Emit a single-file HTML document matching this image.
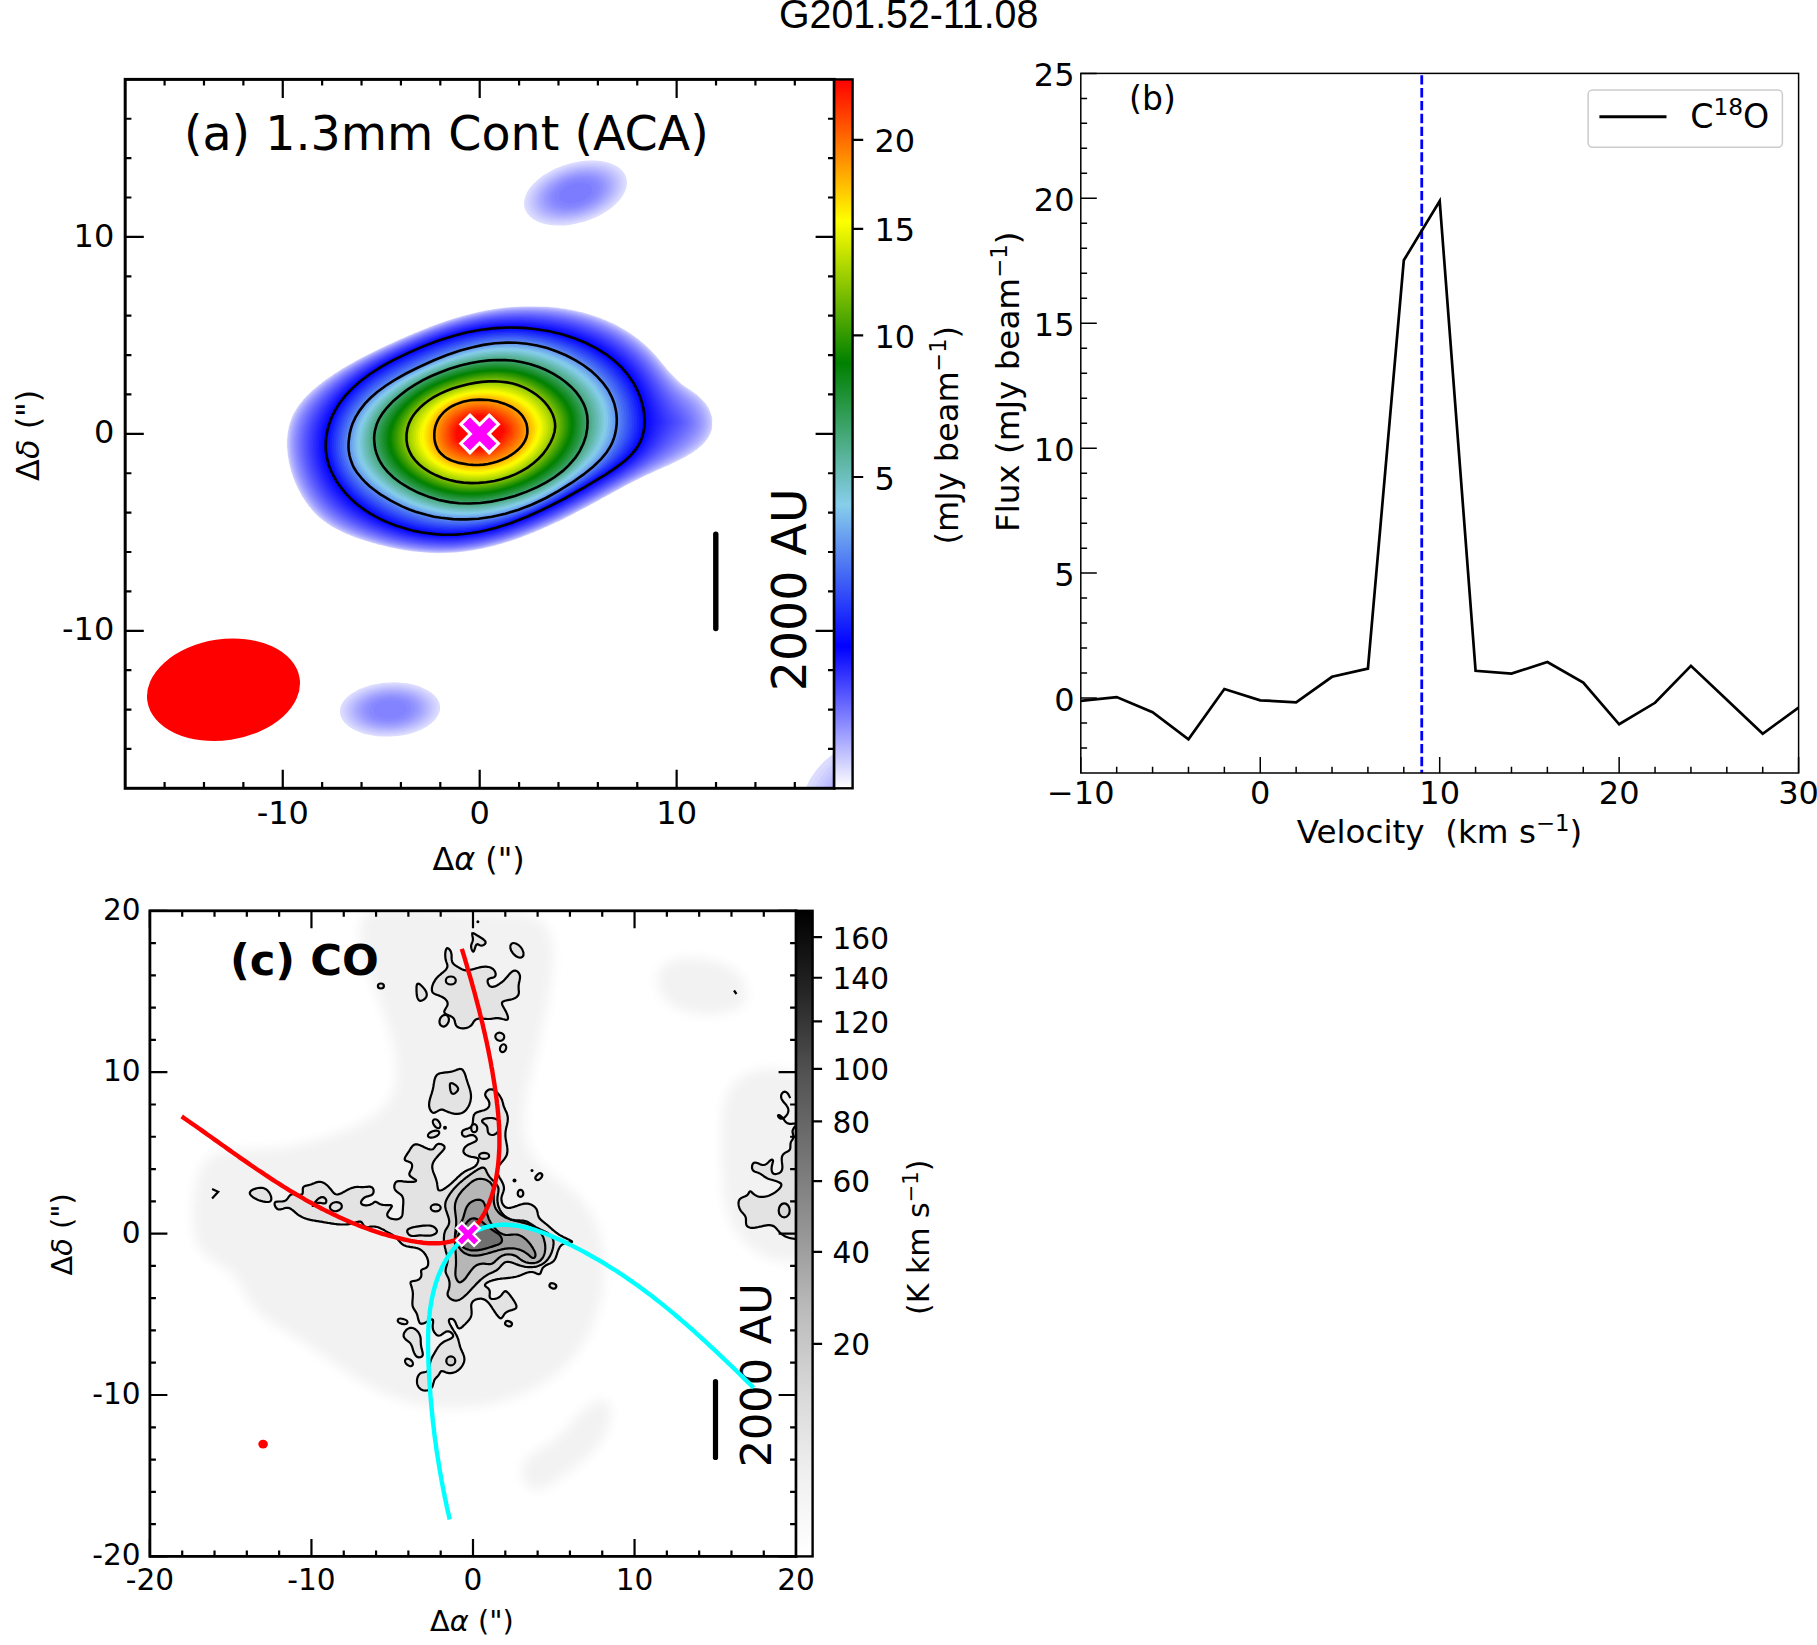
<!DOCTYPE html><html><head><meta charset="utf-8"><title>G201.52-11.08</title><style>html,body{margin:0;padding:0;background:#fff;overflow:hidden}svg{display:block}</style></head><body>
<svg xmlns="http://www.w3.org/2000/svg" width="1817" height="1645" viewBox="0 0 1817 1645">
<rect width="1817" height="1645" fill="#fff"/>
<defs><clipPath id="clipA"><rect x="125.2" y="79.4" width="709.0" height="708.9"/></clipPath>
<linearGradient id="cbA" x1="0" y1="1" x2="0" y2="0"><stop offset="0" stop-color="#ffffff"/><stop offset="0.2" stop-color="#0000ff"/><stop offset="0.4" stop-color="#87ceeb"/><stop offset="0.6" stop-color="#008000"/><stop offset="0.8" stop-color="#ffff00"/><stop offset="1" stop-color="#ff0000"/></linearGradient>
<linearGradient id="cbC" x1="0" y1="1" x2="0" y2="0"><stop offset="0.000" stop-color="#ffffff"/><stop offset="0.125" stop-color="#f0f0f0"/><stop offset="0.250" stop-color="#d9d9d9"/><stop offset="0.375" stop-color="#bdbdbd"/><stop offset="0.500" stop-color="#969696"/><stop offset="0.625" stop-color="#737373"/><stop offset="0.750" stop-color="#525252"/><stop offset="0.875" stop-color="#252525"/><stop offset="1.000" stop-color="#000000"/></linearGradient>
</defs>
<g clip-path="url(#clipA)">
<path fill="rgb(220,220,255)" fill-rule="evenodd" d="M582.3,161 589,160.5 595,160.5 601,161 606,162 611,163.5 616,165.8 619.4,168 622.5,171 624.7,174 626.3,178 626.9,182 626.7,186 625.6,190 623.7,194 621.2,198 617.8,202 613.7,206 609,209.7 603,213.6 598,216.2 591,219.3 585,221.5 572,224.5 565,225.4 559,225.6 553,225.3 547,224.5 542,223.2 537,221.3 533,219 530,216.6 527,213.1 525.3,210 524.2,206 524.1,202 524.8,198 526.7,193 529.8,188 533.2,184 538,179.4 543,175.6 549,171.9 555,168.8 562,165.9 569,163.7 575,162.2 582.3,161ZM511.9,307 525,306.6 549,306.8 550,306.9 551,307.5 559,307.8 560,308.5 566,308.8 567,309.6 571,309.8 573,310.6 576,310.8 577,311.6 581,311.9 582,312.6 584,312.8 585,313.6 588,313.8 589,314.6 591,314.8 592,315.6 594,315.8 595,316.6 597,316.8 598,317.6 600,317.8 603,319.6 605,319.8 608,321.6 609,321.7 610,322.6 612,322.9 618,325.9 620,327.6 621,327.7 622,328.6 625,329.9 627,331.6 628,331.8 630,333.6 631,333.8 633,335.6 634,335.8 637,338.6 638,338.8 642,342.6 643,342.9 649,348.7 657.1,357 657.4,358 666.1,368 666.4,369 682,384.7 683,384.9 685,386.7 686,386.9 688,388.7 689,388.9 691,390.7 692,391 695,393.7 696,393.9 706.1,404 706.3,405 708.1,407 709.3,410 710.1,411 710.3,413 711.2,414 711.3,416 712.1,417 712.2,418 712.1,429 711.3,430 711.1,432 710.3,433 710.2,434 709.3,435 709.2,436 708.3,437 708.1,438 705.3,441 705.1,442 700,447.1 699,447.3 696,450.2 695,450.3 692,453 691,453.3 690,454.2 689,454.3 687,456.1 686,456.3 685,457.2 684,457.3 683,458.2 682,458.3 681,459.2 680,459.3 679,460.2 678,460.3 677,461.2 676,461.3 675,462.2 674,462.3 673,463.2 672,463.3 669,465.1 667,466 665,466.4 664,467.3 663,467.4 660,469.1 658,469.4 657,470.3 656,470.4 655,471.3 654,471.4 653,472.2 652,472.4 649,474.1 647,474.4 646,475.3 645,475.4 644,476.3 643,476.4 642,477.3 641,477.4 640,478.3 639,478.4 638,479.3 637,479.4 634,481.3 633,481.4 632,482.3 631,482.4 630,483.3 629,483.5 628,484.3 627,484.5 626,485.3 625,485.5 623,487.1 618,489.4 617,490.3 616,490.4 615,491.3 614,491.5 613,492.4 612,492.5 610,494.2 607,495.4 606,496.3 605,496.5 604,497.3 603,497.5 599,500.2 596,501.5 595,502.3 594,502.5 593,503.4 592,503.5 590,505.2 587,506.4 586,507.3 585,507.5 584,508.3 583,508.5 582,509.3 581,509.5 580,510.4 579,510.5 578,511.4 577,511.5 575,513.1 561,520.2 557,522 555,522.5 554,523.4 553,523.5 552,524.3 551,524.5 550,525.3 549,525.5 546,527.2 544,527.5 543,528.4 542,528.5 539,530.2 537,530.5 536,531.4 535,531.5 532,533.1 530,533.5 529,534.3 525,535.5 524,536.3 522,536.5 521,537.3 517,538.5 516,539.2 514,539.5 513,540.2 511,540.5 510,541.2 508,541.5 507,542.1 504,542.5 503,543.3 501,543.5 500,544.2 497,544.5 496,545.3 494,545.5 493,546.1 490,546.5 488,547.3 485,547.5 484,548.3 481,548.5 479,549.3 475,549.5 474,550.2 469,550.5 468,551.2 461,551.5 460,552.1 459,552.2 447,552.5 445,553.1 437,553.2 434,553.1 433,552.5 419,552.1 418,551.5 411,551.2 410,550.5 404,550.2 403,549.5 399,549.3 397,548.5 393,548.1 392,547.5 389,547.2 388,546.5 384,546.1 383,545.4 377,544.2 376,543.5 373,543.2 372,542.4 370,542.2 369,541.4 366,541 365,540.4 363,540.1 362,539.4 360,539.1 359,538.4 357,538.1 356,537.4 355,537.3 354,536.4 352,536.2 349,534.4 347,534.2 346,533.4 343,532.3 342,531.4 341,531.3 340,530.4 339,530.3 338,529.4 337,529.3 336,528.4 335,528.3 334,527.4 333,527.2 332,526.3 331,526.1 329,524.3 328,524.1 325,521.4 324,521.2 321,518.3 320,518 319,517.1 311.9,510 311.6,509 307.9,505 307.7,504 305.8,502 305.6,501 303.8,499 303.6,498 301.8,496 301.7,495 300.8,494 300.6,493 299.7,492 299.6,491 298.7,490 298.6,489 297.7,488 297.6,487 296.7,486 296.6,485 294.9,482 294.6,480 292.9,477 292.7,475 291.9,474 291.7,472 291,471 290.6,468 289.9,467 289.6,464 288.9,463 288.6,458 287.9,457 287.6,449 286.9,448 286.9,440 286.9,439 287.6,438 287.8,431 288.6,430 288.9,426 289.6,425 289.8,423 290.6,422 290.8,420 291.6,419 292,417 293.7,414 293.9,413 295.6,411 295.8,410 296.7,409 296.9,408 298.7,406 298.9,405 302.6,401 302.9,400 313,389.8 314,388.9 315,388.6 319,384.8 320,384.6 323,381.8 325,380.6 327,378.8 328,378.6 330,376.7 331,376.6 334,374 336,372.7 337,372.6 339,370.8 340,370.6 342,368.8 345,367.5 347,365.8 350,364.6 351,363.7 352,363.5 354,361.8 357,360.6 358,359.7 359,359.5 360,358.7 361,358.5 362,357.6 363,357.5 364,356.6 365,356.5 366,355.6 367,355.5 368,354.6 369,354.5 370,353.6 371,353.5 372,352.6 373,352.5 374,351.6 375,351.5 376,350.6 377,350.5 380,348.6 381,348.5 382,347.7 383,347.5 384,346.7 385,346.5 390,343.8 392,343.5 393,342.6 394,342.5 395,341.6 396,341.5 397,340.7 398,340.5 401,338.8 403,338.5 404,337.6 405,337.5 408,335.8 412,334.5 415,332.8 417,332.5 420,330.7 422,330.5 425,328.7 427,328.5 430,326.8 432,326.5 433,325.7 437,324.5 438,323.8 440,323.5 441,322.7 443,322.5 444,321.7 446,321.5 447,320.7 449,320.5 450,319.7 452,319.5 453,318.8 455,318.5 456,317.8 459,317.5 460,316.7 462,316.5 463,315.8 466,315.5 467,314.7 470,314.5 471,313.7 474,313.5 475,312.7 478,312.5 479,311.8 483,311.5 484,310.8 488,310.5 489,309.9 494,309.5 496,308.7 501,308.5 503,307.8 511,307.5 511.9,307ZM382,683 395,682.3 407,683.3 413,684.5 419,686.3 428,690.4 431.8,693 435.1,696 437.4,699 439,702 439.9,705 440,709 439.5,712 437.7,716 435,719.8 431.7,723 427,726.4 422,729.2 416,731.7 410,733.7 403,735.2 397,736.1 390,736.6 383,736.6 377,736.2 370,735.1 364,733.7 358,731.6 352.7,729 348.2,726 344.9,723 342.6,720 341,717 340.1,714 339.9,711 340.5,707 342.3,703 344.3,700 347.2,697 350.9,694 359,689.3 370,685.3 382,683ZM834.6,753 835,752.7 835,789 805.2,789 810.2,779 817.1,769 825,760.6 834.6,753Z"/>
<path fill="rgb(214,214,255)" fill-rule="evenodd" d="M586.5,162 598,162.2 603,163 608,164.3 612.3,166 616,168.1 619.6,171 622,174 623.5,177 624.5,181 624.6,184 624,188 622.6,192 620.4,196 617.4,200 614,203.6 610,207.1 605,210.7 594,216.6 583,220.7 576,222.4 570,223.5 558,224.1 552,223.7 547,222.8 542,221.4 538,219.7 534,217.2 531.4,215 529,212 527.1,208 526.4,204 526.6,200 527.6,196 530,191 532.8,187 537,182.4 542,178.1 547,174.7 553,171.3 559,168.5 565,166.3 572,164.2 580,162.7 586.5,162ZM512.6,307 530,306.7 549,306.9 551,307.6 559,308 560,308.6 566,309 567,309.7 571,309.9 573,310.7 576,310.9 577,311.7 580.6,312 582,312.7 584,312.9 585,313.7 588,314 589,314.7 591,314.9 592,315.7 594,315.9 595,316.7 597,316.9 598,317.7 600,318 603,319.7 605,320 608,321.7 609,321.8 610,322.7 611.8,323 617.8,326 620,327.7 621,327.9 622,328.7 624.8,330 627,331.7 628,332 630,333.7 631,334 633,335.8 634,336 637,338.7 638,339 642,342.8 644,344 649,348.8 656,356 657.2,358 666,368.1 666.2,369 674.8,378 682,384.8 682.9,385 685,386.8 693,392 695,393.8 696,394.1 702.1,400 706,404.3 710,411.3 710.2,413 711,414 711.2,416 711.9,417 712.1,419 712,428 710,433.9 707,439 702.9,444 696,450 695,450.2 693,452 690,454 689,454.2 685,457 684,457.2 683,458 682,458.2 681,459.1 680,459.2 679,460.1 678,460.2 677,461.1 676,461.2 675,462.1 674,462.2 671,464 666.5,466 665,466.3 664,467.1 663,467.2 659.9,469 658,469.3 657,470.2 656,470.3 655,471.1 654,471.3 648.8,474 647,474.3 646,475.2 645,475.3 644,476.2 643,476.3 642,477.2 641,477.3 640,478.1 639,478.3 638,479.1 633,481.3 632,482.2 631,482.3 630,483.2 629,483.3 628,484.2 627,484.4 626,485.2 625,485.4 621,488 616,490.3 615,491.2 614,491.4 613,492.2 612,492.4 610,494 607,495.3 606,496.2 605,496.4 604,497.2 603,497.4 599,500.1 596,501.3 595,502.2 594,502.4 593,503.2 592,503.4 588,506.1 583,508.4 582,509.2 581,509.4 580,510.2 579,510.4 578,511.3 577,511.4 574.9,513 561,520 556.7,522 555,522.4 554,523.2 553,523.4 552,524.2 551,524.4 546,527 544,527.4 543,528.2 542,528.4 539,530.1 537,530.4 534,532.2 530,533.4 529,534.2 525,535.4 524,536.1 522,536.4 521,537.2 517,538.4 516,539 514,539.4 513,540 511,540.4 506.9,542 504,542.4 503,543.2 501,543.4 500,544.1 497,544.4 496,545.2 490,546.4 488,547.2 485,547.4 484,548.1 481,548.4 479,549.1 475,549.4 473,550.2 469,550.4 467,551.1 461,551.4 459,552.1 438,553 434,552.9 433,552.4 419.3,552 418,551.4 411,551 410,550.4 404,550 403,549.4 399,549.1 397,548.3 393.2,548 392,547.3 389,547.1 388,546.4 385,546.1 383,545.3 377,544.1 376,543.3 373,543 372,542.3 370,542.1 369,541.3 366.4,541 362,539.3 360.3,539 359,538.3 357.4,538 355,537.1 354,536.3 352,536 349,534.3 347,534 331.3,526 329,524.2 328,523.9 325,521.3 324,521 318,516 313,511 311.8,509 308,504.9 307.8,504 305.9,502 305.8,501 303.9,499 303.8,498 302,495.9 300.8,493 299.9,492 299.8,491 298.9,490 298.8,489 297.9,488 297.8,487 296.9,486 296.8,485 295,481.9 294.7,480 293.9,479 292.8,475 292,473.7 291.8,472 291,470.4 290.8,468 290,466.7 289.8,464 289,462.3 288.7,458 288,456.8 287.7,449 287.2,448 287,446 287,441 287.2,439 287.7,438 288,431.1 288.7,430 289,426.3 289.8,425 289.9,423 290.7,422 291,420 291.8,419 292,417.5 294,413.2 295.7,411 295.9,410 299,405.2 302.8,401 304,399 312,391 315,388.7 319,385 320,384.7 327,379 328,378.7 330,376.9 331,376.7 333,374.9 336,372.9 337,372.7 342,369 345,367.7 347,366 350,364.7 351,363.8 352,363.6 356,360.9 359,359.7 360,358.8 361,358.6 362,357.8 363,357.6 364,356.8 365,356.6 366,355.7 367,355.6 368,354.7 369,354.6 370,353.7 371,353.6 372,352.7 373,352.6 374,351.7 375,351.6 376,350.7 377,350.6 378,349.7 379,349.6 380,348.8 381,348.6 382,347.8 383,347.6 388,344.9 392,343.6 395,341.8 396,341.6 401,339 403,338.6 404,337.7 405,337.6 408,335.9 412,334.6 413,333.8 417,332.6 420,330.9 422,330.6 425,328.9 427,328.6 430,326.9 432,326.6 433,325.8 437,324.6 438,324 440,323.6 441,322.9 443,322.6 444,321.9 446,321.6 447,320.8 449,320.6 450,319.9 452,319.6 453,318.9 455,318.6 456,318 459,317.6 460,316.8 462,316.6 463,316 466,315.6 467,314.9 470,314.6 471,313.9 474,313.6 475,312.9 478,312.6 479,312 483,311.6 484,311 488,310.6 489.2,310 494,309.6 496,308.9 501,308.6 503,307.9 511,307.6 512.6,307ZM384.3,684 396,683.6 408,684.8 418,687.5 423,689.5 427,691.7 430.2,694 433.4,697 435.6,700 437,703 437.7,706 437.6,710 436.8,713 435.4,716 432.3,720 429,723 424.7,726 420,728.6 415,730.6 408,732.8 401,734.3 395,735.1 388,735.5 381,735.3 374,734.5 368,733.3 362,731.5 357,729.5 352.6,727 348.6,724 345.8,721 343.9,718 342.7,715 342.2,712 342.4,709 343.2,706 344.6,703 347,699.8 349.8,697 353.7,694 362,689.5 373,685.9 384.3,684ZM834.7,758 835,757.7 835,789 809.7,789 814.4,780 820,772 827,764.4 834.7,758Z"/>
<path fill="rgb(207,207,255)" fill-rule="evenodd" d="M579.7,164 591,163.2 597,163.5 602,164.3 607,165.6 611,167.3 615,169.7 617.7,172 620.1,175 621.6,178 622.4,181 622.5,185 621.7,189 620.1,193 617.7,197 615,200.4 611.4,204 607,207.6 597,213.8 586,218.4 574,221.6 562,222.8 556,222.7 551,222.1 546,221 542,219.6 538,217.6 534.3,215 531.6,212 529.8,209 528.8,206 528.4,202 529,198 530.4,194 532.6,190 536,185.6 539.6,182 544.5,178 550,174.4 555,171.7 567,166.9 573,165.3 579.7,164ZM514.8,307 547.2,307 551,307.7 557.5,308 560,308.8 564.7,309 567,309.8 570.4,310 573,310.8 575.4,311 577,311.8 579.7,312 584,313.1 585,313.8 587.2,314 589,314.8 590.6,315 592,315.8 593.7,316 595,316.8 596.6,317 598,317.8 602,319 603,319.8 606.8,321 610,322.8 611.2,323 617.2,326 620,327.8 621,328 630.6,334 640,341 651,351 659,360 666.1,369 676,379.6 682,384.9 697.7,396 701.9,400 705,403.7 708,408.4 710,412.7 711.3,417 712,422 711.8,426 710.9,430 709,434.8 707,438.2 704,442.1 699,447 690.9,453 684.2,457 666,466 665,466.1 659.3,469 658,469.2 657,470 656,470.2 648.3,474 647,474.2 646,475 645,475.2 644,476 643,476.2 642,477 641,477.2 640,478 631,482.2 630,483 629,483.2 628,484.1 627,484.2 626,485.1 625,485.3 617,490 614,491.3 613,492.1 612,492.3 606,496 603,497.3 597,501 594,502.3 593,503.1 592,503.3 586,507 581,509.3 580,510.1 579,510.3 578,511.1 577,511.3 574.5,513 560.6,520 556.4,522 555,522.3 554,523.1 553,523.3 547.9,526 544,527.3 541,529 537,530.3 534,532 530,533.3 529,534 525,535.3 523.8,536 522,536.3 521,537.1 506.4,542 501,543.3 499.7,544 497,544.3 496,545 490,546.3 488,547 485,547.3 483.8,548 481,548.3 478.9,549 475,549.3 473,550.1 469,550.3 466.9,551 461,551.3 458.3,552 439,552.8 420.9,552 418,551.3 412,551 410,550.3 405,550 403,549.3 399.2,549 397,548.2 394.1,548 392,547.2 389,546.9 388,546.3 385.1,546 383,545.2 381.1,545 377,543.9 376,543.2 370.3,542 369,541.2 367,541 355.2,537 354,536.2 352.6,536 350,535 349,534.2 345.3,533 342,531.2 341,531 340,530.2 339,530 338,529.2 337,529 330.2,525 323.1,520 317.4,515 312,509.3 307,503 303,497 298,487.8 295,481.1 292,472.7 290,465.5 288,454.5 287.4,446 287.5,439 288,433 290,423.8 292,418.1 296,410.2 301,403 307,396.1 313.5,390 323.2,382 330.1,377 331,376.8 333,375 336,373 337,372.8 344,368 345,367.8 349,365 352,363.7 358,360 363,357.7 364,356.9 365,356.7 366,355.9 367,355.7 368,354.9 369,354.7 370,353.8 371,353.7 372,352.8 373,352.7 374,351.9 375,351.7 376,350.9 377,350.7 378,349.9 379,349.7 386,346 390.4,344 392,343.7 395,341.9 401.4,339 403,338.7 404,337.9 405,337.7 408.2,336 412,334.7 415.2,333 417,332.7 420.1,331 422,330.7 425,329 427,328.7 428,327.9 432,326.7 433,325.9 438.3,324 443,322.7 444,322 446,321.7 447,321 449,320.7 450,320 452,319.7 456.5,318 459,317.7 460,317 462,316.7 463.4,316 466,315.7 467.1,315 470,314.7 471,314 474,313.7 475.2,313 478,312.7 480,311.9 483,311.7 484.6,311 488,310.7 490,310 494,309.7 496.3,309 501,308.7 503.9,308 511,307.7 514.8,307ZM386.1,685 398,684.8 409,686.3 419,689.3 423,691.2 427,693.6 429.9,696 432.6,699 434.4,702 435.4,705 435.7,708 435.3,711 434.2,714 432.5,717 430,720 426,723.4 421.9,726 417,728.5 411,730.7 405,732.3 393,734.1 386,734.3 380,734 374,733.3 368,732 363,730.5 358,728.3 353.9,726 350.1,723 347.4,720 345.6,717 344.6,714 344.3,711 344.7,708 345.8,705 347.5,702 350,699 356.4,694 365,689.7 375,686.7 386.1,685ZM834.2,763 835,762.4 835,789 813.8,789 817.5,782 822.4,775 828,768.6 834.2,763Z"/>
<path fill="rgb(201,201,255)" fill-rule="evenodd" d="M581.2,165 587,164.5 593,164.5 598,165 603,166 607,167.3 611,169.2 614,171.2 616.9,174 618.9,177 620.1,180 620.5,183 620.3,187 619.5,190 617.7,194 615,198 612.5,201 605,207.5 595,213.5 584,217.9 573,220.5 562,221.6 556,221.3 551,220.7 546,219.4 542.3,218 539,216.2 536,214 533.3,211 531.6,208 530.7,205 530.5,201 531.2,197 532.8,193 535.2,189 538.5,185 542,181.7 546.7,178 552,174.6 557,172 563,169.5 569,167.5 581.2,165ZM518.4,307 543.3,307 555.3,308 568.9,310 582.5,313 595.7,317 608.3,322 622.1,329 633,336 641.9,343 651,351.5 657,358.1 669.3,373 676,380.2 682,385.4 697.9,397 701.9,401 705,404.9 707,408 709.4,413 710.6,417 711.2,422 711,426 710,430.5 708,435.2 706,438.4 702,443.3 696.8,448 689.9,453 683.2,457 669.4,464 647,474.1 625,485.2 583.7,508 560.2,520 545.2,527 544,527.2 543,528 537,530.2 536,531 517.9,538 499.1,544 497,544.2 491.6,546 478,549 475,549.2 472.3,550 469,550.2 465.5,551 461,551.2 456.2,552 436,552.5 423.4,552 418,551.2 413.6,551 410,550.2 406.5,550 403,549.2 400.5,549 390.5,547 367.9,541 356.1,537 346,533 337.7,529 329.3,524 322.5,519 317,514.1 312,508.8 306,500.9 301,492.8 297,484.8 294,477.4 291,467.8 289,458.5 288,450.4 287.8,443 288.1,436 289,429.6 291,422 294,414.7 298,407.8 303,401.1 307.6,396 315,389 325,381 335,374 346.1,367 362.1,358 367,355.8 368,355 369,354.8 370,354 371,353.8 372,353 373,352.8 374,352 375,351.8 376,351 377,350.8 378,350 413.3,334 417,332.8 420.5,331 422,330.8 425.5,329 427,328.8 428,328 441.7,323 457.1,318 459,317.8 460.5,317 466,315.8 467.8,315 470,314.8 471.8,314 474,313.8 480.6,312 491.2,310 505.8,308 518.4,307ZM387.4,686 398,686 408,687.3 417.2,690 425,694.1 428,696.5 430.4,699 432.2,702 433.3,705 433.6,708 433.3,711 432.2,714 430.4,717 427.7,720 424.1,723 420,725.6 415,728 410,729.8 404,731.4 392,733 380,732.9 374,732.1 368,730.7 363,729.1 358.4,727 355,724.9 351.4,722 349.6,720 347.8,717 346.7,714 346.4,711 346.7,708 347.8,705 349.6,702 352.3,699 359,694 367,690.3 377,687.4 387.4,686ZM834.6,767 835,766.7 835,789 817.5,789 820.8,783 825,777 829.3,772 834.6,767Z"/>
<path fill="rgb(194,194,255)" fill-rule="evenodd" d="M582.6,166 593,165.8 602,167.2 606,168.5 610,170.5 613,172.6 615.3,175 617.2,178 618.3,181 618.7,184 618.4,187 617.7,190 615.9,194 613.2,198 610.6,201 603,207.4 594,212.7 583,217 572,219.5 561,220.3 551,219.3 547,218.2 543,216.6 540,214.9 537,212.5 534.9,210 533.3,207 532.5,204 532.4,200 533.3,196 535.1,192 537.8,188 540.4,185 544,181.6 548.8,178 559,172.4 565,170 571,168.1 582.6,166ZM525.5,307 538,307.1 554,308.2 567.1,310 584.9,314 600.1,319 611.8,324 623,330 635,338 643.6,345 651,352.1 658,360 669.5,374 676,380.9 682,386.1 696.8,397 700.9,401 704.1,405 706.6,409 708.5,413 709.9,418 710.4,422 710.2,426 709,430.8 707,435.3 704.6,439 700.2,444 695.7,448 690.2,452 682,457 670.4,463 634,480.4 585.1,507 559.7,520 537.8,530 517.2,538 498.3,544 476.8,549 463.7,551 453.2,552 434,552.3 425,551.9 408.2,550 387.4,546 375.8,543 362.8,539 351.8,535 342.6,531 334.9,527 327.1,522 321.9,518 316,512.5 311,506.9 306,500.1 301,491.8 297,483.6 294,476 291,465.8 289,455.2 288.4,448 288.3,441 289,432.6 291,423.6 293,418 296,411.9 300,405.7 304.5,400 310.1,394 319.1,386 328.3,379 340.1,371 351.7,364 366.5,356 382.7,348 400,340 421,331 436.6,325 451.3,320 464.9,316 477.1,313 499.6,309 508.4,308 525.5,307ZM388.3,687 398,687 408,688.5 417,691.3 424,695.2 427,697.7 428.9,700 430.7,703 431.5,706 431.6,709 431,712 428.3,717 425.5,720 421.7,723 418,725.2 413,727.5 403,730.5 391,732 380,731.8 369,729.8 364,728.1 359.5,726 356,723.8 352.7,721 351,718.9 349.3,716 348.5,713 348.4,710 349,707 350.3,704 354.5,699 361,694.4 369,690.8 378,688.3 388.3,687ZM834.7,771 835,770.8 835,789 820.9,789 827,779.5 834.7,771Z"/>
<path fill="rgb(188,188,255)" fill-rule="evenodd" d="M584.3,167 594,167.1 599,167.9 603,169 607,170.6 610,172.4 613,175 614.5,177 616,180 616.7,183 616.7,186 616.2,189 614.6,193 612.9,196 607.7,202 600,208 591,212.9 581,216.5 571,218.6 561,219.1 551.4,218 544,215.4 541,213.6 538,211 535.9,208 534.7,205 534.2,202 534.6,198 535.5,195 537.5,191 540.4,187 543.3,184 547,180.8 552,177.4 562,172.3 573,168.8 584.3,167ZM511.8,308 530,307.3 546,307.8 559,309.1 575.3,312 590.3,316 604,321 616.7,327 628.5,334 637,340.1 646.2,348 654,356.1 668.8,374 675,380.7 681,386.1 696,397.4 699.7,401 703,405 706,409.9 707.8,414 708.9,418 709.4,422 709.2,426 708.2,430 707,433.2 704.9,437 700.9,442 696,446.7 690.3,451 682.3,456 671.1,462 633,480.6 584.5,507 563.2,518 541.8,528 519.3,537 500.9,543 480.7,548 461.5,551 449,552 438,552.1 418.4,551 403.8,549 393.4,547 380.8,544 370.3,541 358.3,537 348.1,533 339.6,529 332.5,525 325.3,520 319.3,515 313,508.4 308,502 303,494.2 299,486.6 295,477.1 292,467.5 290,458.1 289.1,451 288.8,443 289.1,436 290.2,429 292.1,422 295,415 298,409.6 302,403.8 307.8,397 315,390 324.8,382 336.1,374 347.2,367 359.5,360 372.9,353 405.1,338 434.6,326 449,321 462.2,317 473.9,314 488.4,311 501.8,309 511.8,308ZM389.1,688 399,688.2 408,689.6 416,692.2 419.6,694 423,696.3 426,699 427.5,701 428.7,703 429.6,706 429.7,709 429.1,712 426.3,717 423.3,720 420,722.5 415.7,725 411,727 401,729.8 390,731 379,730.6 369,728.6 364.6,727 360.4,725 357,722.7 354,720 352.5,718 350.9,715 350.4,713 350.3,710 351.8,705 353.7,702 356,699.6 362.4,695 370,691.6 379,689.2 389.1,688ZM834.8,775 835,774.8 835,789 824.2,789 829,781.6 834.8,775Z"/>
<path fill="rgb(182,182,255)" fill-rule="evenodd" d="M577.2,169 587,168 596,168.6 604,170.9 607,172.4 610,174.6 612,176.7 613.5,179 614.6,182 614.9,185 614.6,188 613.8,191 612,194.6 609.6,198 603.5,204 595,209.7 586,213.7 576,216.6 566,217.9 556,217.5 548,215.5 544.7,214 541.7,212 539.6,210 537.5,207 536.4,204 536.1,201 536.4,198 537.2,195 539,191.4 541.4,188 544.1,185 548,181.6 556.6,176 567,171.6 577.2,169ZM516.8,308 533,307.7 548,308.4 562.2,310 577.7,313 591.9,317 605.2,322 617.6,328 630.6,336 638.5,342 646.5,349 654,356.9 667.2,373 674.4,381 681,387 695.3,398 699.3,402 702.4,406 704.9,410 706.7,414 707.8,418 708.3,422 708,426 707,430.3 705.4,434 703,437.9 699,442.6 694,447.1 687.3,452 679.1,457 667.8,463 632,480.7 583.9,507 562.6,518 538.8,529 518.5,537 499.9,543 479.2,548 458.7,551 439,551.9 420,550.8 405.9,549 395.1,547 382.3,544 368.5,540 356.9,536 347,532 338.8,528 332,524 324.9,519 318.1,513 312,506.3 307,499.5 302,491.2 298,483 294.9,475 292,465 290.5,457 289.6,449 289.5,441 290,434.1 291.1,428 293.1,421 295.7,415 299,409 304,402.2 309.5,396 318.1,388 328.2,380 338.2,373 351.2,365 363.8,358 379.7,350 415,334 440.9,324 453,320 467,316 479.7,313 490.2,311 504.6,309 516.8,308ZM389.9,689 399,689.3 408,690.8 415,693.2 421.5,697 425.5,701 426.6,703 427.7,706 427.9,708 427.5,711 426.3,714 425,716 422.3,719 419,721.6 411,725.8 401,728.7 390,730 379,729.5 369,727.3 365,725.8 361,723.7 358,721.6 355.3,719 353.9,717 352.6,714 352.2,712 352.3,709 353,706.6 354.3,704 358,699.7 364,695.6 372,692.1 381,689.9 389.9,689ZM834.7,779 835,778.7 835,789 827.4,789 830.7,784 834.7,779Z"/>
<path fill="rgb(175,175,255)" fill-rule="evenodd" d="M577.8,170 587,169.2 596,169.9 603,172.1 606.5,174 609,176 611,178.4 612.3,181 613.1,186 612.6,189 611.6,192 607.8,198 601.6,204 593.8,209 584.8,213 575,215.7 566,216.8 557,216.4 549,214.4 546,212.9 543,210.9 541,208.9 539.1,206 538.1,203 537.9,200 538.4,197 539.4,194 543.2,188 549.4,182 558,176.6 568,172.4 577.8,170ZM508.2,309 525,308.1 540,308.3 556,309.6 571,312 587.1,316 601.4,321 614.5,327 626.6,334 636.4,341 646,349.4 654,357.8 667.2,374 674,381.7 680,387.3 694.8,399 700.3,405 703,409 705,413 706.3,417 707,421 707,425 706.2,429 705,432.1 702.9,436 699,441 693.7,446 687.1,451 679.2,456 668.3,462 630,481.3 586.9,505 565.9,516 544.9,526 523.1,535 502.3,542 482.6,547 471.9,549 462,550.3 452,551.2 441,551.5 430,551.2 420,550.5 408.3,549 397.1,547 384,544 373.2,541 361.1,537 350.7,533 342,529 334.7,525 327.2,520 321,514.9 315.1,509 310.3,503 305,495.1 301,487.8 297,478.8 294,470 292,462 290.7,454 290.1,446 290.3,438 291.2,431 293,423.4 295.4,417 299,410.3 303.3,404 308.4,398 315.4,391 325,383 336,375 345.2,369 357.1,362 370.3,355 401.9,340 430.8,328 444.7,323 457.3,319 468.2,316 481.2,313 492.2,311 508.2,309ZM391.9,690 401,690.6 409,692.3 415.8,695 421,698.5 423.3,701 424.6,703 425.4,705 425.9,708 425.5,711 424.8,713 422.1,717 419,719.9 415.9,722 408,725.7 399,728 389,729 378,728.3 369,726.1 362,722.7 359,720.5 356.7,718 355.4,716 354.3,713 354.1,711 354.5,708 355.7,705 357,703 361,699.1 367.9,695 375,692.4 383,690.7 391.9,690ZM834.7,783 835,782.7 835,789 830.4,789 834.7,783Z"/>
<path fill="rgb(169,169,255)" fill-rule="evenodd" d="M578.7,171 588,170.4 596,171.3 603,173.8 607.5,177 609.1,179 610.6,182 611.1,184 611.1,187 609.8,192 608.2,195 606,198 600.8,203 593,208.2 584.3,212 575,214.5 566,215.6 557,215.1 550,213.1 544.6,210 542.6,208 541,205.5 540.1,203 539.8,200 540.2,197 541.2,194 542.8,191 545,188 547.9,185 551.5,182 559.6,177 569,173.2 578.7,171ZM513.1,309 530,308.5 546,309.1 562.5,311 577.6,314 591.6,318 604.8,323 617.1,329 628.5,336 637.9,343 646.8,351 654,358.8 666.2,374 673.2,382 680,388.4 693.2,399 696.3,402 699.6,406 702,409.8 704,414 705.2,418 705.8,422 705.6,425 704.8,429 703.6,432 701.4,436 697.4,441 692,446 685.4,451 677.5,456 666.7,462 631,480.3 588.1,504 567.2,515 544.1,526 522.2,535 501.2,542 481,547 462,550 449.3,551 439,551.2 419,550 404.6,548 394.3,546 381.9,543 371.6,540 359.8,536 349.8,532 341.3,528 334.3,524 327,519 321,514 315.2,508 310,501.4 305.2,494 301,486.2 297.1,477 294.5,469 292.2,459 291.2,451 290.9,443 291.2,436 292.3,429 294.2,422 296.7,416 300,410 304.2,404 310.1,397 317.4,390 327.1,382 336.7,375 347.6,368 359.7,361 372.9,354 407.1,338 423.9,331 437,326 462,318 473.7,315 488.4,312 502.3,310 513.1,309ZM381.6,692 390,691.1 399,691.4 407,693 414,695.6 419.1,699 421.1,701 423,704 423.9,708 423.6,711 422.8,713 421,715.8 419,718 414,721.6 406.4,725 398.4,727 390,727.9 381,727.6 372.9,726 365.3,723 360,719.2 357,715 356.1,711 356.4,708 357.2,706 359,703.2 361,701 366,697.4 373.6,694 381.6,692ZM834.8,787 835,786.7 835,789 833.4,789 834.8,787Z"/>
<path fill="rgb(163,163,255)" fill-rule="evenodd" d="M580,172 588,171.6 596,172.8 602,175.1 604.8,177 606.7,179 608.8,183 609.2,185 609.1,188 608.4,191 607,193.9 603.2,199 597.4,204 590,208.4 582,211.6 573,213.7 565,214.4 557,213.7 550,211.4 547.5,210 545.1,208 543.6,206 542.2,203 541.8,201 541.9,198 542.6,195 544,192.1 547.8,187 554,181.7 562,177.1 571,173.8 580,172ZM521.8,309 538,309.1 553,310.2 569,312.7 583.1,316 595.6,320 607.8,325 619.4,331 630.3,338 639.3,345 646.8,352 654,359.9 667,376.1 673,383 679,388.8 692.5,400 695.5,403 698.7,407 701.1,411 702.9,415 704,419 704.4,422 704.2,425 703.3,429 702,432.3 699.8,436 695.6,441 690,446.1 683.5,451 674,457 630,480.4 587.3,504 566.4,515 543.2,526 521.2,535 499.9,542 479.2,547 467.2,549 458.5,550 447,550.7 436,550.7 423.1,550 414.1,549 401.5,547 391.9,545 380.1,542 367.2,538 356.2,534 346.9,530 339,526 332.4,522 325.6,517 320,512 314.5,506 309,498.7 304,490.4 300,482.2 296.9,474 294,464 292.5,456 291.8,449 291.7,441 292.3,434 293.6,427 295.8,420 298.6,414 302.1,408 306.6,402 313,395 321.7,387 331.9,379 342.1,372 355.1,364 367.9,357 383.9,349 401.2,341 419.8,333 446.7,323 459.7,319 471,316 485,313 497.5,311 509,309.8 521.8,309ZM382.5,693 391,692.2 399,692.6 406.1,694 413,696.7 417.8,700 420.8,704 421.9,708 421.5,711 420.7,713 417.7,717 412.3,721 405.5,724 397.5,726 389,726.8 381,726.4 373,724.7 366.5,722 362.2,719 359.2,715 358.1,711 358.5,708 359.3,706 362.3,702 367.7,698 374.5,695 382.5,693Z"/>
<path fill="rgb(156,156,255)" fill-rule="evenodd" d="M582.6,173 590,173.1 597,174.7 602,177.2 604.1,179 605.7,181 607.1,185 607.2,187 606.7,190 604.4,195 600.2,200 595,204.1 588,208 580,210.9 572,212.6 564,213.1 557,212.2 551,210 546.9,207 545.3,205 544.1,202 543.8,200 544,197 545,194 546.6,191 550.8,186 557.4,181 565.4,177 574,174.3 582.6,173ZM511.3,310 528,309.4 544,309.9 559,311.6 574,314.3 587.8,318 601.6,323 614.4,329 626.2,336 637,344 646,352.2 653.1,360 672,383.2 679,390.1 691.7,401 697,407 701,414.1 702.3,418 702.9,422 702.7,425 702,428.3 700.5,432 698.7,435 694.7,440 689.4,445 683,450 673.8,456 661.6,463 569.4,513 544.5,525 522.8,534 502.1,541 482.3,546 471.4,548 462,549.2 452,550.1 441,550.4 430,550.1 420,549.3 410.2,548 398.8,546 385.8,543 375.2,540 363.2,536 353,532 344.3,528 335.3,523 328.1,518 322.2,513 316.4,507 311,500.1 306,492.3 302,484.6 298.8,477 296,468.4 294,459.8 292.8,451 292.5,443 292.9,436 294,429 296,421.8 298.4,416 302,409.7 306.8,403 312,397 319.2,390 328.8,382 338.4,375 349.2,368 361.3,361 374.5,354 391.1,346 408.8,338 436.3,327 461,319 472.7,316 487.3,313 500.8,311 511.3,310ZM383.9,694 392,693.4 399,693.9 406,695.4 412,697.9 416.2,701 419,705 419.6,709 418.4,713 415,717.2 409.3,721 402,723.7 395,725.1 387,725.6 379,724.8 372.2,723 366.2,720 362.9,717 360.7,713 360.5,709 362.2,705 365.9,701 370.7,698 377,695.5 383.9,694Z"/>
<path fill="rgb(150,150,255)" fill-rule="evenodd" d="M576.9,175 584,174.3 591,174.8 597,176.5 601.1,179 603,181 604.2,183 605,187 604,192 600.8,197 595.5,202 589.1,206 582,209 575,210.8 567,211.7 560,211.2 554,209.5 549.9,207 548,205 546.8,203 546,199 547,194 550.2,189 555.5,184 561.9,180 569,177 576.9,175ZM520.5,310 535,310 550,311 564.4,313 579,316.2 591.8,320 605,325.2 618,331.8 629,338.8 638.2,346 646.7,354 652.9,361 672,384.6 678,390.7 690.8,402 695.9,408 699.7,415 700.9,419 701.3,422 701.2,425 700.5,428 699.3,431 696.9,435 692.7,440 686.2,446 679.5,451 670.3,457 591.1,501 568.6,513 543.6,525 521.7,534 500.7,541 480.4,546 460,549.1 449,549.8 439,550 428,549.5 418,548.6 406.9,547 396.5,545 384.1,542 373.9,539 362.3,535 350.1,530 342,526 333.7,521 326.9,516 321,510.7 315,504 310,497.2 306,490.6 302,482.5 298.7,474 296,464.9 294.3,456 293.5,448 293.4,441 294.2,433 295.9,425 298,419.1 301,413 304.7,407 309.4,401 314.9,395 322.4,388 332.4,380 343.8,372 355.1,365 367.7,358 383.5,350 402.9,341 419.2,334 446,324 458.9,320 470.2,317 484.1,314 496,312.1 507,310.8 520.5,310ZM386.4,695 393,694.7 399,695.2 405,696.6 410.5,699 414.4,702 415.9,704 416.9,706 417.2,708 417.1,710 416,713 412.5,717 407.8,720 401,722.6 393,724.1 385,724.2 378,723.2 371.4,721 366.7,718 364.1,715 363.1,713 362.8,711 363.5,707 365.5,704 369,700.9 374.3,698 380.6,696 386.4,695Z"/>
<path fill="rgb(143,143,255)" fill-rule="evenodd" d="M580,176 587,175.9 593,177 597.5,179 600.8,182 602,184 602.5,186 602.4,190 600.7,194 597,198.6 592,202.6 585.8,206 579,208.5 572,209.9 566,210.2 560,209.5 555,207.8 551,205 549.5,203 548.7,201 548.5,197 549,194.8 550.3,192 554,187.4 559,183.4 565.2,180 573,177.3 580,176ZM510.9,311 527,310.4 543,311 559,312.7 573,315.4 586.6,319 600.5,324 613.2,330 625,337 635.8,345 645.6,354 653,362.4 671,385 677,391.3 689.7,403 694,408 698,415 699.2,419 699.7,422 699.5,425 698.8,428 695.7,434 691.6,439 685.3,445 677.5,451 668.4,457 653,466 573.4,510 549.2,522 525.8,532 502.6,540 483.2,545 472.5,547 462,548.4 452,549.2 441,549.5 431,549.2 420,548.3 410,547 399,545 386.3,542 375.9,539 364.2,535 354.1,531 345.6,527 336.7,522 330,517.4 323.6,512 318,506.2 313,499.9 308,492.2 304,484.7 301,477.8 298,468.9 296,460.7 294.6,451 294.3,443 294.7,436 296,428.3 298,421.6 300.9,415 304.4,409 308.8,403 314,397 321.2,390 330.7,382 340.3,375 351,368 363,361 376.3,354 408.4,339 425.2,332 438.5,327 450.4,323 464,319 486.6,314 499,312.2 510.9,311ZM383.2,697 390,696.2 396,696.4 402,697.5 407,699.3 411.2,702 413.6,705 414.5,708 414.4,710 413.7,712 411.6,715 407.8,718 403,720.3 396.8,722 390,722.8 384,722.6 378,721.5 373,719.7 368.8,717 366.4,714 365.5,711 365.6,709 366.3,707 368.4,704 372.2,701 377,698.7 383.2,697Z"/>
<path fill="rgb(137,137,255)" fill-rule="evenodd" d="M577.2,178 583,177.5 589,178 594,179.7 597.3,182 599.4,185 599.9,189 598.7,193 595.9,197 591.3,201 586.3,204 580,206.5 574,208 568,208.5 562.2,208 558,206.8 554,204.3 551.6,201 551.1,197 552.3,193 555.1,189 559.7,185 564.7,182 571,179.5 577.2,178ZM522.8,311 538,311.3 553,312.6 568,315 580.7,318 593.3,322 605.5,327 617.1,333 628,340 638,347.9 646.3,356 653,363.7 670.5,386 677,393 688.6,404 692.7,409 696.5,416 697.9,422 697.8,425 696.9,428 693.6,434 689.5,439 683.1,445 675.4,451 664.9,458 639.1,473 591,500 572.5,510 548.1,522 524.6,532 513.7,536 501.1,540 481,545 470,546.9 460,548.2 449,548.9 439,549 428,548.6 418,547.6 407.2,546 397,544 384.9,541 374.8,538 363.4,534 351.5,529 343.5,525 335.2,520 328.4,515 322,509.2 316.5,503 311.4,496 306.7,488 303,480.2 300,472 297.5,463 295.9,454 295.3,446 295.5,439 296.3,432 297.9,425 300,419 303,413 307,406.8 312,400.4 318,394 326.8,386 335.7,379 347.3,371 358.7,364 371.4,357 387.4,349 404.8,341 421.2,334 434.1,329 448.6,324 462,320 474,317 486,314.6 499,312.6 511,311.5 522.8,311ZM390.2,698 395,698.2 400,699 405,700.8 408.3,703 410.1,705 411.2,708 410.8,711 408.9,714 405.1,717 400.8,719 396,720.3 390,721 384,720.7 379,719.7 374.6,718 370.7,715 369,712 368.9,709 370,706.4 372.1,704 375,701.9 379.2,700 384,698.7 390.2,698Z"/>
<path fill="rgb(131,131,255)" fill-rule="evenodd" d="M577.1,180 582,179.6 587,180 591,181.2 594,183.1 596.1,186 596.7,189 596,192 593.5,196 590.4,199 585.9,202 581,204.2 575,205.8 569,206.4 564,206 560.5,205 557.1,203 554.9,200 554.3,197 555,194 557.5,190 560.6,187 565.1,184 571,181.5 577.1,180ZM511.7,312 527,311.6 543,312.2 558.7,314 574,317 588.2,321 601.4,326 613,331.6 623.6,338 635,346.5 645.1,356 652.1,364 671,388.3 686.3,404 690.6,409 694.6,416 696.1,422 695.4,427 692.9,432 688.2,438 682,444 673.2,451 663,458 636.1,474 579,506 553.5,519 528.5,530 506.2,538 496,541 483.6,544 473.1,546 462,547.5 452,548.3 442,548.6 431,548.2 421,547.4 410.5,546 399.7,544 387.2,541 377,538 365.5,534 355.6,530 347,525.9 338.3,521 331.1,516 325,510.8 319.4,505 314.7,499 310,491.8 306,484.4 302.4,476 299.8,468 297.9,460 296.6,451 296.3,443 296.7,436 298,428.5 299.9,422 303,415.1 306.6,409 311,403 316.2,397 324.4,389 332.8,382 342.3,375 353,368 365,361 376.2,355 390.5,348 408.1,340 424.9,333 438.1,328 450,324 463.7,320 476,317 486.4,315 499,313.2 511.7,312ZM385.3,701 390,700.5 394,700.6 398,701.3 402,702.8 404,704.1 406,706.4 406.7,709 406.2,711 404.9,713 402.5,715 398.4,717 394.7,718 390,718.5 386,718.4 382,717.7 378,716.2 376,714.9 374,712.6 373.3,710 373.8,708 375.1,706 377.5,704 381.6,702 385.3,701Z"/>
<path fill="rgb(124,124,255)" fill-rule="evenodd" d="M575.5,183 580,182.5 584,182.7 587,183.5 589.8,185 591.5,187 592.1,190 591.7,192 590,195 587,197.9 583.8,200 579.2,202 575.5,203 571,203.5 567,203.3 564,202.5 561.2,201 559.5,199 558.9,196 559.3,194 561,191 564,188.1 567.2,186 571.8,184 575.5,183ZM505.8,313 522,312.2 538,312.5 553,313.9 568,316.4 582.4,320 596.9,325 610,331 620.5,337 633,346 638.8,351 644.8,357 651.7,365 670.9,390 688.4,409 692.1,415 694.2,421 694.3,423 693.7,426 691.3,431 686.7,437 679.7,444 671.1,451 661.2,458 634.8,474 583.5,503 556.5,517 532.2,528 519.4,533 507.8,537 497.9,540 486,543 476,545 464,546.8 454,547.7 444,548.1 434,547.9 423,547.1 402.6,544 390,541.1 379.2,538 367.5,534 357.5,530 349,526 340,521 333,516.2 327,511.3 321.7,506 316,499.1 311.9,493 307.4,485 303.9,477 301.2,469 299,460.3 297.9,453 297.4,445 297.7,437 298.8,430 300.3,424 302.7,418 306,411.7 310,405.8 315.5,399 322.3,392 330.2,385 339.2,378 349.3,371 359,365 371.5,358 400.2,344 428.6,332 442.3,327 454.8,323 469,319.1 481,316.5 494,314.3 505.8,313Z"/>
<path fill="rgb(118,118,255)" fill-rule="evenodd" d="M514.4,313 530,312.8 545,313.7 559,315.5 573,318.3 586.2,322 599.6,327 612,333 623,339.7 634,348 645,358.6 652,367 670,390.9 687,410.2 690.5,416 691.7,419 692.3,422 691.7,426 689.1,431 684.4,437 677.3,444 669,451 657.8,459 631.9,475 582.5,503 553.3,518 528.5,529 506.3,537 496.1,540 483.8,543 473.2,545 463,546.4 454,547.2 443,547.5 433,547.3 423,546.5 411.5,545 400.8,543 388.4,540 378.3,537 367,533 356,528.4 347,524 339,519.2 332,514.2 326,509 321,503.7 315.8,497 311,489.4 307,481.6 303.9,474 301.2,465 299.5,457 298.6,448 298.5,441 299.2,434 300.6,427 302.6,421 305.3,415 309.6,408 314.1,402 319.5,396 326.7,389 336.3,381 345.9,374 356.7,367 368.8,360 382.3,353 412.6,339 427.3,333 440.8,328 453.1,324 467,320.1 481,317 492,315.2 503,313.8 514.4,313Z"/>
<path fill="rgb(112,112,255)" fill-rule="evenodd" d="M507.8,314 523,313.4 539,313.9 553,315.3 568.4,318 583,321.8 596,326.4 608.2,332 620,338.8 626.2,343 633,348.4 639,353.8 644,359 651.5,368 669,391.8 685.2,411 688.8,417 690.3,422 689.9,425 687.3,430 682.8,436 676.1,443 668.1,450 657.5,458 633.9,473 588.6,499 558.3,515 532,527 519.3,532 507.8,536 497.8,539 486,542 476.1,544 465,545.7 454,546.7 445,547 434,546.8 424,546 403.9,543 391,540 380.7,537 369.2,533 359.4,529 350,524.5 342,520 334.7,515 328.6,510 323,504.3 317.9,498 313,490.7 309,483.3 305.8,476 302.8,467 301,459 299.9,451 299.6,444 300,436.6 301,430 303,423 305.5,417 309,410.8 313,405 318.8,398 325.7,391 334.9,383 344.1,376 353,370 362.8,364 375.5,357 404.6,343 421,336 433.8,331 458.2,323 469.7,320 484,317 497,315.1 507.8,314Z"/>
<path fill="rgb(105,105,255)" fill-rule="evenodd" d="M503,315 519,314.1 534,314.3 550,315.7 564.6,318 580,321.8 592.5,326 605,331.4 617,338 624.5,343 631,348 637.8,354 643.6,360 651,369.1 668.2,393 682.8,411 686.5,417 688.2,422 687.7,425 685.5,429 680.3,436 673.7,443 665.9,450 655.6,458 645.4,465 632.6,473 594.6,495 563.1,512 535.4,525 523.2,530 509.2,535 499.5,538 487,541.2 477,543.3 466,545 456,546 446,546.4 436,546.3 426,545.6 415,544.3 405,542.6 393.7,540 383.1,537 371.4,533 361.5,529 352.9,525 343.9,520 336.4,515 330.2,510 325,504.9 320,499 315.1,492 311,484.7 307.1,476 304.6,469 302.4,460 301.2,452 300.8,445 301.1,437 302,431 303.9,424 306.3,418 310.1,411 314.2,405 319.2,399 325.9,392 333.6,385 342.5,378 351,372 362.2,365 372.8,359 399.1,346 427.3,334 440.9,329 453.2,325 467,321.2 479,318.5 492,316.3 503,315Z"/>
<path fill="rgb(99,99,255)" fill-rule="evenodd" d="M511.8,315 527,314.8 543,315.6 557,317.4 571,320.3 584.3,324 597.6,329 610,335 621,341.7 628.2,347 634,351.9 639.3,357 644.8,363 651.8,372 669,396.4 681.7,413 685,419 686.1,423 684.8,426 682.3,430 676.9,437 670.3,444 662.7,451 652.5,459 642.3,466 629.6,474 591.7,496 561.9,512 547.5,519 534.1,525 521.7,530 510,534.2 497.6,538 485.7,541 475,543.1 464,544.7 454,545.6 444,545.9 434,545.6 424,544.8 413,543.4 403,541.5 392.6,539 380,535.2 368.5,531 359.2,527 351,522.9 342.6,518 335.6,513 329.7,508 323.9,502 319,495.7 314.1,488 310,480 306.8,472 304.5,464 302.9,456 302.1,448 302.1,441 302.7,434 304.2,427 306.3,421 309.1,415 313,408.6 317.1,403 323.2,396 330.3,389 339.7,381 349.2,374 358.4,368 370.3,361 381.6,355 396,348 411.5,341 426.1,335 439.5,330 451.7,326 464,322.5 475,319.9 488,317.5 499.1,316 511.8,315Z"/>
<path fill="rgb(92,92,255)" fill-rule="evenodd" d="M506.2,316 522,315.4 538,316 553,317.6 567,320.2 581.4,324 595,328.9 608,335 618.1,341 627.8,348 636.9,356 644.2,364 651.8,374 666,394.8 679.1,413 682,417.8 683.7,422 683.7,423 680.4,429 675.2,436 668,444 660.6,451 652,458 642.3,465 631.5,472 601,490 566.5,509 552.5,516 537.3,523 525.3,528 511.8,533 499.1,537 487,540.1 477,542.2 466,543.9 456,544.9 446,545.3 436,545.1 426,544.4 415,543 405,541.2 395,538.9 383,535.4 373,531.9 362,527.3 353.2,523 345,518.3 337.4,513 331.4,508 326,502.6 320.7,496 316.1,489 312.3,482 309,474.4 306.3,466 304.5,458 303.5,450 303.3,442 303.9,435 305,428.9 307,422.4 309.9,416 313.4,410 318,403.5 323.5,397 330.5,390 338.4,383 347.6,376 356.4,370 366.2,364 378.9,357 405.9,344 432.7,333 447,328 459,324.4 472,321.1 482.5,319 495,317.1 506.2,316Z"/>
<path fill="rgb(86,86,255)" fill-rule="evenodd" d="M501.9,317 518,316.1 533,316.4 548,317.7 563,320.2 577,323.6 591,328.3 603.9,334 616,340.8 626.1,348 635.3,356 642.8,364 650.4,374 675.1,411 680,419 681.3,422 681.1,423 677.7,429 672.6,436 666.7,443 659.7,450 652.8,456 645,462 634.8,469 608.5,485 571,506 555.3,514 540.5,521 526.4,527 513,532 500.6,536 487,539.6 477,541.6 467,543.2 457,544.2 447,544.7 438,544.6 428,544 418,542.8 407.5,541 398,538.9 387,535.8 376,532.1 365.8,528 357,523.9 348.2,519 340.6,514 334,508.8 328,503 322.9,497 318.1,490 314.2,483 311,476 308.1,468 306,459.4 304.9,452 304.5,445 304.9,437 306,430 307.8,424 310.2,418 313.5,412 317.5,406 323,399 329.7,392 337.3,385 346,378 354.5,372 364,366 374.5,360 400.6,347 428.9,335 442.7,330 455,326.1 467,322.9 480,320.1 492,318.1 501.9,317Z"/>
<path fill="rgb(80,80,255)" fill-rule="evenodd" d="M512.5,317 529,317 545,318.2 560,320.5 575,324 588,328.2 601.6,334 613,340.2 624.4,348 630.5,353 635.8,358 641.3,364 646.1,370 656.3,385 672.6,411 677.8,420 678.7,422 678.4,423 674.3,430 669.4,437 662.6,445 655.6,452 647.3,459 639.2,465 619,478 580.8,500 552,515 527.3,526 505,534.1 494,537.2 482,540.1 471.2,542 462,543.2 452,543.9 442,544 423,542.8 412,541.1 401.6,539 391,536.2 381,533 370.5,529 361.5,525 352,520 345,515.7 338.5,511 332,505.3 326.1,499 321.6,493 317,485.6 313.2,478 310.1,470 308.1,463 306.6,455 305.9,447 306,440 306.8,433 308.2,427 310.3,421 313.1,415 317.4,408 321.9,402 328,395 335.2,388 343.4,381 352.8,374 363.5,367 373.8,361 387.2,354 415.5,341 441.5,331 454,327 465,324 478,321.1 490,319 501,317.8 512.5,317Z"/>
<path fill="rgb(73,73,255)" fill-rule="evenodd" d="M506.7,318 523,317.6 539,318.4 555,320.5 570,323.6 584.6,328 598,333.4 610.6,340 622,347.6 628,352.3 634.1,358 639.7,364 645.3,371 650.9,379 657.7,390 670.2,411 675,420 676,422 675.5,423 671.6,430 666.9,437 661.3,444 654.7,451 646.9,458 639.1,464 619.4,477 583.2,498 554.7,513 528.2,525 506,533.1 494,536.6 483,539.3 464,542.3 454,543.2 444,543.4 434,543.1 425,542.3 415.4,541 404.9,539 394,536.3 383.5,533 372.9,529 363.8,525 355.9,521 347.5,516 340.4,511 334.5,506 329,500.4 324,494.2 319.3,487 315.6,480 312.2,472 309.7,464 308.1,456 307.3,448 307.3,441 308,434 309.3,428 311.3,422 314.5,415 318.1,409 322.5,403 328.4,396 335.4,389 343.4,382 352.6,375 361.6,369 371.5,363 382.5,357 409.9,344 434.7,334 446.2,330 460,325.9 472,322.9 484,320.6 495,319 506.7,318Z"/>
<path fill="rgb(67,67,255)" fill-rule="evenodd" d="M502.5,319 520,318.3 536.3,319 552.9,321 569,324.3 584.4,329 598,334.6 610.2,341 622.1,349 629,354.7 635,360.5 640.7,367 646,374 652.5,384 659,395 668.3,412 673.1,422 668.4,431 661.6,441 655.7,448 649.7,454 642.8,460 633.4,467 613,480 576.4,501 549.2,515 524.1,526 513,530.2 501.2,534 481.3,539 462,541.9 452,542.6 443,542.8 434,542.4 424,541.5 405,538.2 396,536 386,532.9 375.3,529 366.1,525 358.1,521 350,516.3 343.7,512 337.5,507 332,501.7 327,496 322.1,489 318,481.9 314.8,475 312,467 310,459 308.8,451 308.6,444 309,437 310.2,430 311.9,424 314.4,418 318.3,411 322.3,405 328,398 334.6,391 342.3,384 349.8,378 358.2,372 367.6,366 378.2,360 389.7,354 404.5,347 430.9,336 445,331 456,327.6 468,324.5 479.8,322 492,320.1 502.5,319Z"/>
<path fill="rgb(61,61,255)" fill-rule="evenodd" d="M499.1,320 516,319.1 534,319.7 551,321.6 567,324.8 582,329.2 596.5,335 609.7,342 621.5,350 628,355.4 634.7,362 640,368.1 645.8,376 652.1,386 658.3,397 665.9,412 670.3,422 664.7,433 657.9,443 652.9,449 646.9,455 639.9,461 630.5,468 610,481 573.2,502 547.7,515 525,525 514.4,529 502.4,533 491.7,536 481,538.4 462,541.3 452,542 443,542.1 425,540.9 406,537.7 395.4,535 386,532 368.4,525 360.4,521 353,516.8 345.8,512 339.4,507 334.1,502 328.7,496 324,489.5 320,482.8 316.3,475 313.7,468 311.6,460 310.3,452 310,445 310.3,438 311.4,431 313,425 315.9,418 319.1,412 323,406 328.5,399 334.9,392 341.3,386 349.7,379 358,373 367.3,367 377.6,361 401.5,349 415,343 429.9,337 453.4,329 465,325.8 477,323.2 488,321.3 499.1,320Z"/>
<path fill="rgb(54,54,255)" fill-rule="evenodd" d="M510.9,320 528,320.1 545,321.6 562,324.6 578,329 593,334.6 606,341.1 618.2,349 629,358 634.9,364 639.1,369 643.6,375 648.7,383 658.9,402 663.9,413 667.4,422 663.3,431 659.3,438 654.4,445 649.2,451 644.2,456 637.1,462 629,468 620,474 586.2,494 556.5,510 533,521 512.6,529 493.1,535 474.4,539 456,541.1 438,541.3 428,540.5 419,539.4 401,535.7 391.7,533 382,529.7 373,526 364.6,522 357.2,518 349.3,513 342.6,508 337,503 331.3,497 326.7,491 322.3,484 318.7,477 315.9,470 313.5,462 312.1,455 311.4,447 311.6,440 312.4,433 313.9,427 316,421 319.4,414 323.8,407 328.2,401 334.3,394 341.5,387 349.7,380 359.3,373 368.5,367 378.9,361 390.4,355 405.1,348 418.9,342 443,332.9 455.6,329 467,326 478,323.7 489,321.9 500,320.6 510.9,320Z"/>
<path fill="rgb(48,48,255)" fill-rule="evenodd" d="M505.6,321 523,320.8 540,321.9 557,324.6 573,328.5 588,333.7 602,340.2 614.8,348 626.2,357 632.3,363 637,368.4 642,375 647.1,383 652.1,392 657,402 661.2,412 664.4,421 664.6,422 663.1,426 658.2,436 653.2,444 647.4,451 641.4,457 635.6,462 620.1,473 588.4,492 558.9,508 535.9,519 515,527.5 495,533.8 476,538.1 458,540.3 449,540.7 439,540.6 421,538.9 403,535.3 385,529.8 368,522.5 360,518.3 353,514 345.9,509 340,504 334,498 329.1,492 324.5,485 320.7,478 317.7,471 315.2,463 313.6,455 312.9,448 313,440 313.9,433 315.4,427 317.6,421 320.4,415 324.6,408 328.9,402 334.8,395 341.7,388 349,381.6 357.7,375 366.6,369 376.6,363 387.8,357 413.4,345 438.8,335 461.7,328 473,325.3 484,323.3 495,321.9 505.6,321Z"/>
<path fill="rgb(41,41,255)" fill-rule="evenodd" d="M501.8,322 520,321.5 537,322.5 554.3,325 571,329 586,334.1 600,340.4 612.7,348 624,356.7 630,362.4 635.8,369 641,376 646.1,384 650.9,393 655.4,403 658.9,412 661.7,421 661.8,422 659.7,428 655.5,437 651.2,444 646.6,450 640.9,456 635.3,461 628.9,466 620.2,472 590.4,490 561.3,506 538.8,517 517.1,526 497,532.6 478,537 460,539.4 442,540 424,538.5 406,535.2 388.3,530 371.3,523 363,518.7 355.1,514 349.4,510 343.1,505 337,499.2 331.7,493 327,486.4 323,479.4 319.3,471 317,464 315.4,457 314.6,450 314.4,443 315,436 316.1,430 318,423.8 320.9,417 324.8,410 328.8,404 334.4,397 340,391 347.5,384 354.9,378 363.3,372 372.8,366 383.4,360 408,348 433,337.7 445,333.6 457,329.9 468.5,327 479,324.9 491,323 501.8,322Z"/>
<path fill="rgb(35,35,255)" fill-rule="evenodd" d="M498.8,323 516,322.3 533,323 551,325.4 568,329.2 583,334.1 598,340.7 610.5,348 622.4,357 628.7,363 634.1,369 639,375.4 643.8,383 648.2,391 652.7,401 656,410 658.9,420 659.1,422 658.2,425 654.4,435 650,443 644.9,450 639.3,456 633.7,461 627.4,466 618.7,472 589,490 559.8,506 537.1,517 516,525.7 496.7,532 478,536.3 460,538.8 443,539.3 425.8,538 417,536.7 407,534.6 398,532.2 389,529.3 373,522.7 365,518.5 357.4,514 351.5,510 345.2,505 339.8,500 334.3,494 329.8,488 325.5,481 322.1,474 319.1,466 317.3,459 316.3,452 315.9,445 316.3,438 317.4,431 319.1,425 322,418 325.1,412 329.5,405 334.9,398 341.3,391 347.7,385 354.9,379 363.2,373 372.5,367 382.9,361 405.1,350 431.4,339 443,334.9 455,331.2 467,328 477,325.9 488,324.2 498.8,323Z"/>
<path fill="rgb(29,29,255)" fill-rule="evenodd" d="M496.2,324 514,323.1 531,323.8 548.8,326 566,329.7 582,334.9 596,341 609,348.5 620.4,357 626.9,363 632.4,369 637,375 641.6,382 645.5,389 649.6,398 653,407 655.5,416 656.6,421 656.5,422 653.5,432 649.4,441 643.2,450 638.7,455 633.4,460 627.2,465 618.8,471 590.9,488 562.2,504 539.9,515 518.6,524 498,530.9 480,535.3 462,537.9 445,538.6 428,537.5 411,534.7 393.9,530 385.6,527 377,523.4 362,515.5 355.1,511 349,506.4 342.8,501 337.1,495 332.3,489 328,482.3 324.7,476 321.4,468 319.3,461 318,454 317.5,447 317.7,440 318.6,433 320.1,427 322.6,420 326,413 330.3,406 335.5,399 341.7,392 347.9,386 355,380 363,374.1 372,368.1 380.7,363 402.3,352 428,341 451,333 463,329.7 474,327.2 485,325.3 496.2,324Z"/>
<path fill="rgb(22,22,255)" fill-rule="evenodd" d="M511.7,324 529,324.5 546,326.5 562.8,330 577,334.3 591.2,340 604.3,347 615.9,355 626,364 631.4,370 636,376 640,382.2 644.2,390 647.8,398 650.3,405 652.6,413 654.1,421 651.7,431 648.5,439 643.8,447 638.1,454 633,459 627,464 611.1,475 579,494 551,508.9 529.1,519 511,526 492,531.8 474,535.6 456,537.6 439,537.6 422,535.9 413,534.2 403.8,532 394,529 386,526.1 370.5,519 357,510.8 350.6,506 344.9,501 339,495 334.2,489 330,482.7 326,475.2 323,468 320.9,461 319.6,454 319.1,447 319.3,439 320.4,432 322.3,425 324.6,419 327.6,413 331.8,406 336.9,399 342.2,393 349.3,386 356.4,380 364.4,374 373.6,368 383.9,362 395.4,356 408.2,350 422.2,344 435.1,339 446.8,335 457,332 469,329 479.2,327 491,325.3 501,324.4 511.7,324Z"/>
<path fill="rgb(16,16,255)" fill-rule="evenodd" d="M505.3,325 522,325 540,326.6 557,329.7 572.7,334 588,339.9 601,346.5 612.5,354 623.1,363 628.8,369 633,374.2 637.6,381 641.5,388 644.8,395 647.7,403 650,411 651.3,418 651.6,421 650.8,426 649.6,431 647.6,437 643.5,445 637.5,453 632.6,458 626.8,463 612,473.4 581,492 553.2,507 532,517 511.9,525 494,530.6 476,534.6 458,536.7 441,536.9 424,535.3 407.2,532 391,527 383,523.8 374.9,520 361,512 349.2,503 343,497.1 337.6,491 333,484.6 329.1,478 325.8,471 323.4,464 321.7,457 320.8,450 320.7,443 321.3,436 322.7,429 325,422 328.1,415 332,408 336.8,401 341.7,395 348.5,388 355.2,382 363,376 371.8,370 381.7,364 392.9,358 416.7,347 440,338 452,334.1 463,331.1 473,328.9 484,327 495,325.7 505.3,325Z"/>
<path fill="rgb(10,10,255)" fill-rule="evenodd" d="M501.8,326 518,325.8 535,327 552,329.7 569,334 583,339 597,345.7 609,353.1 620.1,362 625.1,367 630.3,373 634.6,379 638.2,385 641.7,392 644.5,399 646.4,405 648.1,412 649.2,421 648.5,427 647.1,433 645.4,438 643,443 639.9,448 636.8,452 632.1,457 626.5,462 612.7,472 583,490 555.5,505 534.7,515 515,523.1 496,529.3 478,533.5 461,535.8 444,536.3 427.5,535 411,532 395,527.4 379,520.8 364.9,513 358.9,509 352.5,504 346,498.1 341.3,493 336.6,487 332,480 328.4,473 325.7,466 323.8,459 322.6,452 322.3,445 322.7,438 323.9,431 325.9,424 328.7,417 332.3,410 336.1,404 341.4,397 347.8,390 354.3,384 361.7,378 370,372.1 379,366.4 388.6,361 411.4,350 436,340.1 448,336.1 458.6,333 470,330.3 481,328.2 491,326.9 501.8,326Z"/>
<path fill="rgb(3,3,255)" fill-rule="evenodd" d="M499,327 516,326.6 533,327.8 550,330.4 566,334.3 581,339.5 595,346 607,353.3 618,362 623.2,367 628,372.5 632.1,378 635.9,384 639,390 642,397 644.2,404 645.6,410 646.9,420 646.5,426 645.4,432 644,437 641.9,442 639,447 636,451 631.6,456 626.2,461 619.8,466 612.7,471 584.9,488 557.7,503 535.1,514 516,522 498,528 480,532.4 463,534.8 447,535.5 431,534.6 414,531.8 397,527 381.9,521 368,513.5 355.9,505 350,499.9 344.2,494 339,487.7 334.5,481 331.2,475 328.1,468 325.9,461 324.5,454 324,447 324.3,439 325.4,432 327.2,425 329.8,418 333.2,411 337.5,404 342,398 347.3,392 353.4,386 360.5,380 368.6,374 377,368.5 386.4,363 408.6,352 433,341.9 444,338.1 457,334.2 468,331.5 479,329.3 489,327.9 499,327Z"/>
<path fill="rgb(4,6,254)" fill-rule="evenodd" d="M496.6,328 513,327.4 531,328.4 546,330.5 563,334.5 578,339.5 591,345.3 602,351.5 608,355.5 614,360.2 620.3,366 625.8,372 632.5,381 636.4,388 638.7,393 642.5,404 644.6,416 644.8,422 644.4,428 643.5,433 641.7,439 638.7,445 635.4,450 630.1,456 625,460.8 612,470.5 586,486.6 561,500.6 539,511.6 518,520.6 507,524.6 497,527.7 481,531.5 467,533.7 458,534.5 449,534.8 440,534.6 431,533.8 417,531.6 401,527.4 388,522.6 379,518.5 372,514.6 360,506.6 354,501.7 346.2,494 340.3,487 337.5,483 333.3,476 330.5,470 328.3,464 326.4,456 325.6,449 325.5,443 326.3,435 328.4,426 330.4,420 333.6,413 337.6,406 342.5,399 348.6,392 354,386.6 360,381.4 368,375.3 377,369.3 385,364.6 395,359.2 407,353.4 431,343.4 442,339.4 455,335.4 466,332.6 476,330.5 489,328.6 496.6,328Z"/>
<path fill="rgb(13,19,253)" fill-rule="evenodd" d="M502.6,329 520,329.1 536,330.5 553,333.6 568,337.8 582,343.1 595.6,350 607,357.4 617.2,366 622,371 626.1,376 629.6,381 633,386.7 636.1,393 638.4,399 640.1,405 641.3,411 642,417 642.1,423 641.7,428 640.6,434 639,439 637.1,443 634.7,447 631,452 626.3,457 620.8,462 607.1,472 581.4,488 555,502.6 534,512.8 515,520.6 497,526.4 479,530.6 462,532.8 446,533.3 430,532.1 414,529.2 398,524.5 383,518.3 369.9,511 363,506.3 357,501.6 350.9,496 345.4,490 340.7,484 336.3,477 332.8,470 330.6,464 328.8,457 327.9,451 327.7,444 328.3,437 329.6,430 331.6,423 334.4,416 338,409.1 341.9,403 346.6,397 352.1,391 358.5,385 366,378.9 374.4,373 383,367.7 393,362.1 416,351.1 439,342 450,338.4 461,335.3 472,332.8 482,331 492,329.8 502.6,329Z"/>
<path fill="rgb(21,32,252)" fill-rule="evenodd" d="M493.2,331 510,330.2 526,330.8 543,333.1 559,336.8 574.7,342 588,348 600.1,355 611,363.2 616.1,368 620.8,373 624.8,378 628.8,384 634.3,395 636.5,401 638.1,407 639.1,413 639.6,419 639.5,425 638.8,431 637.5,436 635.5,441 633,445.6 630,449.9 625.6,455 620.5,460 607.7,470 584.5,485 560.1,499 540,509.2 520,517.7 502,523.9 484,528.5 468,531 452,531.9 436,531.2 420,528.8 404,524.6 389,519 375.2,512 363,503.9 357,499 350.7,493 345.4,487 341,481 337.4,475 334.6,469 332.1,462 330.6,456 329.8,449 329.8,443 330.5,436 332.1,428 334.4,421 337,415 340.9,408 345,402 349.8,396 355.6,390 362,384.3 369,378.8 385,368.4 404.7,358 429,347.4 451,339.6 462,336.5 472,334.2 483,332.2 493.2,331Z"/>
<path fill="rgb(30,45,251)" fill-rule="evenodd" d="M497.4,332 514,331.6 530,332.6 546,335.2 561,339 576,344.4 589,350.6 601,358 611,366 616,370.9 620.4,376 627.3,386 630.5,392 633,398 634.8,404 636.2,410 636.9,416 637.2,422 636.8,427 636,432.1 634.6,437 632.4,442 629.5,447 626.5,451 622.1,456 616.8,461 610.8,466 602.6,472 579.3,487 556.5,500 536,510.1 518,517.6 500,523.5 482,527.7 465,530 449,530.5 433,529.3 417,526.4 401.7,522 386.9,516 373,508.4 361,499.8 355,494.5 349.7,489 344.8,483 340.8,477 337.6,471 335.1,465 333.1,458 332.1,452 331.8,445 332.1,439 333.2,432 335.1,425 337.7,418 340.7,412 344.4,406 348.8,400 354.1,394 360.3,388 367,382.4 374.4,377 391,366.8 412,356.3 436,346.3 457,339.3 467,336.7 478,334.5 488,332.9 497.4,332Z"/>
<path fill="rgb(38,58,249)" fill-rule="evenodd" d="M503.7,333 519,333.1 535,334.7 550,337.6 565,342 579,347.6 592,354.5 603,362 613.1,371 621,380.4 624.1,385 627.4,391 630,397 632.1,403 633.5,409 634.4,415 634.7,421 634.5,426 633.7,431 632.4,436 630.8,440 628.1,445 624.7,450 621.4,454 616.5,459 610.9,464 596.1,475 572.5,490 550.9,502 532,511 514,518.1 496,523.5 479,527 463,528.8 447,529 431,527.5 415,524.2 400,519.5 385,513 371,504.8 365,500.5 359,495.6 353.2,490 348.8,485 344.4,479 340.8,473 338,467 336,461 334.6,455 333.9,449 333.9,443 334.5,436 336,429 338.2,422 341.3,415 344.7,409 348.8,403 353.8,397 359.6,391 366,385.4 373,380 381,374.6 390,369.2 399.7,364 423.3,353 445,344.6 465,338.7 484,334.9 494,333.6 503.7,333Z"/>
<path fill="rgb(46,71,248)" fill-rule="evenodd" d="M493.9,335 510,334.2 525,334.9 541,337.2 556,340.8 570.9,346 584,352.1 596,359.4 606.9,368 616,377.5 620.1,383 623.2,388 626,393.5 628.3,399 631.2,410 632.2,421 631.9,427 631,432 629.5,437 627.3,442 621.4,451 617.1,456 612,461 606.2,466 598.4,472 577.3,486 556,498.4 537,507.9 519,515.3 501,521.2 484,525 468,527.2 452,527.7 436,526.6 421,524 406,519.8 391,513.8 377,506.4 364.9,498 359.1,493 354,488 349,482.1 345.4,477 342,471 339.4,465 337.5,459 336.3,453 335.9,447 336.1,440 337.1,433 338.6,427 341.1,420 344,414 347.5,408 351.9,402 357,396.1 362.2,391 368,386 375,380.6 391,370.5 411,360.2 434,350.2 454.6,343 465,340.1 475,337.8 493.9,335Z"/>
<path fill="rgb(55,84,247)" fill-rule="evenodd" d="M498.1,336 514,335.6 529,336.7 544,339.3 559,343.4 573.6,349 587,355.9 598,363.2 608.1,372 612.7,377 616.7,382 622.7,392 625.4,398 627.1,403 628.5,409 629.4,415 629.6,425 628.9,430 627.7,435 625.7,440 623.1,445 616.5,454 611.8,459 606.4,464 592.2,475 570.7,489 551,500.1 533,508.8 515,515.8 498,520.9 481,524.4 465,526.1 449,526.2 434,524.8 418,521.6 403,516.8 388,510.3 375,502.8 363,493.9 357.7,489 353,483.9 348.4,478 345.3,473 342.7,468 340.4,462 338.9,456 338.1,450 337.9,444 338.5,437 339.8,430 341.7,424 344.1,418 347.2,412 351.1,406 355.9,400 361,394.5 367,389 373.2,384 381,378.5 398,368.5 419,358.2 440,349.5 460,342.9 479,338.5 489,336.9 498.1,336Z"/>
<path fill="rgb(63,97,246)" fill-rule="evenodd" d="M504.8,337 520,337.3 535,339 550,342.3 564.4,347 577.9,353 590,360 600.7,368 609.9,377 613.9,382 617.3,387 622.4,397 624.6,403 625.8,408 626.8,414 627.2,420 626.4,430 625.2,435 623.7,439 621.2,444 618,449 610.6,458 599.6,468 583,480 563,492.6 544,502.8 527,510.4 510,516.5 493,521 477,523.8 461,525 445,524.5 429,522.4 414,518.7 399,513.3 385,506.6 372,498.4 366,493.8 360.5,489 355.6,484 351.6,479 348,473.8 345,468.2 342.9,463 341.2,457 340.2,451 339.9,446 340.2,440 341,434 342.4,428 344.9,421 347.7,415 351.3,409 355.7,403 360.1,398 366,392.2 372.1,387 379,381.9 387,376.6 406,366.1 429,355.5 450,347.5 469,342 487,338.5 504.8,337Z"/>
<path fill="rgb(72,109,244)" fill-rule="evenodd" d="M494.7,339 510,338.3 525,339.1 540,341.4 554,345.1 568,350.3 582,357.3 593.7,365 604.1,374 611.9,383 618.1,393 620.3,398 622.4,404 623.6,409 624.5,415 624.7,421 624.5,426 623.7,431 622.3,436 620.3,441 617.6,446 611.1,455 606.5,460 601.1,465 587,476 567.3,489 549,499.3 532,507.4 515,513.9 498,518.8 482,521.9 466,523.5 451,523.5 435,521.8 420,518.7 405,513.8 391,507.6 377.8,500 366,491.3 361,486.8 356.5,482 352.5,477 349,471.6 346.2,466 344.3,461 342.8,455 342.2,450 342,444 342.4,438 343.7,431 345.5,425 347.9,419 351,413 354.9,407 358.9,402 364,396.5 369.9,391 383,381.1 399,371.5 418.1,362 439,353.1 459,346.2 477,341.6 494.7,339Z"/>
<path fill="rgb(80,122,243)" fill-rule="evenodd" d="M498.9,340 514,339.7 529,340.9 543,343.6 557.7,348 572,354 584.6,361 595.6,369 605,378 612,387 617.4,397 619.3,402 620.9,408 621.8,413 622.2,419 622.1,425 621.4,430 618.7,439 616.4,444 613.5,449 606.3,458 595.7,468 580.9,479 562.3,491 544,501 527,508.6 511,514.3 495,518.5 479,521.2 463,522.3 447,521.8 432,519.7 417,516.1 402,510.7 388.1,504 375,495.8 364.1,487 359.1,482 355,477.1 351.5,472 349,467.4 346.7,462 345.3,457 344.3,451 344,446 344.2,440 345.1,434 346.6,428 348.7,422 351.5,416 354.4,411 358.7,405 363,400 368,395 374,389.8 388,379.8 405,370.2 426.2,360 446,352 464,346.2 481,342.3 498.9,340Z"/>
<path fill="rgb(89,135,242)" fill-rule="evenodd" d="M506.5,341 521,341.5 535,343.4 549,346.8 563,351.8 575.9,358 588,365.6 598.2,374 606.4,383 609.9,388 612.9,393 617.1,403 619.3,413 619.8,419 619.7,424 619.1,429 618,434 616.4,439 614.2,444 608.5,453 600.5,462 588.8,472 571.8,484 555,494.2 538,503 522,509.6 506,514.8 490,518.4 475,520.4 459,521 444,520 429,517.5 414,513.4 400,507.9 386,500.6 373,491.9 362.7,483 358.2,478 355,473.8 352,469 349.6,464 347.9,459 346.8,454 346.1,448 346.1,442 346.8,436 348.1,430 350,424 352.1,419 355,413.6 358.7,408 362.7,403 367.4,398 373,392.8 380,387.3 395,377.5 414.8,367 437,357.1 456,350.1 473,345.3 490,342.2 506.5,341Z"/>
<path fill="rgb(97,148,241)" fill-rule="evenodd" d="M495.4,343 510,342.3 525,343.2 539,345.7 553,349.7 566.2,355 579.2,362 590.5,370 600,378.8 607.3,388 610.3,393 612.7,398 616,408 616.8,413 617.3,419 616.6,429 615.6,434 613.7,440 609.2,449 602.4,458 592,468 578.9,478 562,489.2 544,499.2 529,506 512,512.1 496.8,516 481,518.6 466,519.7 451,519.3 437,517.5 421,513.8 406,508.5 392,501.9 379,493.9 368,485.3 363,480.5 359.1,476 356,471.8 353.2,467 351,462 349.4,457 348.5,452 348.1,447 348.2,441 349,435 350.1,430 352,424 354.2,419 357.5,413 361,408 365.1,403 375,393.4 387,384.4 404,374.2 424,364.3 445,355.5 463,349.4 480,345.2 495.4,343Z"/>
<path fill="rgb(105,161,239)" fill-rule="evenodd" d="M499.4,344 514,343.8 528,345.1 542,348 555,352.1 568.4,358 580.4,365 591,373 600,382 606.6,391 609.3,396 611.5,401 613.1,406 614.2,411 614.9,417 614.9,422 613.8,432 612.5,437 610.6,442 605.6,451 598.3,460 587.4,470 572.6,481 556.9,491 541,499.5 525,506.5 510,511.5 494,515.4 478,517.7 463,518.4 448,517.7 433,515.3 419,511.6 404.1,506 391,499.4 378,491 367.2,482 363,477.6 359.3,473 356.6,469 354,464 352.4,460 351.1,455 350.4,450 350.1,444 350.5,438 351.6,432 353.3,426 355.3,421 357.8,416 360.9,411 364.6,406 369.1,401 374.2,396 380.2,391 394,381.5 410.9,372 431,362.5 449,355.2 467,349.5 483,346 499.4,344Z"/>
<path fill="rgb(114,174,238)" fill-rule="evenodd" d="M491.7,346 506,345.1 520,345.6 534,347.7 548,351.4 561,356.4 574,363.2 585.5,371 595,379.5 602,388 605.2,393 607.8,398 609.8,403 611.3,408 612.6,418 612.6,424 612,429 611,434 609.5,439 605.2,448 598.6,457 588.7,467 576.2,477 561,487.3 545,496.3 529,503.7 514,509.1 498,513.4 483,516 468,517.1 453,516.8 439,515.1 425,511.9 411,507.3 397,500.9 384,493.2 373.2,485 364.1,476 361,472 357.8,467 355.4,462 354,458 352.8,453 352.2,448 352.2,442 352.8,436 353.8,431 355.6,425 357.7,420 360.3,415 363.6,410 367.5,405 372.1,400 377.5,395 389.3,386 403.9,377 422,367.7 441,359.4 459,353.1 476,348.6 491.7,346Z"/>
<path fill="rgb(122,187,237)" fill-rule="evenodd" d="M494.7,347 509,346.5 523,347.4 536,349.7 549,353.5 562.4,359 575,365.9 586,373.9 594.5,382 601.4,391 606.3,400 608.1,405 609.4,410 610.4,420 609.6,430 608.5,435 606.8,440 602.2,449 595.4,458 585.3,468 572.8,478 558,487.9 543,496.2 527,503.3 512,508.6 496,512.6 481,515 466,515.9 452,515.4 438,513.5 423.4,510 409.4,505 396,498.6 384,491.2 373.6,483 369,478.6 365,474 362,470 359,465 357.2,461 355.6,456 354.6,451 354.2,446 354.2,441 354.9,435 356,430 357.9,424 360.1,419 362.9,414 366.3,409 370.4,404 375.2,399 380.8,394 393,385 408,376 427,366.5 445,359 463,353.1 479,349.2 494.7,347Z"/>
<path fill="rgb(131,200,236)" fill-rule="evenodd" d="M499.3,348 513,348 527,349.5 540,352.4 553,356.7 566,362.8 577,369.5 587,377.4 595.2,386 601.3,395 605.4,404 606.8,409 607.7,414 608,424 606.5,434 603.2,443 597.9,452 590.4,461 579.7,471 566.5,481 553,489.6 538,497.4 523,503.7 508,508.5 493,512 478,514.1 464,514.7 450,513.9 436,511.8 422,508.1 409,503.2 396,496.8 384,489.1 374.1,481 370,476.9 365.9,472 363,467.8 360.3,463 358.7,459 357.3,454 356.5,449 356.2,444 356.5,438 357.2,433 358.8,427 360.7,422 363.1,417 366.2,412 373.4,403 378.4,398 384.2,393 397,383.8 413,374.6 432,365.4 450,358.4 467,353.2 484,349.6 499.3,348Z"/>
<path fill="rgb(131,204,228)" fill-rule="evenodd" d="M490.6,350 505,349.2 518,349.8 531,351.8 544,355.2 557,360.3 569,366.5 579.9,374 588.8,382 595.5,390 600.9,399 604.2,408 605.3,413 605.8,418 605.4,428 604.5,433 603,438 598.8,447 592.6,456 583.3,466 571.4,476 558.5,485 545,492.8 531,499.3 516,504.9 501,509.1 486,511.9 472,513.3 458,513.3 445,512 431,509.2 417,504.8 404,499.3 392,492.6 381.4,485 371.7,476 365,467.3 362.6,463 360.5,458 358.5,449 358.2,444 358.5,438 359.2,433 360.7,427 362.6,422 365.1,417 368.1,412 371.9,407 376.4,402 381.6,397 393,388 407.2,379 423,370.7 440,363.3 458,356.9 475,352.5 490.6,350Z"/>
<path fill="rgb(122,199,213)" fill-rule="evenodd" d="M493.7,351 508,350.6 521,351.6 534,354 547,358 560,363.6 571.1,370 581,377.4 589.7,386 595.6,394 600.2,403 602.8,412 603.6,422 602.4,432 599.6,441 594.7,450 587.9,459 579.1,468 566.8,478 554,486.5 540,494.1 526,500.2 511,505.3 496,509 481,511.4 468,512.2 454,511.7 440,509.8 427,506.6 414,502.1 402,496.5 391,490 380.5,482 372.5,474 369,469.6 366,465 363.9,461 362.1,456 360.4,447 360.2,442 360.7,436 361.8,430 363.3,425 365.4,420 368.1,415 374.7,406 379.4,401 384.8,396 396.6,387 411,378.1 427,370 444,362.9 462,356.9 478,353.1 493.7,351Z"/>
<path fill="rgb(114,194,198)" fill-rule="evenodd" d="M498.9,352 512,352.1 525,353.7 538,356.7 550.2,361 562.6,367 573.6,374 583,381.9 590.3,390 595.4,398 599.2,407 601,416 601.1,426 599.4,435 595.9,444 590.5,453 583.1,462 573.7,471 562.1,480 549.3,488 536,494.8 522,500.5 507,505.2 492,508.6 478,510.4 464,510.9 451,510.1 438,508 425,504.6 412,499.7 400,493.7 389.6,487 379.8,479 372,470.4 366.7,462 364.9,458 363.4,453 362.5,448 362.2,443 362.4,438 363.3,432 364.6,427 366.4,422 371.4,413 378.5,404 383.5,399 389,394.3 401.8,385 417,376.1 433,368.4 450,361.8 467,356.8 483,353.5 498.9,352Z"/>
<path fill="rgb(105,189,184)" fill-rule="evenodd" d="M489.2,354 502,353.3 515,353.8 528,355.8 540.1,359 552.9,364 564.3,370 574.4,377 583.3,385 589.8,393 594.5,401 597.7,410 599,419 598.5,429 596.2,438 592.1,447 586.2,456 578.3,465 568.2,474 557,482.1 544,489.7 530,496.2 516,501.4 502,505.3 487,508.2 473,509.6 460,509.6 447,508.3 435,505.9 422,502 410,497.1 398.6,491 388.3,484 379.3,476 375.7,472 371.9,467 369,462.1 367.2,458 365.8,454 364.8,449 364.2,443 364.4,438 365,433 366.2,428 367.9,423 370.3,418 376.2,409 384.5,400 396,390.5 408.7,382 424,373.7 441,366.3 458,360.4 474,356.4 489.2,354Z"/>
<path fill="rgb(97,184,169)" fill-rule="evenodd" d="M492.3,355 506,354.6 519,355.7 531,358 543,361.7 555,366.9 566,373.2 576,380.8 584,388.9 589.9,397 593.8,405 596.2,414 596.7,423 595.7,432 592.8,441 588.2,450 581.8,459 573.3,468 563.7,476 552,484 540,490.5 526,496.7 512,501.5 497,505.2 483,507.5 470,508.4 457,508.1 445,506.6 433,504 421,500.1 409,495 398,488.8 388,481.6 379,473 373,465 370.3,460 368.6,456 366.6,447 366.2,442 366.4,437 367.1,432 368.7,426 372.7,417 379,408 388,398.6 400,389.1 413,380.8 428,373 444,366.3 461,360.7 477,357 492.3,355Z"/>
<path fill="rgb(89,179,154)" fill-rule="evenodd" d="M498,356 511,356.3 523,357.8 535,360.7 547,365 559,371 569,377.6 577.7,385 584.6,393 589.6,401 591.4,405 593,410 594.4,419 594.1,428 592.1,437 588.4,446 582.9,455 576.4,463 568.1,471 557.7,479 546.4,486 534,492.2 520,497.7 506,501.9 492,505 478,506.8 465,507.2 453,506.5 441,504.5 429,501.4 417,497 406,491.7 395.2,485 386.5,478 378.9,470 376,466 373,461 371,456.5 369.6,452 368.3,443 368.3,438 368.9,433 370,428 371.7,423 376.4,414 383.5,405 393,396 405.1,387 419,378.7 434,371.4 450,365.3 467,360.3 483,357.3 498,356Z"/>
<path fill="rgb(80,174,140)" fill-rule="evenodd" d="M487.4,358 500,357.3 513,357.9 525,359.7 537,363 549,367.8 560,373.7 570,380.8 577.8,388 583.5,395 588.1,403 590.9,411 592.2,420 591.7,429 589.6,438 585.8,447 580.2,456 572.6,465 564,472.9 554.2,480 543,486.6 530,492.7 517,497.5 503,501.5 488,504.4 476,505.7 464,506 452,505 440,502.9 428,499.6 416,494.9 405,489.4 395.2,483 385.8,475 379,467 374.3,459 372.3,454 371.2,450 370.4,445 370.2,440 370.5,435 371.3,430 372.8,425 374.9,420 380.4,411 388.4,402 398.8,393 411,384.5 425,376.7 440,370.1 457,364.2 472,360.4 487.4,358Z"/>
<path fill="rgb(72,169,125)" fill-rule="evenodd" d="M490.4,359 503,358.6 516,359.7 528,362 539,365.4 550,370.1 561,376.4 570,383.2 577.8,391 583,398.1 587,406 589.2,414 589.9,423 588.8,433 586,442 581.6,451 576.1,459 568.8,467 559.4,475 549,482 538,487.9 525,493.6 511,498.2 497,501.7 483,503.9 471,504.7 459,504.4 448,503.1 436,500.5 425,497 413.2,492 403,486.4 394,480 385.4,472 379.3,464 375.2,456 372.8,447 372.2,442 372.2,437 373.7,428 375.4,423 377.2,419 383.1,410 391.4,401 402.1,392 415,383.4 428.9,376 444,369.7 460,364.5 475,361 490.4,359Z"/>
<path fill="rgb(63,165,110)" fill-rule="evenodd" d="M495.9,360 508,360.2 520,361.7 532,364.6 543,368.7 554,374.2 564,380.8 572,387.7 578.4,395 583.3,403 586.3,411 587.6,419 587.4,428 585.6,437 582.3,446 577.9,454 571,462.9 563.7,470 553.3,478 543.3,484 531,490 517.6,495 505,498.6 492,501.4 479,503.1 467,503.5 456,502.9 445,501.3 434,498.5 423,494.7 412,489.7 402,483.8 393,477 385.2,469 379.8,461 376.3,453 375.2,449 374.3,443 374.1,438 374.5,433 375.3,429 376.8,424 381,415.6 387.5,407 392.3,402 397.8,397 409.8,388 423.3,380 436,374 452,368.1 466.6,364 482,361.1 495.9,360Z"/>
<path fill="rgb(55,160,95)" fill-rule="evenodd" d="M485.1,362 497,361.2 509,361.6 521,363.3 532,366.2 543,370.3 553.9,376 563,382.2 571,389.3 577,396.4 581.6,404 584.5,412 585.6,420 585.3,429 583.4,438 579.8,447 575.1,455 568.7,463 561,470.4 552,477.2 541,483.8 530,489 516.8,494 503,497.9 490,500.6 478,502 467,502.3 455,501.5 444,499.7 433,496.8 422,492.8 411.9,488 402,482 393.2,475 385.9,467 380.8,459 379.1,455 377.5,450 376.1,441 376.2,436 376.8,431 378.1,426 379.6,422 384.1,414 391.4,405 401.2,396 413,387.4 425.8,380 440,373.6 455,368.4 470,364.5 485.1,362Z"/>
<path fill="rgb(46,155,81)" fill-rule="evenodd" d="M487.7,363 500,362.5 512,363.3 523,365.2 534,368.4 545,373 555,378.6 563.8,385 571.1,392 576.5,399 580.4,406 582.9,414 583.8,422 583.1,431 580.8,440 577.3,448 572.3,456 565.5,464 557.8,471 548.1,478 537.7,484 526,489.4 513,494 500,497.4 487,499.8 475,500.9 464,501 453,500 442.2,498 431.7,495 421,490.9 411,485.8 401.9,480 393.6,473 386.6,465 382,457 380.4,453 379,448 378.2,443 378,438 379.2,429 382,421 384.2,417 387.6,412 395.5,403 405,394.7 416,387 429,379.7 443,373.7 458,368.7 473,365.1 487.7,363Z"/>
<path fill="rgb(38,150,66)" fill-rule="evenodd" d="M491.1,364 503,363.9 514.7,365 526,367.4 536,370.7 546,375.2 556,381.2 564.5,388 571.2,395 576.1,402 579.4,409 581.4,417 581.8,425 580.6,434 578.1,442 574.1,450 568.6,458 561.2,466 553,472.9 543.9,479 533,484.9 521,490 509,493.9 496,497.1 484,499 473,499.8 462,499.6 451,498.4 440,496.1 429,492.6 418.2,488 409,482.9 400.6,477 393,470 386.8,462 382.7,454 381.4,450 380.4,445 380,436 380.6,431 381.6,427 385.1,419 391.2,410 399.7,401 409.4,393 421,385.4 433,379.1 447,373.5 463,368.6 477,365.6 491.1,364Z"/>
<path fill="rgb(30,145,51)" fill-rule="evenodd" d="M482.8,366 495,365.1 506,365.4 517,366.8 527,369.1 537,372.7 547,377.5 556,383.3 564.1,390 570.4,397 575,403.9 578.1,411 579.6,418 579.8,426 578.4,435 575.7,443 571.5,451 565.6,459 558.9,466 550.4,473 541.3,479 531,484.4 519,489.5 507,493.3 495,496.1 483,497.9 472,498.6 461,498.3 451,497.1 440,494.7 430,491.5 420,487.3 410.3,482 401,475.3 393.5,468 387.7,460 384,452 382.9,448 382,443 381.8,438 382.2,433 384.3,425 386.5,420 388.8,416 395.8,407 405,398.2 415,390.6 427,383.4 440,377.4 454,372.3 469,368.3 482.8,366Z"/>
<path fill="rgb(21,140,37)" fill-rule="evenodd" d="M484.9,367 496,366.4 507,366.8 518,368.3 528,370.9 538,374.7 547,379.4 556,385.4 563.6,392 569.6,399 573.9,406 576.6,413 577.8,420 577.7,428 576.2,436 573.2,444 568.7,452 562.5,460 555.5,467 547,473.6 538,479.3 527,484.9 516,489.3 504,492.9 492,495.5 480,497 469,497.4 458,496.8 448,495.3 438,492.8 427.2,489 418,484.7 409,479.3 400,472.2 393.3,465 388.1,457 385.1,449 384.3,445 383.8,440 383.9,435 384.5,431 387.1,423 391.5,415 398.7,406 407.3,398 418,390.1 429,383.7 442,377.8 457,372.7 471,369.1 484.9,367Z"/>
<path fill="rgb(13,135,22)" fill-rule="evenodd" d="M487.6,368 499,367.6 510,368.4 520,370.2 530,373.1 540,377.3 549,382.5 557,388.4 563.9,395 569.4,402 573.2,409 575.3,416 576,423 575.4,431 573.3,439 569.7,447 565.2,454 559.4,461 552,468 544,474 534,480 524,484.9 513,489 501,492.4 489,494.8 478,495.9 467,496.2 456,495.3 446,493.6 436,490.8 426,487 417,482.5 408.3,477 400,470 394,463 389.2,455 386.6,447 385.8,442 385.7,438 386.6,430 389.5,422 394.9,413 401.7,405 411,396.7 421,389.7 433,383 446,377.5 460,373 474,369.8 487.6,368Z"/>
<path fill="rgb(4,130,7)" fill-rule="evenodd" d="M491.8,369 503,369.1 513,370.2 523,372.4 533,375.8 542,380.1 551,385.8 558.5,392 564.9,399 569,405 572.2,412 573.8,419 574,426 573.1,433 570.6,441 566.5,449 561.6,456 555.2,463 547.1,470 538.4,476 529.4,481 519,485.6 508,489.3 496,492.3 485,494.1 474,494.9 463,494.7 453,493.6 443,491.5 433,488.4 423,484.1 414,479 407,474 399.5,467 394.1,460 390,452 388,444 387.6,439 387.7,435 389.4,427 393,419 398.4,411 405.8,403 415.3,395 426,388.1 437,382.5 450,377.4 465,372.9 479,370.2 491.8,369Z"/>
<path fill="rgb(8,132,0)" fill-rule="evenodd" d="M482.4,371 493,370.2 504,370.5 514,371.7 523.6,374 533,377.4 542,381.9 549.8,387 557,393 562.6,399 567.4,406 570.1,412 571.8,419 572.1,426 570.9,434 568.6,441 565.1,448 560.2,455 554,462 546,469 538,474.6 529,479.8 519,484.3 508,488.1 497,490.9 486,492.8 476,493.7 466,493.7 456,492.8 446,490.9 436,488 427,484.4 418,479.8 409,473.6 401,466.2 395.6,459 391.7,451 389.8,443 389.5,438 389.8,434 391.7,426 395.5,418 402,409 410,401 419,393.9 430,387.2 442,381.6 455,376.9 469,373.2 482.4,371Z"/>
<path fill="rgb(24,140,0)" fill-rule="evenodd" d="M484.6,372 495,371.4 505,371.9 515,373.3 524,375.6 533,379 542,383.7 549.7,389 556.5,395 562,401.3 566.3,408 568.7,414 570.1,421 570,428 568.7,435 566,442.4 561.8,450 556.5,457 549.7,464 542.4,470 534,475.5 525,480.3 515,484.5 504,488 493,490.5 482,492 472,492.5 462,492.2 452,490.8 442,488.5 433,485.5 424,481.4 416.3,477 408.3,471 401.4,464 396.5,457 394.5,453 393,449 391.9,444 391.5,440 392,432 394.4,424 398.7,416 404.8,408 413.1,400 422.6,393 433,387 445,381.7 458,377.3 472,373.8 484.6,372Z"/>
<path fill="rgb(40,148,0)" fill-rule="evenodd" d="M487.5,373 498,372.7 508,373.5 517,375.1 526,377.8 535,381.6 543,386.2 550.7,392 556.9,398 561.6,404 565.1,410 567.3,416 568.3,423 567.9,430 566,437.5 562.7,445 558.3,452 552.5,459 546,465.3 538,471.4 529,476.9 520,481.2 510,485 500,487.9 489,490 479,491.1 469,491.3 459,490.6 449,488.9 440,486.5 430.6,483 422,478.7 414.6,474 407.4,468 401.2,461 397,454 394.2,446 393.3,438 394.3,430 397.2,422 402,414 408.7,406 416.4,399 426,392.3 436,386.8 448,381.8 462,377.4 475,374.5 487.5,373Z"/>
<path fill="rgb(56,156,0)" fill-rule="evenodd" d="M493.2,374 503,374.3 513,375.7 522,377.9 530.2,381 538.1,385 546,390.3 553,396.4 558.7,403 562.4,409 564.9,415 566.2,421 566.2,428 564.9,435 562.2,442 558.3,449 553.1,456 547,462.4 540,468.3 532,473.7 523,478.5 514,482.3 504,485.6 494,488 483,489.6 473,490.1 463,489.8 453,488.4 444,486.4 435,483.4 426,479.3 418.6,475 411.9,470 405,463.1 400.1,456 397,449 395.4,441 395.7,433 397.5,426 401.2,418 406.9,410 414,402.7 422.6,396 432.4,390 442.9,385 456,380.3 469,376.9 481,374.9 493.2,374Z"/>
<path fill="rgb(72,164,0)" fill-rule="evenodd" d="M481.9,376 492,375.3 501,375.5 510,376.5 519,378.5 527,381.2 535,385 542,389.4 549,395 554.8,401 559.1,407 562.2,413 563.9,419 564.4,425 563.7,432 561.6,439 558.1,446 553.4,453 548,459.3 541,465.7 533.7,471 526,475.6 517,479.9 508,483.2 498,485.9 488,487.8 478,488.7 468,488.8 459,488.1 450,486.5 441,484.1 432,480.7 424,476.6 415.6,471 409,465 403.4,458 401.1,454 399.3,450 397.4,442 397.4,434 399.4,426 403.1,418 408.8,410 415.7,403 424,396.5 434,390.5 445,385.4 457,381.2 470,377.9 481.9,376Z"/>
<path fill="rgb(88,172,0)" fill-rule="evenodd" d="M484.1,377 494,376.5 503,376.9 512,378.2 521,380.5 529,383.7 537,388 544,392.9 549.7,398 554.8,404 558.6,410 561.1,416 562.3,422 562.4,428 561,435 558.8,441 554.9,448 549.8,455 544.1,461 537,467 530,471.8 522,476.2 513,480.2 504,483.2 494,485.6 485,487 475,487.7 465,487.4 456,486.4 447,484.5 438,481.6 430,478.2 422.5,474 414.4,468 408.5,462 403.6,455 401.7,451 400.3,447 399.2,440 399.6,432 402,424 406.2,416 411.6,409 418.8,402 427,396 437,390.3 448,385.5 460,381.6 472,378.7 484.1,377Z"/>
<path fill="rgb(104,180,0)" fill-rule="evenodd" d="M487.2,378 497,377.8 506,378.6 515,380.3 523,382.7 531,386.3 538,390.5 544,395 550.1,401 554.7,407 557.9,413 559.9,419 560.6,425 560,431 558.1,438 555.3,444 551,450.8 545.9,457 539.8,463 533,468.3 525.5,473 517.5,477 509,480.4 500,483.1 490,485.1 480,486.2 471,486.5 462,485.9 453,484.6 444,482.3 436,479.4 428,475.6 420.6,471 413.4,465 408,458.6 403.7,451 401.6,444 401.1,436 402.2,429 405.1,421 409.4,414 415.3,407 422.1,401 430.8,395 440.2,390 451,385.7 464,381.7 476,379.3 487.2,378Z"/>
<path fill="rgb(120,188,0)" fill-rule="evenodd" d="M479.3,380 488,379.2 497,379.1 506,379.9 514,381.4 522,383.9 529,386.9 535,390.3 541.4,395 547,400.2 551.8,406 555.4,412 557.6,418 558.6,424 558.3,430 556.8,436 554.4,442 550.2,449 545.6,455 539.8,461 533.8,466 527,470.6 519,475 511,478.4 502,481.3 493,483.4 484,484.7 475,485.2 465.8,485 457,484 448,482.1 440,479.6 432,476.1 423.2,471 416,465.3 410.4,459 406.1,452 403.7,445 403,437 404,429 406.9,421 411.2,414 417.2,407 425,400.3 434,394.5 444,389.6 455,385.5 467,382.2 479.3,380Z"/>
<path fill="rgb(135,195,0)" fill-rule="evenodd" d="M481.2,381 490,380.4 499,380.5 507,381.4 515,383.1 523,385.8 529.8,389 536.2,393 542,397.7 547.2,403 551.6,409 554.6,415 556.1,420 556.7,426 556,432 554.2,438 551.4,444 547.6,450 542.7,456 536.6,462 530.2,467 523,471.5 515,475.5 507,478.6 498,481.1 489,482.9 480,483.8 471,484 462,483.4 453,481.9 445,479.9 437,476.9 430,473.5 422,468.4 415.9,463 410.3,456 406.9,449 405.2,442 405,434 406.7,426 409.7,419 414.5,412 420.1,406 428,399.7 437,394.2 447,389.6 458,385.8 470,382.8 481.2,381Z"/>
<path fill="rgb(151,203,0)" fill-rule="evenodd" d="M483.8,382 493,381.6 501.1,382 509,383.1 517,385.2 524.3,388 531.8,392 537.4,396 543,401 548,407 551,411.9 553.5,418 554.6,423 554.7,428 553.6,434 551,440.8 547.6,447 543,453.3 537.7,459 531.9,464 525,468.8 518,472.7 510.4,476 502,478.8 494,480.8 486,482.1 476,482.8 468,482.6 459,481.7 450.4,480 443,477.8 436,475 428,470.7 421,465.6 415,459.5 411,453.6 408,446.2 406.9,439 407.4,431 409.2,424 413,416.6 418.1,410 424.5,404 431.3,399 440.1,394 449.3,390 461,386.2 474,383.3 483.8,382Z"/>
<path fill="rgb(167,211,0)" fill-rule="evenodd" d="M478.1,384 487,383.2 495,383.2 503,383.8 510,385.1 517,387 524,389.8 530,393.1 535.6,397 541.1,402 545.4,407 549,412.7 551.2,418 552.5,424 552.4,429 551.4,434 549.2,440 546,446 541.8,452 537.4,457 531.9,462 526,466.3 519,470.5 511,474.2 503,477 495,479.1 487,480.5 479,481.3 470,481.3 461,480.5 453,479.1 445,476.9 438,474.1 429,469.3 422,464 416.3,458 412.5,452 409.9,445 409,437 409.9,429 412.3,422 416.4,415 421.5,409 428.2,403 437,397.2 446,392.7 456,389 467,386 478.1,384Z"/>
<path fill="rgb(183,219,0)" fill-rule="evenodd" d="M481.4,385 490,384.6 498,384.9 506,385.9 513,387.6 519.9,390 526,392.9 532,396.7 537.2,401 542,406 545.6,411 548.6,417 550,422 550.4,427 549.8,432 547.9,438 545.1,444 541.2,450 537,455 531.8,460 525.2,465 518.6,469 511,472.6 504,475.2 496,477.5 488,479 480,479.8 471,479.9 463,479.3 455,478 448,476.2 441,473.7 434,470.4 427,465.8 420.6,460 416,454 413.1,448 411.4,441 411.3,434 412.6,427 415.5,420 420.2,413 425.9,407 433,401.4 441,396.5 450,392.4 460,389.1 471,386.5 481.4,385Z"/>
<path fill="rgb(199,227,0)" fill-rule="evenodd" d="M475.8,387 483,386.3 491,386 498,386.4 505,387.4 512,389.1 518,391.1 524,393.9 529.1,397 534.3,401 539.3,406 543.1,411 545.8,416 547.5,421 548.2,426 547.8,431 546.5,436 544,442 541.1,447 537.4,452 532.7,457 527,461.8 521,465.9 515,469.2 508,472.3 501,474.7 493,476.7 486,477.8 478,478.5 470,478.5 462,477.7 454,476.3 447,474.3 438,470.6 430.2,466 423.2,460 418.4,454 415.4,448 413.6,441 413.6,433 415.1,426 418.3,419 423.4,412 429.4,406 437,400.4 445,396 454.8,392 465,389 475.8,387Z"/>
<path fill="rgb(215,235,0)" fill-rule="evenodd" d="M478.6,388 486,387.5 494,387.7 501,388.4 508,389.7 515,391.9 521,394.4 526,397.2 531.3,401 535.6,405 539.9,410 542.9,415 545,420 545.9,425 545.9,429 545,434 542.8,440 539.6,446 536,451 531.4,456 526.8,460 521,464.1 514,468 507,471.1 500,473.5 493,475.2 485,476.5 478,477.1 470,477 462,476.3 455,475 448,473.1 441,470.3 433.2,466 427,461.2 422.3,456 418.6,450 416.4,444 415.6,437 416.2,430 418.5,423 422.5,416 427.5,410 434,404.2 441,399.6 449,395.6 458,392.2 468,389.6 478.6,388Z"/>
<path fill="rgb(231,243,0)" fill-rule="evenodd" d="M484,389 492,389 499,389.7 506,391 513,393 519,395.5 524,398.2 529.5,402 534,406.2 537.3,410 540.5,415 542.7,420 543.7,425 543.6,430 542.5,435 540.2,441 537.5,446 533.8,451 529,456 524,460.2 518.2,464 512,467.4 505,470.3 498,472.6 491,474.2 484,475.2 476,475.7 469,475.5 461,474.6 454,473.2 447,471.1 441,468.6 436,465.8 429.5,461 424.8,456 420.9,450 418.6,444 417.8,438 418.2,431 420.3,424 423.4,418 427.9,412 433,407 439.6,402 447,397.9 456,394.2 465,391.6 474,389.9 484,389Z"/>
<path fill="rgb(247,251,0)" fill-rule="evenodd" d="M475.7,391 483,390.4 490,390.4 497,391 503,392 509,393.5 515,395.6 520,398 525,401 530,405 533.9,409 537,413.2 539.6,418 541.2,423 541.6,427 541.3,431 540.1,436 538.2,441 535.4,446 531.6,451 527.7,455 523,459 517,463 511,466.2 505,468.8 499,470.8 492,472.6 485,473.7 478,474.3 471,474.2 464,473.6 457,472.4 450,470.5 442,467.3 435,463.2 429,458 425,453 421.9,447 420.2,441 420,434 421.4,427 424.4,420 428.5,414 434.1,408 440.6,403 448,398.8 457,395.2 466,392.7 475.7,391Z"/>
<path fill="rgb(255,247,0)" fill-rule="evenodd" d="M479.4,392 487,391.8 494,392.2 501,393.2 507,394.7 513,396.7 518,399 523.1,402 528,405.8 532,409.9 535,414 537.6,419 539,423.3 539.5,427 539,432 537.7,437 535.6,442 532.6,447 529.4,451 525,455.3 520,459.2 514,463 508,466 502,468.3 495,470.5 489,471.7 482,472.6 475,472.9 468,472.6 461,471.7 455,470.4 449,468.6 443,466.1 437,462.5 431.6,458 427.4,453 424.1,447 422.4,441 422.1,435 423.2,428 425.5,422 429.1,416 434,410.3 440,405.1 446,401.3 453,398 462,394.9 471,393 479.4,392Z"/>
<path fill="rgb(255,231,0)" fill-rule="evenodd" d="M472.8,394 481,393.3 490,393.4 499,394.5 507,396.4 514,399 521,402.9 526.4,407 531.1,412 534.3,417 536.7,423 537.3,428 536.5,434 534.5,440 531.2,446 526.2,452 520.5,457 516,460.1 510,463.4 504,466.1 498,468.1 486,470.8 480,471.4 473,471.5 466,470.9 459,469.8 453,468.3 447,466.2 442,463.7 437.7,461 434,457.9 430.5,454 427.9,450 425.7,445 424.6,441 424.3,436 424.7,431 426,426 428.2,421 431.2,416 434.5,412 438.6,408 443,404.7 448,401.7 454,398.9 460,396.8 466,395.2 472.8,394Z"/>
<path fill="rgb(255,215,0)" fill-rule="evenodd" d="M475.5,395 488,394.7 500,396.3 506,397.9 511.8,400 517,402.6 521,405.1 525,408.3 528.5,412 531.3,416 533.4,420 534.7,424 535.1,428 534.8,432 533.6,437 532,441 529.8,445 526.7,449 522.8,453 518,456.9 513.2,460 508,462.8 502,465.3 496,467.3 490,468.7 478,470 472,470 465,469.4 459,468.3 453,466.8 446,464 440,460.6 434.6,456 430.8,451 428.3,446 426.7,440 426.6,433 427.8,427 430.3,421 434.1,415 439,409.6 445,405 452,401.1 459,398.4 467,396.3 475.5,395Z"/>
<path fill="rgb(255,199,0)" fill-rule="evenodd" d="M481.4,396 488,396.2 494,396.8 500,397.9 506,399.6 511,401.6 516,404.1 520.4,407 524,410.1 527.5,414 530.1,418 531.8,422 532.8,426 532.9,430 532.2,435 530.9,439 528.9,443 526.2,447 522.6,451 519,454.2 514,457.8 509,460.6 503,463.4 497,465.5 491,467.1 485,468.1 479,468.6 473,468.6 466,468 460,467 454,465.5 449,463.7 444,461.2 439,457.7 434.5,453 431.4,448 429.3,442 428.6,437 429,431 430.6,425 433.4,419 436.9,414 441,409.8 446,405.9 452,402.5 459,399.7 466,397.8 474,396.5 481.4,396Z"/>
<path fill="rgb(255,183,0)" fill-rule="evenodd" d="M472,398 479,397.4 487,397.5 495,398.5 502,400.1 509,402.6 515,405.6 519.9,409 524.1,413 527.7,418 529.8,423 530.7,428 530.5,433 529.3,438 526.9,443 523.3,448 519.2,452 510.7,458 500,463 489,466 478,467.2 466,466.6 460,465.5 454,463.9 449,462 445,460 441,457.2 437.6,454 434.7,450 432.8,446 431.5,442 430.8,437 431,432 432,427 433.8,422 436,418 438.9,414 441.8,411 445.4,408 450,405 455,402.5 460,400.7 466,399.1 472,398Z"/>
<path fill="rgb(255,167,0)" fill-rule="evenodd" d="M474.8,399 482,398.7 490,399.3 497,400.5 504,402.5 510.1,405 516,408.4 520.5,412 524,416 526.8,421 528.3,426 528.7,431 528,436 526.1,441 523.6,445 520,449.1 515,453.4 506,458.8 496,462.8 486,465.1 475,465.8 463,464.6 457,463.3 452,461.6 448,459.8 444,457.4 441,455 438.2,452 435.8,448 434.2,444 433.3,440 433,435 433.4,430 434.6,425 436.3,421 438.6,417 441.8,413 445,410 449,407.1 453,404.9 458,402.7 463.3,401 469,399.7 474.8,399Z"/>
<path fill="rgb(255,151,0)" fill-rule="evenodd" d="M470.1,401 477,400.3 484,400.3 491,401 497,402.2 503,404 509,406.5 514,409.4 518.5,413 522.1,417 524.4,421 525.8,425 526.5,430 526,435 524.8,439 522.6,443 519.5,447 512.6,453 508,455.9 503,458.5 498,460.5 492,462.4 482,464.1 471,464.1 465,463.4 459,462.1 450,458.9 446,456.6 442.6,454 439.9,451 438,447.9 436.5,444 435.4,439 435.2,434 435.5,430 436.7,425 438.4,421 440.8,417 443.2,414 446.4,411 450.5,408 455,405.5 460,403.5 470.1,401Z"/>
<path fill="rgb(255,135,0)" fill-rule="evenodd" d="M476.1,402 485,402 493,403.1 501,405.3 508,408.3 514,412.1 519,416.8 522.2,422 523.7,427 523.9,433 522.6,438 519.9,443 515.5,448 510,452.4 503,456.5 495,459.7 487,461.8 479,462.7 470,462.4 461,460.8 452.8,458 447,454.8 442.7,451 439.6,446 437.8,440 437.5,433 438.7,426 441.3,420 446.1,414 452,409.3 459,405.8 467,403.3 476.1,402Z"/>
<path fill="rgb(255,120,0)" fill-rule="evenodd" d="M472.7,404 479,403.5 485,403.7 491,404.5 497,406 502.7,408 508,410.6 512,413.3 516,416.9 518.4,420 520.4,424 521.4,428 521.6,432 520.8,436 519.1,440 516.2,444 513.4,447 506,452.7 498,456.8 489,459.7 480,461 470,460.7 460,458.6 455.5,457 451.3,455 448,452.9 445,450.2 442.6,447 441.2,444 440.3,441 439.7,437 439.7,433 440.2,429 441.4,425 443.2,421 445.3,418 448,415 451.5,412 455,409.8 463,406.2 472.7,404Z"/>
<path fill="rgb(255,104,0)" fill-rule="evenodd" d="M470.7,406 476,405.3 482,405.2 488,405.7 493,406.7 499,408.6 504,410.8 508,413.1 512,416.2 515,419.3 517.4,423 518.5,426 519.2,430 518.9,434 517.9,437 516,440.5 513.3,444 507,449.6 499,454.4 491,457.5 482,459.2 473,459.3 463,457.5 458.2,456 454,454.2 448,450.1 446,448 444.1,445 442.9,442 442.1,438 441.9,434 442.3,430 443.3,426 444.6,423 446.4,420 448.9,417 455,412 462,408.5 470.7,406Z"/>
<path fill="rgb(255,88,0)" fill-rule="evenodd" d="M475.6,407 482,406.8 489,407.7 495,409.2 501,411.6 506,414.4 510.7,418 514.1,422 516,426 516.8,430 516.4,434 514.8,438 511.2,443 507,447 501.4,451 496,453.8 490,456 483,457.5 476,457.8 469,457.1 462,455.3 455,452.4 450,449 447,445.6 444.9,441 444.1,435 444.8,429 446.5,424 450,418.8 455,414.3 461,410.8 468,408.3 475.6,407Z"/>
<path fill="rgb(255,72,0)" fill-rule="evenodd" d="M472.9,409 478,408.5 483,408.6 488,409.2 493,410.5 497.2,412 502,414.4 506,417 509.4,420 511.9,423 513.5,426 514.2,429 514.3,432 513.6,435 512.1,438 507.2,444 501,449 494,452.8 487,455.1 480,456.1 472,455.8 464,454.1 456.7,451 451,446.9 448.1,443 447,440 446.5,437 446.4,434 446.8,430 447.6,427 449,423.9 453,418.6 459,414 465.3,411 472.9,409Z"/>
<path fill="rgb(255,56,0)" fill-rule="evenodd" d="M471.4,411 480,410.1 485,410.5 489,411.2 497,414 501,416.2 504.9,419 509.7,424 511,426.4 511.8,429 511.9,432 511.4,434 509.9,437 507.8,440 503,445 497,449.3 490,452.5 483,454.2 476,454.5 468,453.3 461,450.9 454.4,447 450.6,443 448.9,438 448.7,432 450.4,426 453.6,421 458,417 464,413.5 471.4,411Z"/>
<path fill="rgb(255,40,0)" fill-rule="evenodd" d="M475.4,412 480,411.8 485,412.2 490,413.3 495,415.2 500,418 503.8,421 507,424.4 509,428 509.5,431 509,433.3 507.1,437 504.1,441 501,444 497,447.1 493,449.4 488,451.4 483,452.6 478,453 473,452.6 467,451.2 461.6,449 457,446.2 453.4,443 451.7,440 450.9,435 451.3,430 452.8,426 455.5,422 459,418.7 464,415.5 470,413.1 475.4,412Z"/>
<path fill="rgb(255,24,0)" fill-rule="evenodd" d="M473.4,414 478,413.4 482,413.5 487,414.3 491,415.6 495,417.4 499.1,420 502.6,423 505,425.8 506.4,428 507,430 506.5,433 502.8,439 500.1,442 496.6,445 491.8,448 486,450.3 481,451.2 475,451.2 469.2,450 464,448 459,445 454.7,441 453.5,438 453.1,433 453.9,429 455.9,425 459.4,421 463.3,418 468,415.6 473.4,414Z"/>
<path fill="rgb(255,8,0)" fill-rule="evenodd" d="M472.3,416 479,415 486,415.8 493,418.5 499,422.8 502.1,426 504.5,430 504.5,431 503,434.5 499.1,440 494.7,444 490,446.9 485,448.8 480,449.6 474,449.4 469,448.1 464,445.8 459,442.2 456.2,439 455.6,437 455.5,432 456.7,428 459.3,424 463,420.6 467.1,418 472.3,416Z"/>
<path fill="none" stroke="#000" stroke-width="2.6" d="M330.2,421.1 331.7,417.3 334.3,411.9 339.4,403.4 345.6,395.4 352.6,388.1 360.3,381.2 370.4,373.7 381.1,366.9 392.4,360.6 407.8,353.1 423.2,346.4 438.6,340.6 454,335.7 467.6,332.3 481.3,329.7 495.3,328.1 509.5,327.5 524,327.9 536.7,329.2 549.4,331.3 562,334.3 574.3,338.2 586.1,343 597.3,348.8 606.1,354.3 614.2,360.5 621.6,367.4 628.1,375 633.8,383.3 636.6,388.7 638.4,392.4 640.6,398.1 641.8,402.1 643.3,408.1 644,412.2 644.6,420.4 644.4,426.4 643.9,430.3 642.6,436 641.3,439.6 639.7,443.1 637.8,446.4 635.6,449.6 631.8,454.2 629,457.1 624.4,461.2 616,467.6 605.1,474.8 584.8,487.1 564.7,498.5 544.4,508.8 527.6,516.5 510.6,523.2 495.2,528 487.4,530 479.6,531.7 471.6,533 463.6,534 455.5,534.6 449.4,534.7 441.2,534.6 434.9,534.1 422.4,532.5 414,530.9 407.8,529.3 395.6,525.5 387.6,522.4 381.8,519.8 376.2,516.9 370.7,513.8 365.4,510.4 360.3,506.7 355.5,502.9 350.9,498.7 346.6,494.4 342.6,489.7 336.7,481.5 333.7,476.2 331,470.8 328.8,465.1 327.7,461.2 326.4,455.3 325.9,451.3 325.7,447.2 325.8,441.1 326.2,437 327.3,430.9 328.3,426.9 330.2,421.1ZM352.5,423.8 355.3,417.7 359.6,410.6 364.7,403.9 370.6,397.8 377.2,392 385.7,385.7 394.8,379.8 406,373.5 419.1,367 433.9,360.3 447,355 460.2,350.6 471.7,347.4 483.3,344.9 494.9,343.3 506.6,342.6 516.7,342.8 526.8,343.7 537,345.5 547.2,348.1 557.5,351.7 565.9,355.3 575.7,360.3 583.5,365.2 590.7,370.6 597.3,376.6 603.1,383.1 608.1,390 612,397.5 614.4,403.8 615.9,410.4 616.4,413.7 616.8,418.9 616.7,424 616.1,429.1 615.1,434.2 614.2,437.4 612.4,442.2 610.9,445.3 609.3,448.2 606.5,452.5 601,459.1 593.4,466.5 583.6,474.4 571.8,482.7 558.2,491.2 545.9,498 531.6,504.7 518.6,509.7 505.4,513.7 492,516.7 478.5,518.7 466.5,519.4 459.7,519.4 452.8,519.1 440.9,517.8 434,516.7 427.2,515.1 415.4,511.7 408.7,509.2 402,506.4 390.8,500.7 380,494.1 374.1,489.8 369.9,486.4 365.9,482.8 362.2,479 356.8,472.3 354.1,468 352.6,465 350.3,458.7 349.5,455.5 348.7,450.5 348.5,447.1 348.6,442 349.7,433.6 350.9,428.6 352.5,423.8ZM376.8,424 379,419 382.7,413.1 387.1,407.5 393.1,401.2 399.8,395.4 406.7,390.1 413.9,385.4 422.5,380.4 431.4,376 440.5,372.2 449.7,368.8 460.4,365.6 469.9,363.2 479.5,361.5 489.1,360.4 497.4,360 505.7,360.1 514,360.8 522.3,362.2 530.5,364.2 538.8,367 545.5,369.8 553.5,373.9 559.8,377.8 565.8,382.2 571.2,386.9 576.1,392.1 580.2,397.6 583.5,403.5 585.5,408.5 587.1,414.9 587.6,421.5 587.3,428.2 585.9,436.1 583.3,443.8 579.7,451.1 575.2,457.9 568.9,465.2 562.8,470.9 554.8,477 546.2,482.4 537.1,487.2 526.2,491.9 514.9,495.9 503.7,499 491.2,501.6 480.3,503 469.5,503.5 458.9,503.2 449.5,502.1 438.9,499.9 429.4,497.1 418.5,492.8 409.2,488.2 400.4,482.8 393.5,477.5 387.4,471.6 383,466.2 380.8,462.8 378.8,459.2 376.3,452.9 375.3,449 374.6,445.1 374.1,438.4 374.4,434.4 375,430.5 376.8,424ZM408.8,423.9 410.9,419.4 413.4,415.2 416.5,411.3 420,407.6 423.7,404.2 428.6,400.5 433.7,397.2 439.8,393.8 446.1,391 452.5,388.6 460.1,386.2 467.9,384.2 474.9,382.9 481.9,381.9 489,381.4 495,381.3 501,381.7 507,382.4 512.8,383.6 517.6,385 523.2,387.1 527.8,389.3 532.1,391.8 536.4,394.7 541.1,398.6 544.6,402.2 547.8,406 550.4,410 552.6,414.2 554.1,418.6 555,423 555.2,426.6 554.5,432 552.9,437.4 550.5,442.6 547.1,448.4 543.1,453.8 538.5,458.7 533.4,463.2 527.9,467.3 522,470.9 515.7,474.1 509.2,476.8 501.4,479.3 494.4,481 486.2,482.3 479,482.9 471.7,483.1 463.5,482.6 456.4,481.6 449.4,480 442.6,478 436.1,475.3 429.8,472.2 424.1,468.4 418.9,464.2 415,460.1 411.7,455.7 409.2,450.9 407.4,445.7 406.5,440.2 406.5,434.4 407.4,428.6 408.8,423.9ZM436.5,423.1 437.7,420.4 439.5,417.3 441.3,415 443.6,412.4 446.3,410 449.2,407.9 452.4,406 455.8,404.4 463,401.8 471.5,400.1 479.6,399.6 488.5,400 497.3,401.5 505,403.9 512.1,407.2 515.3,409.3 518.3,411.5 520.9,414 522.7,416.3 524.3,418.8 525.6,421.4 526.6,424.2 527.2,427.6 527.4,430.5 527.3,433.4 526.6,436.8 525.4,440 523.7,443.1 521.2,446.5 518.2,449.6 514.7,452.5 510.9,455.1 506.8,457.5 502.5,459.5 497.4,461.5 493,462.8 487.9,464 483.5,464.6 478.4,465 473.3,464.9 468.1,464.5 459,462.9 454.5,461.6 450.9,460.2 447.4,458.5 444.3,456.5 441.5,454.1 439.5,451.9 437.5,448.9 436,445.6 435,442.1 434.4,438.4 434.3,434.6 434.5,430.9 435.3,426.6 436.5,423.1Z"/>
<ellipse cx="223.5" cy="689.8" rx="77" ry="50.5" transform="rotate(-8.6 223.5 689.8)" fill="#ff0000"/>
<path d="M715.8,534.2V628.5" stroke="#000" stroke-width="5.4" stroke-linecap="round"/>
</g>
<path d="M489.22,415.09 498.41,424.28 488.79,433.9 498.41,443.52 489.22,452.71 479.6,443.09 469.98,452.71 460.79,443.52 470.41,433.9 460.79,424.28 469.98,415.09 479.6,424.71Z" fill="#ff00ff" stroke="#fff" stroke-width="3.1" stroke-linejoin="miter"/>
<rect x="125.2" y="79.4" width="709.0" height="708.9" fill="none" stroke="#000" stroke-width="3"/>
<path stroke="#000" stroke-width="2.2" fill="none" d="M282.76,788.3V769.7M282.76,79.4V98M479.7,788.3V769.7M479.7,79.4V98M676.64,788.3V769.7M676.64,79.4V98M164.59,788.3V782.1M164.59,79.4V85.6M203.98,788.3V782.1M203.98,79.4V85.6M243.37,788.3V782.1M243.37,79.4V85.6M322.14,788.3V782.1M322.14,79.4V85.6M361.53,788.3V782.1M361.53,79.4V85.6M400.92,788.3V782.1M400.92,79.4V85.6M440.31,788.3V782.1M440.31,79.4V85.6M519.09,788.3V782.1M519.09,79.4V85.6M558.48,788.3V782.1M558.48,79.4V85.6M597.87,788.3V782.1M597.87,79.4V85.6M637.26,788.3V782.1M637.26,79.4V85.6M716.03,788.3V782.1M716.03,79.4V85.6M755.42,788.3V782.1M755.42,79.4V85.6M794.81,788.3V782.1M794.81,79.4V85.6M125.2,630.79H143.8M834.2,630.79H815.6M125.2,433.85H143.8M834.2,433.85H815.6M125.2,236.91H143.8M834.2,236.91H815.6M125.2,748.96H131.4M834.2,748.96H828M125.2,709.57H131.4M834.2,709.57H828M125.2,670.18H131.4M834.2,670.18H828M125.2,591.41H131.4M834.2,591.41H828M125.2,552.02H131.4M834.2,552.02H828M125.2,512.63H131.4M834.2,512.63H828M125.2,473.24H131.4M834.2,473.24H828M125.2,394.46H131.4M834.2,394.46H828M125.2,355.07H131.4M834.2,355.07H828M125.2,315.68H131.4M834.2,315.68H828M125.2,276.29H131.4M834.2,276.29H828M125.2,197.52H131.4M834.2,197.52H828M125.2,158.13H131.4M834.2,158.13H828M125.2,118.74H131.4M834.2,118.74H828"/>
<rect x="834.2" y="79.4" width="18.399999999999977" height="708.9" fill="url(#cbA)" stroke="#000" stroke-width="2.4"/>
<path stroke="#000" stroke-width="2.2" d="M852.6,139.8H863.2M852.6,228.8H863.2M852.6,335.3H863.2M852.6,477.0H863.2"/>
<defs><clipPath id="clipB"><rect x="1080.8" y="73.4" width="717.8" height="699.6"/></clipPath></defs>
<g clip-path="url(#clipB)">
<path d="M1421.75,773.0V73.4" stroke="#0000ff" stroke-width="2.8" stroke-dasharray="9.4,3.46" stroke-dashoffset="6.04" fill="none"/>
<path d="M1044.91,698.04 1080.8,700.79 1116.69,697.04 1152.58,712.28 1188.47,739.27 1224.36,689.05 1260.25,700.29 1296.14,702.29 1332.03,676.8 1367.92,668.56 1403.81,260.29 1439.7,201.08 1475.59,670.81 1511.48,673.56 1547.37,662.06 1583.26,682.55 1619.15,724.28 1655.04,702.79 1690.93,665.81 1726.82,699.79 1762.71,733.77 1798.6,707.54" fill="none" stroke="#000" stroke-width="2.7" stroke-linejoin="miter"/>
</g>
<rect x="1080.8" y="73.4" width="717.8" height="699.6" fill="none" stroke="#000" stroke-width="1.5"/>
<path stroke="#000" stroke-width="1.5" fill="none" d="M1080.8,773V757M1260.25,773V757M1439.7,773V757M1619.15,773V757M1798.6,773V757M1116.69,773V766.7M1152.58,773V766.7M1188.47,773V766.7M1224.36,773V766.7M1296.14,773V766.7M1332.03,773V766.7M1367.92,773V766.7M1403.81,773V766.7M1475.59,773V766.7M1511.48,773V766.7M1547.37,773V766.7M1583.26,773V766.7M1655.04,773V766.7M1690.93,773V766.7M1726.82,773V766.7M1762.71,773V766.7M1080.8,698.04H1096.8M1080.8,573.11H1096.8M1080.8,448.19H1096.8M1080.8,323.26H1096.8M1080.8,198.33H1096.8M1080.8,73.4H1096.8M1080.8,748.01H1087.1M1080.8,723.03H1087.1M1080.8,673.06H1087.1M1080.8,648.07H1087.1M1080.8,623.09H1087.1M1080.8,598.1H1087.1M1080.8,548.13H1087.1M1080.8,523.14H1087.1M1080.8,498.16H1087.1M1080.8,473.17H1087.1M1080.8,423.2H1087.1M1080.8,398.21H1087.1M1080.8,373.23H1087.1M1080.8,348.24H1087.1M1080.8,298.27H1087.1M1080.8,273.29H1087.1M1080.8,248.3H1087.1M1080.8,223.31H1087.1M1080.8,173.34H1087.1M1080.8,148.36H1087.1M1080.8,123.37H1087.1M1080.8,98.39H1087.1"/>
<rect x="1588.1" y="89.9" width="194.3" height="57.3" rx="4.4" fill="#fff" fill-opacity="0.8" stroke="#cccccc" stroke-width="1.5"/>
<path d="M1599.4,116.8H1666.5" stroke="#000" stroke-width="3"/>
<defs><clipPath id="clipC"><rect x="149.9" y="910.8" width="646.2" height="645.6000000000001"/></clipPath></defs>
<defs><filter id="blurC" x="-10%" y="-10%" width="120%" height="120%"><feGaussianBlur stdDeviation="6"/></filter></defs>
<g clip-path="url(#clipC)">
<g filter="url(#blurC)" fill="#f2f2f2">
<path d="M362.8,918.5 367.3,913.6 373.8,910.2 382,908.1 391.7,907.2 402.6,907.1 414.5,907.6 427.1,908.5 440.3,909.7 453.7,910.8 467.1,911.7 480.3,912.1 493.1,912.4 505.2,912.7 516.4,913.5 526.4,915.2 535.1,918 542.1,922.4 547.3,928.7 550.8,936.8 552.6,946.4 553.2,957.2 552.7,968.7 551.4,980.5 549.5,992.4 547.4,1003.8 545.1,1014.7 542.8,1025.2 540.4,1035.3 538,1045.2 535.5,1055.1 533.1,1065.1 530.7,1075.3 528.4,1085.9 526.3,1096.8 524.7,1107.8 523.9,1118.6 524.1,1129.1 525.5,1139.1 528.6,1148.3 533.4,1156.5 539.7,1163.9 547.1,1170.8 555.2,1177.4 563.5,1183.9 571.7,1190.7 579.4,1198 586,1206 591.6,1214.8 596.1,1224.3 599.6,1234.4 602,1244.9 603.5,1255.7 604.1,1266.7 603.8,1277.8 602.6,1288.9 600.6,1299.9 597.8,1310.6 594.3,1320.9 590.1,1330.8 585.2,1340.1 579.7,1348.7 573.5,1356.8 566.8,1364.3 559.4,1371.3 551.5,1377.6 543.1,1383.3 534.2,1388.5 524.8,1393 515.2,1397 505.2,1400.3 495,1403.1 484.6,1405.2 474,1406.7 463.4,1407.5 452.7,1407.8 442,1407.4 431.5,1406.4 421,1404.7 410.7,1402.4 400.7,1399.5 390.9,1395.9 381.4,1391.7 372.2,1387 363.1,1381.9 354.1,1376.5 345.3,1370.7 336.6,1364.8 327.8,1358.8 319.1,1352.7 310.3,1346.7 301.5,1340.8 292.5,1335.1 283.4,1329.7 274.4,1324.3 265.9,1318.5 258.2,1312 251.7,1304.4 246.5,1295.5 241.7,1286.2 236.1,1277.6 228.7,1270.7 220.2,1264.9 211.6,1259.4 204,1253.3 198.4,1245.8 194.9,1236.7 193.2,1226.5 192.8,1215.4 193.3,1203.8 194.5,1192 196.4,1180.7 199.5,1170.6 204.4,1162.2 211.4,1156.3 220.3,1152.7 230.6,1150.8 241.7,1149.9 253.1,1149.6 264.2,1149.2 274.8,1148.5 285,1147.2 294.9,1145.6 304.9,1143.4 314.9,1140.8 325.3,1137.8 336,1134.2 347,1130.1 357.7,1125.4 367.7,1120.2 376.6,1114.2 383.8,1107.6 389.3,1100.3 393.1,1092.4 395.5,1083.8 396.6,1074.7 396.5,1065.1 395.4,1055.1 393.3,1044.6 390.5,1033.7 387.1,1022.5 383.2,1011 378.9,999.2 374.5,987.3 370.2,975.4 366.2,963.8 363,952.7 360.7,942.4 359.7,933.1 360.3,925Z"/>
<path d="M522.1,1469 523.5,1464.3 526.2,1460.1 530,1456.3 534.6,1452.9 539.8,1449.6 545.2,1446.3 550.5,1442.9 555.5,1439.3 560,1435.4 564.2,1431.3 568.1,1427 571.9,1422.7 575.8,1418.3 579.8,1414.1 584.1,1410.1 588.8,1406.3 593.8,1403.1 598.7,1400.9 603,1400.1 606.5,1401.1 608.8,1404.1 610.1,1408.5 610.4,1413.7 610,1419.1 609,1424.3 607.4,1429.3 605.2,1434.2 602.4,1438.9 599.3,1443.5 595.7,1447.9 591.7,1452.2 587.4,1456.4 582.9,1460.5 578.1,1464.4 573.2,1468.3 568.2,1472.1 563,1475.8 557.9,1479.4 552.7,1482.9 547.7,1486 542.8,1488.4 538.2,1489.7 533.9,1489.6 530,1487.8 526.5,1484.3 523.9,1479.5 522.3,1474.2Z"/>
<path d="M660.3,969.5 663.4,965.8 667.7,962.9 672.8,960.7 678.7,959.3 685.1,958.5 691.8,958.3 698.7,958.6 705.4,959.4 712.1,960.6 718.4,962.4 724.3,964.6 729.8,967.4 734.6,970.7 738.7,974.6 742.1,979 744.5,983.8 746,988.9 746.4,993.9 745.7,998.7 743.8,1002.9 740.6,1006.3 736.4,1009.1 731.3,1011.1 725.6,1012.6 719.3,1013.5 712.7,1013.9 705.9,1013.9 699.2,1013.4 692.6,1012.5 686.3,1011.1 680.4,1009.2 674.9,1006.7 670,1003.5 665.8,999.7 662.4,995.1 659.9,990 658.3,984.6 657.8,979.2 658.5,974Z"/>
<path d="M737.1,1080.4 745.7,1074.5 756,1070.7 767.4,1069 779.2,1069.4 790.7,1072.1 801.4,1077.2 810.8,1084.5 818.8,1093.9 825.4,1105 830.7,1117.4 834.7,1131 837.4,1145.3 838.9,1160 839.1,1174.9 838.2,1189.6 836,1203.7 832.7,1217 828.3,1229.2 822.7,1240 816.1,1248.9 808.4,1255.7 799.6,1260.2 789.9,1261.9 779.6,1261.1 769.1,1258.1 758.9,1253.1 749.4,1246.3 741.2,1238.2 734.6,1229 729.8,1218.9 726.6,1208 724.5,1196.4 723.3,1184.3 722.7,1171.7 722.2,1158.8 721.8,1145.7 721.7,1132.8 722.1,1120.2 723.6,1108.4 726.3,1097.6 730.7,1088.2Z"/>
</g>
<path d="M489.1,1089.6 490.1,1089.3 491,1089.3 492,1089.4 492.9,1089.7 493.8,1090.1 494.8,1090.6 495.7,1091.3 496.5,1092 497.4,1092.8 498.2,1093.7 498.9,1094.7 499.6,1095.7 500.3,1096.7 500.9,1097.7 501.4,1098.7 501.9,1099.7 502.2,1100.6 502.5,1101.6 502.8,1102.5 503,1103.3 503.2,1104.2 503.4,1105.1 503.6,1106 504,1106.9 504.4,1107.8 504.8,1108.8 505.3,1109.9 505.8,1110.9 506.3,1112 506.8,1113.1 507.1,1114.2 507.4,1115.3 507.6,1116.3 507.8,1117.4 507.8,1118.5 507.8,1119.5 507.7,1120.6 507.6,1121.7 507.4,1122.7 507.2,1123.8 507,1124.8 506.7,1125.9 506.5,1126.9 506.2,1128 506,1129 505.8,1130.1 505.6,1131.2 505.5,1132.2 505.4,1133.3 505.4,1134.4 505.4,1135.5 505.4,1136.5 505.6,1137.6 505.7,1138.7 505.9,1139.8 506.1,1140.9 506.3,1142 506.5,1143.1 506.7,1144.2 506.9,1145.2 507.1,1146.3 507.2,1147.4 507.4,1148.4 507.4,1149.5 507.4,1150.5 507.4,1151.5 507.3,1152.5 507.1,1153.5 506.9,1154.5 506.5,1155.4 506,1156.4 505.5,1157.3 504.9,1158.2 504.3,1159.1 503.6,1160 502.9,1160.9 502.1,1161.7 501.4,1162.6 500.7,1163.5 500,1164.4 499.4,1165.2 498.8,1166.1 498.2,1167 497.8,1167.9 497.5,1168.8 497.3,1169.7 497.2,1170.7 497.2,1171.6 497.4,1172.6 497.7,1173.6 498,1174.6 498.5,1175.6 499,1176.6 499.6,1177.7 500.2,1178.7 500.9,1179.8 501.5,1180.8 502,1181.9 502.6,1183 503.1,1184.1 503.5,1185.2 503.7,1186.3 503.9,1187.3 504,1188.4 503.9,1189.5 503.6,1190.6 503.3,1191.7 503,1192.7 502.6,1193.8 502.2,1194.9 501.8,1196 501.6,1197.1 501.4,1198.1 501.4,1199.2 501.5,1200.3 501.7,1201.4 501.9,1202.4 502.3,1203.3 502.7,1204.2 503.3,1205 503.9,1205.8 504.5,1206.4 505.3,1207 506.1,1207.4 506.9,1207.7 507.8,1207.9 508.7,1208 509.7,1207.9 510.7,1207.8 511.7,1207.5 512.8,1207.2 513.9,1206.9 515,1206.5 516.1,1206.1 517.3,1205.7 518.4,1205.3 519.6,1204.9 520.8,1204.5 522,1204.2 523.2,1203.9 524.3,1203.7 525.5,1203.6 526.7,1203.6 527.8,1203.7 528.9,1203.9 530,1204.2 531,1204.6 532,1205 532.9,1205.6 533.8,1206.2 534.6,1206.8 535.3,1207.6 535.9,1208.4 536.5,1209.2 536.9,1210.1 537.2,1211.1 537.5,1212.1 537.7,1213.1 537.8,1214.2 538.1,1215.2 538.4,1216.2 538.8,1217.1 539.3,1218 540,1218.9 540.8,1219.7 541.6,1220.4 542.5,1221.2 543.4,1221.9 544.3,1222.6 545.2,1223.3 546.1,1224 546.9,1224.7 547.7,1225.3 548.5,1226 549.2,1226.7 550,1227.4 550.7,1228 551.5,1228.7 552.2,1229.4 553,1230 553.8,1230.7 554.6,1231.3 555.4,1231.9 556.2,1232.6 557.1,1233.2 558,1233.9 558.9,1234.5 559.9,1235.1 561,1235.7 562.1,1236.3 563.2,1236.9 564.4,1237.5 565.7,1238.1 566.9,1238.7 568.1,1239.3 569.2,1239.8 570.1,1240.3 570.9,1240.7 571.6,1241.2 572,1241.5 572.1,1241.8 571.9,1242.1 571.5,1242.3 570.7,1242.5 569.7,1242.6 568.6,1242.7 567.4,1242.9 566.1,1243.1 564.9,1243.4 563.7,1243.8 562.7,1244.3 561.8,1244.9 561,1245.6 560.3,1246.4 559.7,1247.2 559.2,1248.2 558.7,1249.1 558.3,1250.1 557.9,1251.2 557.5,1252.2 557.2,1253.3 556.9,1254.4 556.5,1255.4 556.2,1256.5 555.8,1257.5 555.3,1258.5 554.8,1259.4 554.3,1260.2 553.6,1261 552.9,1261.7 552.1,1262.3 551.1,1262.9 550.2,1263.4 549.2,1263.8 548.1,1264.3 547.1,1264.8 546.1,1265.3 545.2,1265.8 544.3,1266.5 543.5,1267.2 542.7,1268 542.2,1269 541.7,1270.1 541.3,1271.2 540.9,1272.3 540.5,1273.2 540,1273.8 539.4,1274.2 538.5,1274.2 537.5,1273.9 536.5,1273.4 535.3,1272.9 534.2,1272.5 533.1,1272.2 532,1272 530.9,1272 529.9,1272.1 528.9,1272.2 527.8,1272.5 526.8,1272.8 525.8,1273.1 524.8,1273.5 523.8,1273.9 522.8,1274.3 521.8,1274.8 520.8,1275.2 519.8,1275.6 518.8,1275.9 517.8,1276.2 516.8,1276.5 515.7,1276.8 514.7,1277 513.6,1277.2 512.6,1277.4 511.5,1277.5 510.5,1277.7 509.4,1277.8 508.3,1277.9 507.3,1278.1 506.2,1278.2 505.1,1278.3 504.1,1278.4 503,1278.5 501.9,1278.6 500.9,1278.7 499.8,1278.9 498.7,1279 497.7,1279.2 496.6,1279.4 495.5,1279.6 494.5,1279.9 493.4,1280.1 492.4,1280.4 491.4,1280.8 490.3,1281.1 489.3,1281.6 488.3,1282 487.4,1282.5 486.5,1283 485.8,1283.6 485.3,1284.2 485,1284.8 485,1285.4 485.3,1286.1 486,1286.7 486.9,1287.4 487.9,1288.1 488.7,1289 489.3,1289.9 489.7,1291 489.8,1292.1 489.8,1293.2 489.7,1294.3 489.6,1295.4 489.6,1296.4 489.8,1297.3 490.1,1298 490.7,1298.5 491.4,1298.8 492.4,1299 493.4,1299 494.6,1298.9 495.8,1298.6 497,1298.2 498.2,1297.7 499.3,1297 500.3,1296.3 501.1,1295.5 501.9,1294.6 502.5,1293.7 503.1,1292.9 503.7,1292.2 504.2,1291.7 504.7,1291.3 505.3,1291.2 506,1291.3 506.7,1291.7 507.4,1292.3 508.2,1293 509,1293.9 509.8,1294.9 510.6,1296 511.4,1297.1 512.2,1298.2 513,1299.3 513.7,1300.4 514.4,1301.5 515,1302.5 515.5,1303.5 515.9,1304.4 516.3,1305.3 516.4,1306.1 516.5,1306.8 516.3,1307.5 516,1308.1 515.4,1308.6 514.7,1309 513.8,1309.4 512.8,1309.7 511.7,1310.1 510.6,1310.4 509.4,1310.8 508.3,1311.3 507.2,1311.8 506.2,1312.4 505.3,1313.1 504.5,1314 503.9,1314.9 503.3,1315.8 502.8,1316.6 502.3,1317.3 501.8,1317.9 501.3,1318.2 500.7,1318.3 500,1318.1 499.3,1317.6 498.6,1316.9 497.8,1316 497,1315.1 496.3,1314.2 495.6,1313.2 495,1312.2 494.3,1311.3 493.7,1310.3 493.1,1309.3 492.4,1308.3 491.8,1307.3 491.2,1306.4 490.5,1305.5 489.9,1304.6 489.3,1303.8 488.6,1302.9 487.9,1302.2 487.2,1301.5 486.4,1300.9 485.7,1300.3 484.8,1299.8 484,1299.4 483.1,1299.1 482.1,1298.9 481.1,1298.7 480.1,1298.7 479,1298.8 477.9,1298.9 476.8,1299.2 475.8,1299.6 474.8,1300.1 473.9,1300.6 473.1,1301.2 472.4,1302 471.9,1302.8 471.6,1303.7 471.3,1304.6 471.2,1305.6 471.2,1306.7 471.3,1307.7 471.4,1308.9 471.5,1310 471.6,1311.1 471.6,1312.2 471.6,1313.4 471.5,1314.4 471.3,1315.5 471,1316.5 470.6,1317.5 470.1,1318.4 469.5,1319.3 468.8,1320.2 468,1321.1 467.3,1322 466.4,1322.8 465.6,1323.7 464.8,1324.5 463.9,1325.3 463.1,1326.1 462.3,1326.9 461.5,1327.5 460.7,1328 460,1328.3 459.3,1328.4 458.6,1328.2 458,1327.8 457.5,1327.1 457,1326.1 456.5,1325 456,1323.7 455.5,1322.5 454.9,1321.3 454.2,1320.3 453.4,1319.5 452.4,1319 451.4,1318.8 450.5,1318.8 449.7,1319.1 449.2,1319.5 449,1320.1 448.9,1320.8 449,1321.7 449.3,1322.6 449.7,1323.7 450.2,1324.7 450.8,1325.8 451.4,1326.9 452,1328 452.7,1329 453.3,1330 453.9,1331 454.5,1331.9 455.1,1332.9 455.6,1333.8 456.2,1334.7 456.7,1335.6 457.1,1336.5 457.5,1337.5 457.9,1338.4 458.2,1339.4 458.5,1340.4 458.7,1341.3 459,1342.3 459.2,1343.3 459.5,1344.3 459.7,1345.4 460,1346.4 460.3,1347.4 460.7,1348.3 461.1,1349.3 461.5,1350.3 462,1351.3 462.4,1352.2 462.9,1353.2 463.3,1354.2 463.6,1355.1 464,1356.1 464.2,1357.1 464.3,1358.1 464.4,1359.1 464.4,1360.1 464.2,1361.1 464,1362.1 463.6,1363.1 463.2,1364.1 462.7,1365.1 462.1,1366 461.5,1366.9 460.8,1367.8 460,1368.6 459.2,1369.4 458.3,1370.1 457.4,1370.8 456.4,1371.4 455.4,1371.9 454.4,1372.3 453.4,1372.7 452.3,1372.9 451.2,1373.1 450.1,1373.2 448.9,1373.1 447.8,1372.9 446.7,1372.7 445.6,1372.3 444.5,1371.8 443.4,1371.4 442.5,1371.2 441.7,1371.1 440.9,1371.4 440.4,1372 439.9,1372.9 439.4,1373.8 438.8,1374.8 438.1,1375.7 437.3,1376.6 436.5,1377.4 435.7,1378.2 435,1379 434.5,1379.9 434.1,1380.9 433.8,1382 433.5,1383 433.2,1384 432.9,1385.1 432.6,1386 432.2,1387 431.6,1387.8 430.9,1388.5 430.2,1389.1 429.3,1389.7 428.3,1390.1 427.3,1390.4 426.2,1390.5 425.2,1390.6 424.1,1390.5 423.1,1390.3 422.2,1389.9 421.2,1389.5 420.4,1388.9 419.6,1388.2 418.9,1387.4 418.3,1386.6 417.8,1385.6 417.4,1384.6 417.1,1383.4 417,1382.3 417,1381.1 417,1379.9 417.2,1378.7 417.5,1377.5 417.9,1376.5 418.4,1375.5 419.1,1374.6 419.8,1373.8 420.6,1373.2 421.5,1372.8 422.5,1372.5 423.5,1372.3 424.5,1372.2 425.4,1372 426.3,1371.7 427.1,1371.3 427.7,1370.7 428.2,1369.9 428.6,1369.1 429,1368.1 429.3,1367 429.5,1365.9 429.7,1364.7 430,1363.6 430.2,1362.4 430.5,1361.3 430.9,1360.2 431.2,1359.2 431.7,1358.3 432.1,1357.3 432.6,1356.4 433.1,1355.5 433.6,1354.7 434.1,1353.8 434.6,1352.9 435.1,1352 435.6,1351.1 436.1,1350.3 436.6,1349.4 437.2,1348.6 437.7,1347.7 438.3,1346.9 439,1346.1 439.6,1345.3 440.4,1344.5 441.1,1343.8 442,1343.1 442.8,1342.5 443.8,1341.8 444.8,1341.2 445.9,1340.7 447.1,1340.2 448.2,1339.7 449.4,1339.2 450.4,1338.7 451.4,1338.2 452.2,1337.6 452.7,1337 453.1,1336.4 453.1,1335.6 452.9,1334.8 452.5,1334 451.9,1333.3 451.1,1332.6 450.3,1332 449.3,1331.6 448.3,1331.4 447.3,1331.4 446.3,1331.6 445.3,1332.1 444.3,1332.7 443.4,1333.3 442.4,1334 441.5,1334.7 440.6,1335.2 439.6,1335.5 438.7,1335.7 437.7,1335.5 436.7,1335 435.8,1334.1 434.9,1333.1 434.1,1332 433.5,1330.8 433.1,1329.7 432.8,1328.5 432.7,1327.5 432.7,1326.4 432.7,1325.4 432.8,1324.4 432.9,1323.5 433.1,1322.6 433.1,1321.7 433.1,1320.9 433,1320.2 432.8,1319.7 432.3,1319.4 431.7,1319.4 431,1319.6 430,1320 429,1320.5 428,1321.1 426.8,1321.8 425.7,1322.4 424.6,1322.9 423.5,1323.4 422.5,1323.7 421.5,1323.8 420.7,1323.6 420,1323.2 419.5,1322.6 419.1,1321.7 418.7,1320.7 418.4,1319.6 418.1,1318.4 417.8,1317.2 417.5,1316 417.2,1314.8 416.8,1313.8 416.3,1312.8 415.8,1311.9 415.3,1311.1 414.7,1310.2 414.2,1309.5 413.7,1308.7 413.3,1307.8 412.9,1307 412.6,1306 412.5,1305.1 412.4,1304 412.4,1302.9 412.4,1301.8 412.5,1300.6 412.6,1299.4 412.7,1298.2 412.8,1297 412.8,1295.9 412.9,1294.7 412.9,1293.6 412.8,1292.5 412.7,1291.5 412.5,1290.5 412.3,1289.5 412,1288.5 411.8,1287.6 411.5,1286.6 411.2,1285.7 410.9,1284.7 410.6,1283.7 410.5,1282.9 410.7,1282.1 411.3,1281.6 412.2,1281.3 413.3,1281 414.5,1280.8 415.8,1280.6 417,1280.3 418.1,1279.9 419,1279.3 419.8,1278.6 420.5,1277.8 421,1276.9 421.3,1276 421.4,1274.9 421.4,1273.9 421.2,1272.8 421.1,1271.8 421.1,1270.8 421.4,1270.1 422.1,1269.5 423.1,1269.1 424.1,1268.7 425.2,1268.3 426.2,1267.7 426.9,1267.1 427.5,1266.3 427.9,1265.4 428.1,1264.5 428.2,1263.5 428.2,1262.4 428.1,1261.3 427.9,1260.2 427.6,1259.1 427.2,1258 426.8,1257 426.2,1256 425.7,1255 425,1254 424.3,1253.1 423.6,1252.2 422.8,1251.5 422,1250.7 421.1,1250.1 420.2,1249.5 419.2,1249 418.2,1248.6 417.2,1248.2 416.1,1248 415.1,1247.7 414,1247.5 413,1247.4 411.9,1247.2 410.8,1247.1 409.8,1246.9 408.7,1246.7 407.7,1246.5 406.7,1246.3 405.7,1246 404.8,1245.6 403.9,1245.2 403,1244.7 402.2,1244.1 401.4,1243.4 400.7,1242.7 399.9,1241.9 399.2,1241.1 398.5,1240.3 397.8,1239.5 397,1238.7 396.3,1237.9 395.5,1237.1 394.6,1236.4 393.8,1235.8 392.9,1235.1 391.9,1234.5 391,1234 390,1233.4 389.1,1232.9 388.1,1232.4 387.2,1231.9 386.2,1231.4 385.3,1230.9 384.4,1230.3 383.5,1229.8 382.5,1229.3 381.6,1228.9 380.7,1228.4 379.8,1228 378.9,1227.6 377.9,1227.3 376.9,1227 375.9,1226.8 374.9,1226.6 373.8,1226.5 372.7,1226.5 371.6,1226.6 370.4,1226.7 369.2,1226.9 368,1227 366.9,1227 365.8,1226.9 364.9,1226.5 364.1,1225.9 363.4,1225 362.8,1224 362.2,1223 361.6,1222.2 360.8,1221.7 359.9,1221.6 358.9,1221.6 357.9,1221.8 356.8,1222.1 355.8,1222.4 354.7,1222.7 353.7,1223 352.7,1223.3 351.7,1223.5 350.7,1223.7 349.8,1223.9 348.8,1224.1 347.7,1224.3 346.7,1224.4 345.7,1224.5 344.7,1224.5 343.7,1224.5 342.6,1224.5 341.6,1224.5 340.5,1224.5 339.5,1224.4 338.4,1224.3 337.4,1224.3 336.3,1224.1 335.2,1224 334.1,1223.9 333.1,1223.7 332,1223.6 330.9,1223.4 329.8,1223.2 328.7,1223 327.7,1222.9 326.6,1222.7 325.5,1222.5 324.4,1222.3 323.3,1222.1 322.2,1221.9 321.2,1221.7 320.1,1221.6 319,1221.4 317.9,1221.2 316.8,1221.1 315.8,1220.9 314.7,1220.7 313.6,1220.5 312.6,1220.3 311.5,1220.1 310.5,1219.9 309.4,1219.6 308.4,1219.4 307.4,1219.1 306.4,1218.8 305.4,1218.4 304.4,1218.1 303.4,1217.7 302.5,1217.3 301.5,1216.8 300.6,1216.3 299.6,1215.8 298.7,1215.2 297.8,1214.6 297,1213.9 296.1,1213.2 295.2,1212.4 294.4,1211.7 293.5,1210.9 292.7,1210.2 291.8,1209.6 291,1209 290.1,1208.5 289.2,1208.1 288.3,1207.9 287.3,1207.8 286.3,1207.8 285.3,1208 284.2,1208.3 283.2,1208.7 282.1,1209 281.1,1209.3 280,1209.4 279.1,1209.5 278.1,1209.3 277.2,1208.8 276.4,1208.1 275.7,1207.2 275.1,1206.1 274.7,1205 274.6,1203.9 274.7,1203 275.1,1202.4 275.7,1201.9 276.6,1201.7 277.7,1201.6 278.9,1201.5 280.1,1201.5 281.4,1201.5 282.7,1201.4 283.9,1201.2 284.9,1200.9 285.8,1200.3 286.6,1199.7 287.3,1198.9 287.9,1198.1 288.5,1197.2 289.1,1196.4 289.7,1195.6 290.5,1195 291.3,1194.5 292.3,1194.2 293.5,1194.1 294.7,1194.1 296.1,1194.3 297.4,1194.5 298.7,1194.7 299.9,1194.8 301,1194.7 301.8,1194.5 302.4,1193.9 302.7,1193.1 302.8,1192.1 302.8,1190.9 302.8,1189.7 302.8,1188.6 303.1,1187.6 303.6,1186.8 304.3,1186.3 305.2,1185.9 306.3,1185.7 307.4,1185.4 308.6,1185.2 309.8,1184.8 310.9,1184.5 312,1184.1 313.1,1183.6 314.2,1183.2 315.2,1182.8 316.3,1182.4 317.3,1182.1 318.3,1181.9 319.3,1181.9 320.3,1181.9 321.3,1182 322.2,1182.3 323.2,1182.7 324.1,1183.1 325,1183.7 325.9,1184.3 326.8,1185 327.6,1185.8 328.5,1186.6 329.2,1187.5 330,1188.4 330.8,1189.3 331.5,1190.2 332.2,1191.2 332.9,1192 333.6,1192.8 334.4,1193.5 335.2,1194 336,1194.3 336.9,1194.5 337.9,1194.4 338.9,1194.2 339.9,1193.8 341,1193.4 342,1192.9 343.1,1192.3 344.1,1191.7 345.1,1191.2 346.2,1190.6 347.2,1190.1 348.2,1189.6 349.2,1189.1 350.1,1188.6 351.1,1188.2 352.1,1187.9 353.1,1187.6 354,1187.3 355,1187.1 356,1187 357,1186.9 358,1186.9 359,1187 360.1,1187 361.1,1187.1 362.3,1187.1 363.5,1187.1 364.7,1187 366,1186.9 367.2,1186.8 368.4,1186.7 369.6,1186.7 370.6,1186.9 371.6,1187.2 372.3,1187.7 372.9,1188.4 373.4,1189.4 373.6,1190.4 373.6,1191.6 373.4,1192.7 373,1193.6 372.4,1194.4 371.6,1195 370.6,1195.4 369.6,1195.7 368.4,1196.1 367.3,1196.4 366.1,1196.8 365,1197.3 363.9,1198 363,1198.9 362.2,1199.8 361.6,1200.7 361.2,1201.7 361,1202.6 361.2,1203.3 361.6,1204 362.3,1204.5 363.2,1204.9 364.2,1205.2 365.4,1205.3 366.7,1205.3 367.9,1205.2 369.2,1205 370.4,1204.6 371.5,1204.1 372.4,1203.6 373.3,1202.9 374,1202.3 374.7,1201.9 375.3,1201.7 376.1,1201.9 376.8,1202.2 377.7,1202.7 378.6,1203.3 379.5,1203.9 380.6,1204.3 381.8,1204.7 383,1204.9 384.3,1205 385.6,1205.1 386.8,1205.1 388,1205.1 389,1205.1 390,1205.1 390.8,1205.2 391.4,1205.4 391.7,1205.7 391.9,1206.2 391.7,1206.7 391.3,1207.5 390.7,1208.3 390,1209.3 389.3,1210.3 388.6,1211.3 387.9,1212.4 387.5,1213.4 387.2,1214.4 387.3,1215.4 387.6,1216.2 388.3,1217 389.1,1217.6 390.2,1218.2 391.3,1218.6 392.6,1219 394,1219.2 395.3,1219.3 396.6,1219.3 397.9,1219.1 399,1218.8 400,1218.3 400.8,1217.7 401.4,1217 401.9,1216.2 402.2,1215.3 402.5,1214.2 402.6,1213.1 402.7,1212 402.8,1210.8 402.9,1209.5 402.9,1208.3 403,1207.1 403.1,1205.8 403.2,1204.6 403.3,1203.4 403.3,1202.3 403.3,1201.1 403.3,1200 403.2,1199 402.9,1198 402.6,1197.1 402.2,1196.2 401.6,1195.4 400.8,1194.7 400,1194 399.1,1193.3 398.1,1192.6 397.2,1192 396.4,1191.2 395.6,1190.4 395,1189.6 394.6,1188.6 394.3,1187.5 394.3,1186.3 394.4,1185.1 394.8,1184 395.2,1183 395.9,1182.2 396.6,1181.6 397.4,1181.3 398.4,1181.1 399.4,1181 400.6,1181.1 401.8,1181.2 403,1181.4 404.4,1181.6 405.7,1181.7 407.1,1181.8 408.5,1181.9 409.9,1181.9 411.2,1181.9 412.4,1181.9 413.4,1181.8 414.4,1181.7 415.1,1181.5 415.7,1181.2 416,1180.9 416.1,1180.6 415.9,1180.1 415.4,1179.6 414.6,1179.1 413.6,1178.5 412.6,1177.8 411.5,1177.1 410.6,1176.4 409.8,1175.6 409.4,1174.8 409.3,1173.9 409.5,1173 409.9,1172.1 410.4,1171.1 411,1170.1 411.5,1169 411.8,1167.9 412.1,1166.7 412.1,1165.6 412,1164.5 411.6,1163.6 411,1162.9 410.2,1162.3 409.2,1161.9 408.2,1161.5 407.2,1161.2 406.2,1160.9 405.5,1160.5 404.9,1160 404.7,1159.4 404.7,1158.7 404.9,1157.9 405.3,1157 405.9,1156 406.5,1155 407.2,1154 407.9,1152.9 408.6,1151.8 409.3,1150.8 409.9,1149.7 410.5,1148.7 411.2,1147.8 411.8,1146.9 412.4,1146.1 413.1,1145.5 413.8,1145 414.6,1144.6 415.4,1144.3 416.3,1144.3 417.3,1144.4 418.4,1144.7 419.5,1145 420.6,1145.5 421.8,1146 423,1146.6 424.2,1147.2 425.4,1147.8 426.6,1148.3 427.7,1148.8 428.8,1149.1 429.9,1149.4 430.9,1149.5 431.8,1149.5 432.7,1149.3 433.4,1148.8 434,1148.1 434.6,1147.3 435.2,1146.5 435.8,1145.6 436.5,1144.9 437.3,1144.3 438.2,1143.9 439.4,1143.8 440.6,1144 441.8,1144.4 442.9,1145 443.8,1145.7 444.4,1146.5 444.6,1147.2 444.5,1148.1 444.2,1148.9 443.6,1149.7 442.9,1150.5 442.2,1151.4 441.4,1152.2 440.6,1153 439.8,1153.9 439,1154.7 438.3,1155.5 437.5,1156.4 436.8,1157.2 436.1,1158.1 435.4,1158.9 434.8,1159.8 434.2,1160.6 433.7,1161.5 433.3,1162.4 432.9,1163.3 432.6,1164.2 432.4,1165.1 432.3,1166.1 432.2,1167 432.3,1168 432.5,1169 432.7,1170 433,1171 433.3,1172.1 433.7,1173.1 434.1,1174.2 434.6,1175.3 435,1176.4 435.4,1177.5 435.8,1178.6 436.2,1179.7 436.5,1180.9 436.8,1182 437.1,1183.2 437.2,1184.4 437.4,1185.5 437.5,1186.6 437.7,1187.6 437.8,1188.5 438.1,1189.3 438.4,1189.9 438.9,1190.3 439.5,1190.5 440.2,1190.5 441.1,1190.3 442.1,1189.9 443.1,1189.4 444.3,1188.7 445.4,1188 446.6,1187.2 447.6,1186.4 448.7,1185.6 449.6,1184.8 450.5,1184.1 451.4,1183.3 452.1,1182.6 452.9,1181.9 453.6,1181.2 454.4,1180.5 455.1,1179.9 455.8,1179.2 456.5,1178.5 457.2,1177.7 458,1177 458.8,1176.3 459.6,1175.6 460.4,1174.9 461.2,1174.2 462.1,1173.5 463,1172.9 463.9,1172.2 464.8,1171.6 465.8,1171.1 466.8,1170.5 467.8,1170.1 468.8,1169.6 469.8,1169.2 470.8,1168.7 471.9,1168.3 472.8,1167.8 473.8,1167.2 474.7,1166.6 475.5,1165.9 476.3,1165.1 477,1164.1 477.5,1163.1 478,1161.9 478.3,1160.8 478.3,1159.8 478.1,1158.9 477.5,1158.3 476.7,1157.9 475.7,1157.6 474.6,1157.4 473.4,1157.2 472.2,1157 471,1156.8 469.8,1156.4 468.6,1156.1 467.5,1155.6 466.6,1155.1 465.7,1154.6 464.9,1154 464.3,1153.3 463.8,1152.6 463.5,1151.8 463.4,1150.9 463.6,1150 463.9,1149 464.4,1148.1 465.1,1147.1 466,1146.3 467,1145.5 468,1144.8 469.2,1144.2 470.3,1143.7 471.5,1143.2 472.6,1142.7 473.7,1142.3 474.6,1141.8 475.4,1141.4 476.1,1140.8 476.6,1140.3 476.8,1139.6 476.8,1138.9 476.5,1138.1 476,1137.2 475.2,1136.4 474.3,1135.7 473.2,1135.2 472,1135 470.8,1135.1 469.6,1135.4 468.3,1135.8 467.1,1136.2 466,1136.5 464.9,1136.6 464,1136.4 463.2,1135.9 462.6,1135.2 462.2,1134.4 462,1133.5 461.9,1132.6 462.2,1131.7 462.6,1130.9 463.4,1130.2 464.4,1129.7 465.5,1129.3 466.7,1128.9 467.9,1128.5 469.1,1128 470.2,1127.5 471,1126.8 471.7,1126 472.2,1125.1 472.5,1124 472.8,1122.9 472.9,1121.8 473,1120.6 473.1,1119.4 473.2,1118.3 473.4,1117.1 473.6,1116.1 473.9,1115.1 474.4,1114.3 474.9,1113.6 475.7,1113 476.6,1112.5 477.5,1112.1 478.6,1111.7 479.7,1111.4 480.8,1111.1 481.9,1110.8 483.1,1110.5 484.2,1110.2 485.2,1109.7 486.2,1109.3 487.1,1108.7 487.9,1108 488.5,1107.1 489,1106.2 489.3,1105.2 489.4,1104.1 489.4,1103.1 489.1,1102 488.7,1100.9 488.1,1099.9 487.4,1098.9 486.7,1098 486,1097 485.5,1096 485.2,1095.1 485.2,1094.1 485.5,1093.1 485.9,1092.2 486.6,1091.3 487.4,1090.6 488.2,1090Z" fill="#e3e3e3" stroke="none"/>
<path d="M448.5,1196.1 449.3,1194.9 450.1,1193.7 450.9,1192.6 451.7,1191.5 452.6,1190.4 453.5,1189.3 454.4,1188.3 455.4,1187.2 456.3,1186.2 457.3,1185.2 458.3,1184.2 459.3,1183.3 460.4,1182.3 461.5,1181.4 462.6,1180.5 463.7,1179.5 464.8,1178.6 466,1177.7 467.2,1176.8 468.4,1175.9 469.6,1175.1 470.8,1174.2 472.1,1173.3 473.4,1172.4 474.7,1171.5 476,1170.7 477.3,1169.8 478.6,1169 479.9,1168.4 481.1,1167.9 482.2,1167.7 483.3,1167.7 484.2,1168 485,1168.7 485.6,1169.6 486.2,1170.8 486.8,1172.2 487.5,1173.6 488.2,1174.9 489.1,1176.2 490,1177.4 491.1,1178.6 492.2,1179.7 493.2,1180.8 494.3,1181.8 495.3,1182.9 496.2,1183.9 497,1185 497.7,1186.2 498.2,1187.3 498.5,1188.6 498.5,1189.9 498.4,1191.3 498.2,1192.7 497.9,1194.2 497.7,1195.6 497.5,1197.1 497.4,1198.6 497.4,1200.1 497.5,1201.6 497.7,1203.1 498,1204.5 498.3,1205.9 498.8,1207.3 499.4,1208.6 500,1209.9 500.7,1211.2 501.5,1212.4 502.4,1213.5 503.3,1214.5 504.3,1215.5 505.4,1216.4 506.5,1217.3 507.7,1218 509,1218.6 510.3,1219.2 511.6,1219.6 513,1219.9 514.5,1220.2 516,1220.3 517.5,1220.4 519,1220.4 520.5,1220.5 522,1220.6 523.4,1220.7 524.8,1221 526.1,1221.3 527.4,1221.8 528.6,1222.4 529.7,1223.1 530.9,1223.9 532.1,1224.7 533.3,1225.5 534.5,1226.3 535.8,1227.1 537.1,1227.8 538.5,1228.5 539.9,1229.2 541.3,1229.9 542.7,1230.5 544.1,1231.2 545.4,1231.8 546.7,1232.5 547.8,1233.2 548.9,1233.9 549.8,1234.7 550.7,1235.5 551.5,1236.4 552.1,1237.4 552.7,1238.4 553.1,1239.5 553.4,1240.8 553.5,1242.1 553.6,1243.5 553.4,1245.1 553.2,1246.7 552.9,1248.3 552.4,1250 551.9,1251.6 551.3,1253.2 550.6,1254.7 549.9,1256.1 549.1,1257.4 548.3,1258.6 547.4,1259.7 546.5,1260.8 545.5,1261.8 544.5,1262.6 543.4,1263.4 542.3,1264.1 541.1,1264.8 539.9,1265.3 538.7,1265.8 537.5,1266.2 536.2,1266.6 534.9,1266.8 533.5,1267 532.2,1267.2 530.8,1267.2 529.4,1267.2 528,1267.1 526.6,1267 525.2,1266.8 523.8,1266.5 522.4,1266.2 520.9,1265.8 519.5,1265.4 518.1,1264.9 516.7,1264.4 515.2,1263.8 513.8,1263.3 512.5,1262.7 511.1,1262.3 509.7,1262 508.4,1261.8 507.2,1261.8 505.9,1262 504.7,1262.5 503.5,1263.3 502.4,1264.4 501.3,1265.6 500.2,1266.9 499.2,1268.1 498,1269.2 496.9,1270 495.8,1270.7 494.6,1271.3 493.4,1271.9 492.2,1272.4 491,1273 489.8,1273.5 488.6,1274.1 487.4,1274.8 486.2,1275.6 485,1276.4 483.9,1277.2 482.7,1278.1 481.6,1279 480.5,1279.9 479.5,1280.9 478.5,1281.9 477.4,1282.9 476.4,1283.9 475.4,1284.9 474.5,1286 473.5,1287 472.5,1288.1 471.6,1289.1 470.6,1290.1 469.6,1291.2 468.6,1292.2 467.7,1293.2 466.7,1294.2 465.7,1295.2 464.6,1296.1 463.6,1297 462.5,1297.9 461.4,1298.7 460.3,1299.4 459.2,1299.9 458,1300.3 456.7,1300.6 455.5,1300.6 454.1,1300.4 452.7,1299.9 451.3,1299.2 450,1298.3 448.9,1297.2 448,1296 447.6,1294.8 447.6,1293.5 447.8,1292.2 448.3,1290.9 448.7,1289.6 449.1,1288.2 449.4,1286.8 449.5,1285.4 449.6,1283.9 449.5,1282.5 449.3,1281.1 448.9,1279.7 448.5,1278.3 447.8,1277 447.2,1275.7 446.5,1274.4 446,1273.2 445.6,1271.9 445.6,1270.5 445.7,1269.2 446,1267.8 446.4,1266.4 446.8,1265 447.2,1263.6 447.5,1262.2 447.6,1260.8 447.6,1259.4 447.5,1258 447.3,1256.6 447,1255.2 446.6,1253.8 446.2,1252.4 445.8,1251 445.5,1249.5 445.1,1248.1 444.8,1246.7 444.6,1245.3 444.3,1243.8 444.1,1242.4 444,1241 443.9,1239.5 443.9,1238.1 444,1236.6 444.1,1235.2 444.3,1233.8 444.7,1232.5 445.1,1231.1 445.7,1229.8 446.5,1228.6 447.3,1227.4 448,1226.1 448.6,1224.9 449,1223.6 449.2,1222.3 449.2,1221 449,1219.6 448.7,1218.2 448.3,1216.8 447.8,1215.3 447.3,1213.9 446.8,1212.4 446.3,1210.9 445.8,1209.5 445.5,1208.1 445.2,1206.6 445.2,1205.2 445.3,1203.8 445.5,1202.5 445.9,1201.1 446.5,1199.8 447.1,1198.6 447.8,1197.3Z" fill="#cfcfcf"/>
<path d="M455,1205.3 455.2,1203.8 455.5,1202.3 456,1200.8 456.5,1199.4 457.2,1198 457.9,1196.7 458.7,1195.3 459.6,1194 460.5,1192.8 461.5,1191.5 462.6,1190.3 463.7,1189.1 464.9,1188 466.1,1186.8 467.3,1185.7 468.5,1184.6 469.7,1183.5 471,1182.5 472.3,1181.5 473.6,1180.7 475,1179.9 476.4,1179.4 477.9,1179 479.5,1178.8 481.1,1178.8 482.7,1179 484.3,1179.3 485.8,1179.8 487.3,1180.5 488.6,1181.3 489.9,1182.2 490.9,1183.3 491.8,1184.6 492.5,1185.9 493,1187.4 493.4,1188.9 493.6,1190.6 493.7,1192.3 493.7,1194 493.7,1195.7 493.7,1197.5 493.7,1199.2 493.8,1200.9 493.9,1202.6 494.2,1204.1 494.6,1205.6 495.1,1207.1 495.7,1208.4 496.4,1209.7 497.3,1210.9 498.2,1212 499.2,1213.1 500.3,1214.1 501.4,1215 502.7,1215.8 504,1216.6 505.4,1217.4 506.8,1218 508.2,1218.6 509.8,1219.2 511.3,1219.7 512.9,1220.2 514.5,1220.6 516.1,1221 517.7,1221.4 519.3,1221.8 521,1222.2 522.6,1222.6 524.2,1223 525.8,1223.4 527.4,1223.9 528.9,1224.4 530.4,1225 531.9,1225.6 533.3,1226.3 534.6,1227 535.9,1227.9 537.1,1228.8 538.3,1229.8 539.4,1230.9 540.4,1232.2 541.3,1233.5 542.1,1234.9 542.8,1236.4 543.5,1237.9 544,1239.5 544.4,1241.2 544.8,1242.8 545.1,1244.5 545.2,1246.1 545.3,1247.8 545.2,1249.4 545,1251 544.8,1252.5 544.4,1254 543.9,1255.4 543.3,1256.8 542.5,1258 541.7,1259.1 540.7,1260.1 539.6,1261 538.4,1261.8 537.1,1262.4 535.6,1262.8 534,1263.1 532.4,1263.2 530.7,1263.2 529,1263 527.3,1262.6 525.7,1262.2 524.1,1261.6 522.6,1260.8 521.3,1260 520,1259 518.8,1258.1 517.6,1257.2 516.3,1256.3 514.9,1255.6 513.4,1255.1 511.8,1254.7 510.1,1254.5 508.5,1254.4 506.8,1254.5 505.2,1254.7 503.6,1255.2 502,1255.8 500.6,1256.6 499.3,1257.5 498.1,1258.6 496.9,1259.7 495.7,1260.8 494.6,1261.9 493.5,1262.8 492.3,1263.5 491.1,1264 489.8,1264.2 488.4,1264.1 487,1264 485.6,1263.8 484.1,1263.6 482.5,1263.6 481,1263.8 479.5,1264.1 478,1264.6 476.6,1265.3 475.3,1266.2 474,1267.2 472.8,1268.4 471.7,1269.7 470.6,1271.1 469.6,1272.5 468.5,1274 467.5,1275.4 466.5,1276.8 465.5,1278.2 464.4,1279.4 463.4,1280.4 462.2,1281.3 461.1,1282 460,1282.3 459,1282.1 458,1281.4 457.2,1280.4 456.5,1279.1 456,1277.6 455.6,1276 455.4,1274.4 455.4,1272.8 455.5,1271.1 455.6,1269.4 455.7,1267.7 455.9,1266.1 456,1264.4 456,1262.7 456,1261.1 456,1259.5 455.9,1257.9 455.9,1256.3 455.8,1254.7 455.7,1253.1 455.5,1251.5 455.4,1250 455.3,1248.4 455.2,1246.8 455.1,1245.3 455,1243.7 454.9,1242.2 454.9,1240.6 454.9,1239.1 454.9,1237.5 455,1235.9 455.1,1234.4 455.3,1232.8 455.5,1231.2 455.6,1229.6 455.8,1228 456,1226.4 456.1,1224.8 456.2,1223.2 456.2,1221.6 456.1,1219.9 456,1218.3 455.8,1216.6 455.6,1215 455.4,1213.3 455.2,1211.7 455,1210 454.9,1208.4 454.9,1206.8Z" fill="#b6b6b6"/>
<path d="M462.5,1219.5 463,1218.3 463.4,1217.1 463.8,1215.9 464.1,1214.6 464.5,1213.4 464.8,1212.2 465.2,1210.9 465.6,1209.7 466,1208.6 466.5,1207.4 467.1,1206.4 467.8,1205.3 468.5,1204.4 469.4,1203.4 470.4,1202.6 471.5,1201.9 472.6,1201.2 473.8,1200.7 475,1200.2 476.3,1199.9 477.5,1199.8 478.6,1199.7 479.8,1199.9 480.8,1200.1 481.8,1200.6 482.7,1201.2 483.4,1202 484,1203 484.6,1204.1 485,1205.3 485.5,1206.6 485.8,1207.9 486.1,1209.3 486.5,1210.7 486.8,1212.1 487.1,1213.4 487.4,1214.7 487.8,1216 488.2,1217.1 488.6,1218.3 489,1219.4 489.5,1220.4 490.1,1221.5 490.6,1222.5 491.2,1223.5 491.9,1224.4 492.6,1225.4 493.3,1226.4 494.1,1227.4 495,1228.4 495.9,1229.3 496.8,1230.2 497.8,1231.1 498.8,1231.9 499.8,1232.6 500.9,1233.3 502,1233.8 503.1,1234.3 504.2,1234.6 505.4,1234.9 506.5,1235 507.7,1235 508.9,1234.9 510.1,1234.8 511.3,1234.7 512.5,1234.6 513.7,1234.5 514.8,1234.5 516,1234.5 517.1,1234.7 518.3,1234.9 519.4,1235.3 520.5,1235.7 521.6,1236.2 522.6,1236.8 523.6,1237.5 524.6,1238.3 525.6,1239.1 526.6,1240 527.5,1240.9 528.4,1241.9 529.3,1242.9 530.1,1244 531,1245.1 531.7,1246.3 532.5,1247.4 533.2,1248.7 533.9,1249.9 534.5,1251.1 535,1252.3 535.3,1253.5 535.5,1254.7 535.4,1255.8 535.1,1256.7 534.6,1257.5 533.9,1257.9 533.1,1258 532.1,1257.7 531.2,1257.1 530.1,1256.3 529.1,1255.3 528,1254.4 526.9,1253.6 525.8,1252.8 524.7,1252.1 523.7,1251.5 522.6,1250.9 521.5,1250.4 520.4,1250 519.3,1249.6 518.2,1249.2 517,1249 515.9,1248.7 514.8,1248.5 513.6,1248.4 512.5,1248.3 511.4,1248.3 510.2,1248.3 509,1248.4 507.9,1248.4 506.7,1248.6 505.5,1248.7 504.3,1248.9 503.1,1249.2 501.8,1249.4 500.6,1249.7 499.4,1250 498.1,1250.3 496.9,1250.7 495.6,1251.1 494.3,1251.4 493.1,1251.8 491.8,1252.2 490.5,1252.6 489.2,1252.9 488,1253.3 486.7,1253.7 485.4,1254 484.2,1254.3 482.9,1254.6 481.7,1254.9 480.4,1255.1 479.2,1255.3 478,1255.5 476.8,1255.6 475.6,1255.6 474.4,1255.7 473.2,1255.6 472,1255.5 470.9,1255.4 469.8,1255.2 468.7,1254.9 467.6,1254.5 466.5,1254.1 465.5,1253.6 464.5,1253 463.5,1252.3 462.5,1251.5 461.6,1250.6 460.7,1249.7 459.9,1248.7 459.1,1247.6 458.3,1246.5 457.6,1245.3 457,1244.1 456.5,1242.8 456,1241.6 455.7,1240.3 455.4,1239 455.2,1237.8 455.2,1236.5 455.2,1235.3 455.4,1234.1 455.7,1233 456.1,1231.8 456.5,1230.7 457,1229.6 457.6,1228.5 458.2,1227.4 458.9,1226.3 459.5,1225.2 460.2,1224.1 460.8,1223 461.4,1221.9 462,1220.7Z" fill="#9a9a9a"/>
<path d="M469.2,1220 470.2,1219.3 471.3,1218.8 472.3,1218.5 473.4,1218.4 474.5,1218.4 475.6,1218.6 476.7,1219 477.8,1219.4 478.9,1220 480.1,1220.7 481.3,1221.4 482.4,1222.2 483.6,1223.1 484.8,1224 486,1225 487.2,1225.9 488.5,1226.9 489.7,1227.9 490.9,1228.9 492.2,1229.8 493.4,1230.7 494.7,1231.5 495.9,1232.3 497.1,1233 498.3,1233.8 499.3,1234.7 500.2,1235.6 501,1236.7 501.5,1237.9 501.9,1239.1 502,1240.3 501.8,1241.4 501.3,1242.4 500.6,1243.2 499.5,1243.9 498.4,1244.4 497,1245 495.6,1245.4 494.2,1245.9 492.8,1246.4 491.3,1246.9 489.9,1247.3 488.4,1247.8 487,1248.2 485.5,1248.6 484,1249 482.6,1249.4 481.1,1249.7 479.7,1249.9 478.3,1250.2 476.9,1250.3 475.5,1250.4 474.1,1250.4 472.7,1250.4 471.4,1250.3 470,1250.1 468.8,1249.8 467.5,1249.4 466.2,1249 465,1248.4 463.9,1247.7 462.7,1246.9 461.6,1246 460.6,1245 459.6,1243.9 458.7,1242.7 458.1,1241.4 457.6,1240.2 457.4,1238.9 457.5,1237.7 457.8,1236.4 458.3,1235.1 458.9,1233.9 459.7,1232.6 460.5,1231.3 461.5,1230 462.4,1228.6 463.4,1227.2 464.3,1225.8 465.3,1224.4 466.3,1223.1 467.2,1221.9 468.2,1220.9Z" fill="#707070"/>
<path d="M447.6,948.2 446.9,948.3 446.4,948.9 446,949.6 445.7,950.7 445.4,951.9 445.3,953.3 445.2,954.7 445.3,956.3 445.4,957.8 445.6,959.3 446,960.7 446.4,962 446.8,963.2 447.2,964.3 447.4,965.4 447.4,966.3 447.3,967.2 446.9,968.1 446.4,968.9 445.8,969.7 445.1,970.5 444.2,971.3 443.3,972.1 442.3,972.9 441.3,973.7 440.3,974.6 439.2,975.5 438.2,976.4 437.2,977.4 436.3,978.5 435.4,979.7 434.7,980.9 434,982.1 433.3,983.3 432.8,984.6 432.4,985.8 432.1,987 431.9,988.2 431.9,989.3 431.9,990.3 432.1,991.2 432.5,992.1 433,992.8 433.7,993.4 434.5,993.8 435.4,994.2 436.4,994.6 437.5,995 438.7,995.4 439.9,995.9 441.1,996.4 442.3,997 443.4,997.7 444.5,998.4 445.4,999.3 446.2,1000.1 446.9,1001.1 447.4,1002.1 447.6,1003.1 447.6,1004.2 447.4,1005.4 446.8,1006.6 446.1,1007.8 445.4,1009 444.7,1010.2 444.3,1011.2 444.3,1012.1 444.6,1012.9 445.3,1013.6 446.2,1014.2 447.3,1014.7 448.6,1015.3 449.9,1015.8 451.1,1016.4 452.3,1017.1 453.2,1017.9 453.9,1018.8 454.4,1019.9 454.8,1021 455,1022.2 455.3,1023.4 455.6,1024.4 456.1,1025.4 456.8,1026.3 457.6,1027 458.7,1027.5 459.8,1028 461.1,1028.2 462.4,1028.3 463.8,1028.3 465.2,1028.2 466.5,1027.9 467.8,1027.5 469.1,1026.9 470.2,1026.2 471.2,1025.4 472,1024.5 472.7,1023.4 473.3,1022.4 473.9,1021.4 474.6,1020.6 475.4,1019.9 476.3,1019.3 477.3,1019 478.4,1018.7 479.6,1018.6 480.8,1018.6 482.1,1018.6 483.4,1018.7 484.8,1018.8 486.1,1018.9 487.4,1019 488.7,1019 489.9,1019 491.1,1018.8 492.3,1018.7 493.4,1018.5 494.6,1018.3 495.7,1018.1 496.9,1018 498.2,1018.1 499.5,1018.3 501,1018.6 502.4,1019 503.7,1019.3 505,1019.6 506.1,1019.8 507,1019.7 507.6,1019.4 508,1018.7 508,1017.8 507.9,1016.7 507.5,1015.4 507,1014 506.4,1012.6 505.7,1011.1 504.9,1009.7 504.1,1008.3 503.4,1007 502.7,1005.8 502.2,1004.7 502,1003.7 502,1002.9 502.3,1002.2 502.9,1001.6 503.8,1001.2 504.9,1000.8 506.2,1000.5 507.6,1000.2 509.1,999.9 510.6,999.6 512,999.3 513.4,998.8 514.7,998.3 515.8,997.6 516.8,996.9 517.6,996.1 518.2,995.2 518.6,994.2 518.8,993.1 518.9,992 518.8,990.8 518.7,989.5 518.6,988.2 518.6,986.9 518.6,985.6 518.8,984.3 519,983 519.3,981.7 519.6,980.4 519.8,979.1 520,977.9 520,976.7 519.9,975.5 519.5,974.4 519,973.3 518.2,972.3 517.4,971.5 516.5,970.9 515.5,970.6 514.6,970.6 513.6,970.8 512.7,971.3 511.8,971.9 510.8,972.7 509.9,973.6 509,974.6 508.1,975.7 507.2,976.8 506.3,977.8 505.4,978.8 504.5,979.8 503.7,980.6 502.8,981.4 501.9,982.1 501,982.8 500,983.4 499.1,984.1 498,984.8 496.9,985.4 495.9,985.9 494.8,986.4 493.7,986.7 492.6,986.9 491.6,986.9 490.6,986.6 489.8,986.1 489,985.3 488.3,984.1 487.8,982.8 487.6,981.5 487.7,980.3 488.2,979.3 489.1,978.7 490.2,978.2 491.5,977.9 492.8,977.6 494,977.2 494.9,976.6 495.4,975.7 495.7,974.7 495.6,973.6 495.3,972.4 494.8,971.2 494,970.1 493.1,969.1 492.1,968.4 490.9,967.8 489.7,967.3 488.5,967 487.2,966.8 486,966.7 484.7,966.7 483.5,966.8 482.2,966.9 480.9,967.1 479.7,967.4 478.4,967.7 477.2,968 475.9,968.4 474.7,968.7 473.5,969.1 472.3,969.4 471.1,969.7 470,969.9 468.8,970.1 467.7,970.3 466.6,970.3 465.6,970.3 464.5,970.2 463.5,969.9 462.5,969.6 461.6,969.1 460.6,968.6 459.6,968 458.6,967.4 457.5,966.8 456.4,966.1 455.3,965.4 454.3,964.6 453.4,963.8 452.6,962.8 452.2,961.8 451.9,960.6 451.7,959.4 451.6,958.2 451.6,956.9 451.6,955.6 451.5,954.2 451.2,953 450.9,951.7 450.3,950.6 449.7,949.6 448.9,948.9 448.2,948.4Z" fill="#e3e3e3" stroke="#000" stroke-width="2.2"/>
<path d="M437.2,1074.7 438.1,1074.1 439.1,1073.6 440.2,1073.3 441.3,1073 442.6,1072.8 444,1072.6 445.4,1072.4 446.8,1072.3 448.3,1072.1 449.8,1071.9 451.3,1071.6 452.9,1071.2 454.4,1070.7 455.8,1070.2 457.2,1069.6 458.6,1069.2 459.8,1068.9 460.8,1069 461.8,1069.3 462.6,1069.9 463.3,1070.8 463.9,1071.8 464.5,1072.9 465,1074.2 465.5,1075.6 465.9,1077 466.3,1078.5 466.8,1079.9 467.2,1081.3 467.7,1082.7 468.1,1084.1 468.6,1085.4 469,1086.7 469.5,1088 469.8,1089.3 470.2,1090.5 470.5,1091.8 470.7,1093.1 470.9,1094.4 471,1095.7 471,1097 470.9,1098.3 470.7,1099.7 470.5,1101.1 470.1,1102.4 469.6,1103.8 469.1,1105.2 468.4,1106.5 467.7,1107.7 466.9,1108.9 466,1109.9 465.1,1110.9 464,1111.8 462.9,1112.5 461.8,1113.1 460.5,1113.5 459.3,1113.7 458,1113.9 456.6,1113.9 455.2,1113.8 453.9,1113.6 452.5,1113.3 451.1,1113 449.8,1112.5 448.4,1112.1 447.1,1111.5 445.9,1111 444.6,1110.4 443.5,1109.9 442.3,1109.7 441,1109.6 439.8,1110 438.5,1110.6 437.2,1111.4 436,1112.1 434.7,1112.6 433.6,1112.8 432.5,1112.5 431.6,1111.8 430.8,1110.8 430.1,1109.6 429.6,1108.4 429.3,1107.1 429.1,1105.8 429.1,1104.5 429.2,1103.2 429.3,1101.9 429.6,1100.6 429.9,1099.3 430.3,1097.9 430.7,1096.5 431.1,1095.2 431.6,1093.8 432,1092.3 432.4,1090.9 432.8,1089.5 433.1,1088 433.4,1086.5 433.6,1085.1 433.8,1083.6 434.1,1082.2 434.3,1080.9 434.6,1079.6 435,1078.4 435.4,1077.3 435.9,1076.3 436.5,1075.4Z" fill="#e3e3e3" stroke="#000" stroke-width="2.2"/>
<path d="M449.9,1085.9 449.9,1084.6 450.2,1083.6 450.9,1083.2 451.8,1083.1 453,1083.5 454.4,1084.3 455.6,1085.2 456.6,1086 457.3,1086.8 457.8,1087.7 458.1,1088.5 458.1,1089.3 457.9,1090.2 457.4,1091 456.7,1091.8 455.9,1092.5 455.2,1093.1 454.5,1093.5 453.8,1093.8 453.2,1093.9 452.7,1093.8 452.2,1093.6 451.7,1093.2 451.3,1092.6 450.9,1091.9 450.6,1091 450.4,1090 450.1,1088.8 450,1087.4Z" fill="#d8d8d8" stroke="#000" stroke-width="2.2"/>
<path d="M249.9,1192.3 250.3,1191.6 251,1190.9 251.9,1190.2 253,1189.6 254.2,1189.1 255.6,1188.6 256.9,1188.3 258.2,1188 259.5,1187.8 260.8,1187.8 262.1,1187.8 263.3,1188 264.4,1188.4 265.5,1188.9 266.5,1189.6 267.5,1190.5 268.4,1191.5 269.2,1192.5 269.9,1193.7 270.4,1194.9 270.9,1196.1 271.2,1197.2 271.3,1198.3 271.3,1199.3 271.1,1200.2 270.7,1200.9 270.2,1201.4 269.4,1201.8 268.5,1202 267.5,1202 266.4,1202 265.2,1201.8 263.9,1201.6 262.7,1201.4 261.4,1201 260.1,1200.6 258.8,1200.2 257.5,1199.7 256.3,1199.1 255.1,1198.5 253.9,1197.8 252.8,1197.1 251.9,1196.3 251,1195.5 250.4,1194.7 249.9,1193.9 249.8,1193.1Z" fill="#e3e3e3" stroke="#000" stroke-width="2.2"/>
<path d="M797.2,1124.6 796.1,1125.5 795,1126.5 794,1127.7 793.3,1128.9 792.7,1130.3 792.5,1131.7 792.7,1133.1 793.1,1134.6 793.5,1136 793.5,1137.3 793,1138.6 792.3,1139.8 791.5,1141 790.8,1142.3 790.5,1143.8 790.4,1145.3 790.4,1146.9 790.3,1148.3 789.9,1149.5 789.2,1150.5 788,1151.3 786.7,1151.9 785.3,1152.6 784.1,1153.5 783.1,1154.5 782.4,1155.7 781.9,1157.1 781.7,1158.6 781.8,1160.2 781.9,1161.9 782.1,1163.6 782.3,1165.3 782.4,1166.9 782.3,1168.5 781.9,1170 781.3,1171.3 780.3,1172.4 778.8,1173.3 777.1,1173.8 775.5,1174.1 774,1173.9 773,1173.3 772.2,1172.3 771.8,1171.1 771.6,1169.6 771.6,1168 771.8,1166.3 772.2,1164.7 772.6,1163.1 773,1161.6 773,1160.5 772.5,1159.8 771.6,1159.7 770.6,1160.1 769.5,1161.1 768.4,1162.3 767.2,1163.3 766.1,1164.1 765,1164.7 763.8,1165 762.5,1165 761.1,1164.7 759.6,1164.1 758,1163.3 756.4,1162.7 754.9,1162.5 753.7,1162.9 752.8,1163.9 752.2,1165.3 752,1166.9 752.1,1168.5 752.7,1169.9 753.7,1171 755.1,1171.7 756.7,1172.3 758.2,1172.8 759.6,1173.4 760.9,1174.1 762,1174.9 763.1,1175.7 764.2,1176.5 765.4,1177.2 766.7,1178 768.1,1178.7 769.7,1179.3 771.5,1179.8 773.2,1180.3 775,1180.8 776.6,1181.3 778.1,1181.9 779.4,1182.5 780.5,1183.2 781.1,1183.9 781.4,1184.8 781.2,1185.8 780.7,1186.9 779.9,1188 778.8,1189.2 777.7,1190.3 776.4,1191.4 775.1,1192.4 773.7,1193.3 772.2,1194.1 770.8,1194.8 769.3,1195.5 767.8,1196 766.2,1196.4 764.7,1196.7 763.2,1196.9 761.7,1196.9 760.2,1196.8 758.8,1196.6 757.4,1196.2 756,1195.6 754.8,1194.9 753.5,1194 752.4,1192.9 751.4,1191.9 750.5,1191.3 749.8,1191.4 749.2,1192.2 748.6,1193.4 747.8,1194.5 746.7,1195.5 745.3,1196.2 743.9,1196.8 742.4,1197.4 741.1,1198.1 740,1199 739.2,1200.1 738.7,1201.4 738.5,1202.9 738.6,1204.4 738.8,1206 739.3,1207.6 739.9,1209.2 740.7,1210.6 741.7,1211.9 742.7,1213 743.7,1214.1 744.6,1215.2 745.3,1216.4 745.8,1217.7 746,1219.3 746,1221 746,1222.7 746.2,1224.3 746.6,1225.5 747.4,1226.4 748.4,1227.1 749.6,1227.5 750.9,1227.8 752.3,1227.8 753.7,1227.8 755.2,1227.6 756.8,1227.3 758.4,1227 760,1226.6 761.7,1226.3 763.3,1225.9 764.9,1225.6 766.5,1225.4 768,1225.2 769.5,1225.2 770.9,1225.3 772.2,1225.6 773.5,1226.1 774.6,1226.8 775.6,1227.7 776.6,1228.8 777.5,1229.9 778.5,1231.1 779.6,1232.2 780.7,1233.3 781.9,1234.3 783.2,1235.2 784.5,1236 786,1236.7 787.4,1237.3 788.9,1237.8 790.4,1238.2 791.9,1238.5 793.5,1238.7 795,1238.8 796.5,1238.8 798,1238.7 799.4,1238.4 800.8,1238 802.2,1237.5 803.5,1236.9 804.7,1236.2 805.9,1235.4 807.1,1234.4 808.2,1233.4 809.3,1232.3 810.3,1231.1 811.3,1229.8 812.3,1228.4 813.2,1226.9 814.1,1225.3 814.9,1223.7 815.7,1222 816.4,1220.3 817.1,1218.4 817.8,1216.5 818.4,1214.6 819,1212.6 819.5,1210.5 820,1208.4 820.5,1206.3 820.9,1204.1 821.3,1201.9 821.6,1199.7 822,1197.4 822.2,1195.1 822.5,1192.8 822.7,1190.4 822.8,1188.1 823,1185.7 823.1,1183.3 823.1,1180.9 823.1,1178.6 823.1,1176.2 823.1,1173.8 823,1171.5 822.9,1169.1 822.8,1166.8 822.6,1164.5 822.4,1162.2 822.1,1159.9 821.9,1157.7 821.6,1155.5 821.2,1153.3 820.9,1151.2 820.5,1149.2 820,1147.1 819.6,1145.2 819.1,1143.2 818.6,1141.4 818,1139.6 817.5,1137.9 816.9,1136.2 816.2,1134.6 815.6,1133.1 814.9,1131.7 814.2,1130.4 813.4,1129.1 812.7,1128 811.9,1126.9 811.1,1125.9 810.3,1125 809.4,1124.3 808.5,1123.6 807.6,1123.1 806.7,1122.6 805.7,1122.3 804.7,1122.1 803.7,1122.1 802.7,1122.2 801.6,1122.4 800.6,1122.7 799.5,1123.2 798.4,1123.8Z" fill="#e3e3e3" stroke="#000" stroke-width="2.2"/>
<ellipse cx="784.2" cy="1210.4" rx="5.5" ry="7" fill="#d8d8d8" stroke="#000" stroke-width="2.2"/>
<ellipse cx="450.8" cy="1360.9" rx="4.5" ry="4.5" fill="#d2d2d2" stroke="#000" stroke-width="2.2"/>
<path d="M416.5,987.5 416.6,985.9 416.9,984.8 417.4,984 418.1,983.7 418.9,983.9 420,984.5 421.2,985.5 422.5,986.8 423.7,988.1 424.7,989.4 425.5,990.6 426.1,991.7 426.5,992.9 426.7,993.9 426.8,994.9 426.6,995.9 426.3,996.7 425.8,997.6 425.1,998.4 424.3,999.1 423.5,999.7 422.7,1000.1 422,1000.5 421.4,1000.7 420.7,1000.8 420.2,1000.8 419.6,1000.6 419.1,1000.4 418.7,1000 418.3,999.5 417.9,998.8 417.6,998.1 417.3,997.2 417,996.2 416.8,995 416.7,993.8 416.6,992.4 416.5,990.9 416.5,989.3Z" fill="#e3e3e3" stroke="#000" stroke-width="2.2"/>
<path d="M472.3,933.3 473,933.2 474,933.6 475.4,934.3 476.9,935.3 478.6,936.3 480.2,937.3 481.8,938.3 483.2,939.2 484.3,940.2 485.2,941.2 485.6,942.1 485.5,943.1 484.9,944.1 483.9,944.9 482.6,945.5 481.2,945.6 479.8,945.2 478.5,944.6 477.4,944.2 476.5,944.6 475.8,945.6 475.3,947.1 474.8,948.7 474.3,950.2 473.8,951.3 473.2,951.6 472.5,951.1 471.9,949.9 471.4,948.5 471.1,946.8 471.2,945.3 471.6,943.9 472.1,942.6 472.6,941.3 472.9,939.9 472.9,938.3 472.6,936.7 472.3,935.2 472.2,934Z" fill="#e3e3e3" stroke="#000" stroke-width="2.2"/>
<path d="M482.1,1121.4 482.1,1120.6 482.7,1119.9 483.6,1119.3 485,1118.7 486.6,1118.3 488.4,1118.1 490.2,1118 492.1,1118 493.8,1118.3 495.3,1118.7 496.7,1119.4 497.8,1120.2 498.7,1121.2 499.4,1122.3 499.8,1123.5 500,1124.9 500,1126.3 499.7,1127.7 499.2,1129.1 498.6,1130.5 497.8,1131.7 496.9,1132.9 495.8,1133.8 494.6,1134.5 493.4,1134.9 492.1,1135 490.8,1134.8 489.6,1134.3 488.7,1133.5 488.1,1132.4 487.8,1131.2 487.6,1129.8 487.5,1128.5 487.2,1127.1 486.6,1125.9 485.7,1124.9 484.6,1124 483.6,1123.1 482.6,1122.3Z" fill="#e3e3e3" stroke="#000" stroke-width="2.2"/>
<path d="M313.3,1206 313.1,1206 313.2,1205.7 313.3,1205.3 313.7,1204.6 314.1,1203.8 314.7,1203 315.3,1202 316.1,1201.1 316.9,1200.1 317.8,1199.3 318.7,1198.5 319.7,1197.9 320.7,1197.4 321.7,1197.2 322.7,1197.2 323.6,1197.4 324.4,1197.8 325.1,1198.3 325.7,1199 326.1,1199.8 326.3,1200.6 326.3,1201.4 326.1,1202.2 325.8,1202.8 325.3,1203.2 324.7,1203.4 323.9,1203.4 323.1,1203.4 322.2,1203.2 321.2,1203 320.2,1202.9 319.2,1202.8 318.2,1202.8 317.2,1203 316.3,1203.4 315.4,1203.9 314.7,1204.5 314.1,1205.2 313.6,1205.7Z" fill="#e3e3e3" stroke="#000" stroke-width="2.2"/>
<path d="M409.9,1327.9 411.7,1327.8 413.5,1328.3 415.2,1329.2 416.7,1330.5 418.1,1332 419.2,1333.8 420,1335.6 420.5,1337.4 420.7,1339.2 420.7,1341 420.8,1342.8 420.9,1344.7 421.2,1346.6 421.6,1348.6 422.2,1350.8 422.7,1352.9 422.8,1354.8 422.2,1356.3 420.6,1357.2 418.7,1357.4 417.2,1356.9 415.8,1355.8 414.8,1354.2 413.9,1352.4 413.2,1350.4 412.6,1348.4 412,1346.5 411.3,1344.9 410.4,1343.3 409.1,1342 407.5,1340.8 405.9,1339.6 404.6,1338.2 403.7,1336.6 403.6,1334.8 404.1,1333 405.2,1331.3 406.6,1329.7 408.2,1328.6Z" fill="#e3e3e3" stroke="#000" stroke-width="2.2"/>
<path d="M407.2,1230.7 407.8,1229.6 409.1,1228.7 410.7,1228 412.6,1227.4 414.6,1227 416.5,1226.7 418.3,1226.4 420,1226.1 421.6,1225.9 423.2,1225.7 424.9,1225.6 426.7,1225.5 428.5,1225.5 430.3,1225.7 432,1226.1 433.6,1226.8 435.1,1227.9 436.2,1229.2 436.9,1230.5 436.9,1231.8 436.2,1233 434.9,1234 433.3,1234.8 431.5,1235.3 429.7,1235.6 428,1235.7 426.3,1235.7 424.6,1235.6 422.8,1235.5 421.1,1235.4 419.3,1235.4 417.5,1235.6 415.7,1235.8 413.9,1236 412.2,1236 410.6,1235.6 409.2,1234.9 408.1,1233.6 407.3,1232.2Z" fill="#e3e3e3" stroke="#000" stroke-width="2.2"/>
<path d="M489.1,1089.6 490.1,1089.3 491,1089.3 492,1089.4 492.9,1089.7 493.8,1090.1 494.8,1090.6 495.7,1091.3 496.5,1092 497.4,1092.8 498.2,1093.7 498.9,1094.7 499.6,1095.7 500.3,1096.7 500.9,1097.7 501.4,1098.7 501.9,1099.7 502.2,1100.6 502.5,1101.6 502.8,1102.5 503,1103.3 503.2,1104.2 503.4,1105.1 503.6,1106 504,1106.9 504.4,1107.8 504.8,1108.8 505.3,1109.9 505.8,1110.9 506.3,1112 506.8,1113.1 507.1,1114.2 507.4,1115.3 507.6,1116.3 507.8,1117.4 507.8,1118.5 507.8,1119.5 507.7,1120.6 507.6,1121.7 507.4,1122.7 507.2,1123.8 507,1124.8 506.7,1125.9 506.5,1126.9 506.2,1128 506,1129 505.8,1130.1 505.6,1131.2 505.5,1132.2 505.4,1133.3 505.4,1134.4 505.4,1135.5 505.4,1136.5 505.6,1137.6 505.7,1138.7 505.9,1139.8 506.1,1140.9 506.3,1142 506.5,1143.1 506.7,1144.2 506.9,1145.2 507.1,1146.3 507.2,1147.4 507.4,1148.4 507.4,1149.5 507.4,1150.5 507.4,1151.5 507.3,1152.5 507.1,1153.5 506.9,1154.5 506.5,1155.4 506,1156.4 505.5,1157.3 504.9,1158.2 504.3,1159.1 503.6,1160 502.9,1160.9 502.1,1161.7 501.4,1162.6 500.7,1163.5 500,1164.4 499.4,1165.2 498.8,1166.1 498.2,1167 497.8,1167.9 497.5,1168.8 497.3,1169.7 497.2,1170.7 497.2,1171.6 497.4,1172.6 497.7,1173.6 498,1174.6 498.5,1175.6 499,1176.6 499.6,1177.7 500.2,1178.7 500.9,1179.8 501.5,1180.8 502,1181.9 502.6,1183 503.1,1184.1 503.5,1185.2 503.7,1186.3 503.9,1187.3 504,1188.4 503.9,1189.5 503.6,1190.6 503.3,1191.7 503,1192.7 502.6,1193.8 502.2,1194.9 501.8,1196 501.6,1197.1 501.4,1198.1 501.4,1199.2 501.5,1200.3 501.7,1201.4 501.9,1202.4 502.3,1203.3 502.7,1204.2 503.3,1205 503.9,1205.8 504.5,1206.4 505.3,1207 506.1,1207.4 506.9,1207.7 507.8,1207.9 508.7,1208 509.7,1207.9 510.7,1207.8 511.7,1207.5 512.8,1207.2 513.9,1206.9 515,1206.5 516.1,1206.1 517.3,1205.7 518.4,1205.3 519.6,1204.9 520.8,1204.5 522,1204.2 523.2,1203.9 524.3,1203.7 525.5,1203.6 526.7,1203.6 527.8,1203.7 528.9,1203.9 530,1204.2 531,1204.6 532,1205 532.9,1205.6 533.8,1206.2 534.6,1206.8 535.3,1207.6 535.9,1208.4 536.5,1209.2 536.9,1210.1 537.2,1211.1 537.5,1212.1 537.7,1213.1 537.8,1214.2 538.1,1215.2 538.4,1216.2 538.8,1217.1 539.3,1218 540,1218.9 540.8,1219.7 541.6,1220.4 542.5,1221.2 543.4,1221.9 544.3,1222.6 545.2,1223.3 546.1,1224 546.9,1224.7 547.7,1225.3 548.5,1226 549.2,1226.7 550,1227.4 550.7,1228 551.5,1228.7 552.2,1229.4 553,1230 553.8,1230.7 554.6,1231.3 555.4,1231.9 556.2,1232.6 557.1,1233.2 558,1233.9 558.9,1234.5 559.9,1235.1 561,1235.7 562.1,1236.3 563.2,1236.9 564.4,1237.5 565.7,1238.1 566.9,1238.7 568.1,1239.3 569.2,1239.8 570.1,1240.3 570.9,1240.7 571.6,1241.2 572,1241.5 572.1,1241.8 571.9,1242.1 571.5,1242.3 570.7,1242.5 569.7,1242.6 568.6,1242.7 567.4,1242.9 566.1,1243.1 564.9,1243.4 563.7,1243.8 562.7,1244.3 561.8,1244.9 561,1245.6 560.3,1246.4 559.7,1247.2 559.2,1248.2 558.7,1249.1 558.3,1250.1 557.9,1251.2 557.5,1252.2 557.2,1253.3 556.9,1254.4 556.5,1255.4 556.2,1256.5 555.8,1257.5 555.3,1258.5 554.8,1259.4 554.3,1260.2 553.6,1261 552.9,1261.7 552.1,1262.3 551.1,1262.9 550.2,1263.4 549.2,1263.8 548.1,1264.3 547.1,1264.8 546.1,1265.3 545.2,1265.8 544.3,1266.5 543.5,1267.2 542.7,1268 542.2,1269 541.7,1270.1 541.3,1271.2 540.9,1272.3 540.5,1273.2 540,1273.8 539.4,1274.2 538.5,1274.2 537.5,1273.9 536.5,1273.4 535.3,1272.9 534.2,1272.5 533.1,1272.2 532,1272 530.9,1272 529.9,1272.1 528.9,1272.2 527.8,1272.5 526.8,1272.8 525.8,1273.1 524.8,1273.5 523.8,1273.9 522.8,1274.3 521.8,1274.8 520.8,1275.2 519.8,1275.6 518.8,1275.9 517.8,1276.2 516.8,1276.5 515.7,1276.8 514.7,1277 513.6,1277.2 512.6,1277.4 511.5,1277.5 510.5,1277.7 509.4,1277.8 508.3,1277.9 507.3,1278.1 506.2,1278.2 505.1,1278.3 504.1,1278.4 503,1278.5 501.9,1278.6 500.9,1278.7 499.8,1278.9 498.7,1279 497.7,1279.2 496.6,1279.4 495.5,1279.6 494.5,1279.9 493.4,1280.1 492.4,1280.4 491.4,1280.8 490.3,1281.1 489.3,1281.6 488.3,1282 487.4,1282.5 486.5,1283 485.8,1283.6 485.3,1284.2 485,1284.8 485,1285.4 485.3,1286.1 486,1286.7 486.9,1287.4 487.9,1288.1 488.7,1289 489.3,1289.9 489.7,1291 489.8,1292.1 489.8,1293.2 489.7,1294.3 489.6,1295.4 489.6,1296.4 489.8,1297.3 490.1,1298 490.7,1298.5 491.4,1298.8 492.4,1299 493.4,1299 494.6,1298.9 495.8,1298.6 497,1298.2 498.2,1297.7 499.3,1297 500.3,1296.3 501.1,1295.5 501.9,1294.6 502.5,1293.7 503.1,1292.9 503.7,1292.2 504.2,1291.7 504.7,1291.3 505.3,1291.2 506,1291.3 506.7,1291.7 507.4,1292.3 508.2,1293 509,1293.9 509.8,1294.9 510.6,1296 511.4,1297.1 512.2,1298.2 513,1299.3 513.7,1300.4 514.4,1301.5 515,1302.5 515.5,1303.5 515.9,1304.4 516.3,1305.3 516.4,1306.1 516.5,1306.8 516.3,1307.5 516,1308.1 515.4,1308.6 514.7,1309 513.8,1309.4 512.8,1309.7 511.7,1310.1 510.6,1310.4 509.4,1310.8 508.3,1311.3 507.2,1311.8 506.2,1312.4 505.3,1313.1 504.5,1314 503.9,1314.9 503.3,1315.8 502.8,1316.6 502.3,1317.3 501.8,1317.9 501.3,1318.2 500.7,1318.3 500,1318.1 499.3,1317.6 498.6,1316.9 497.8,1316 497,1315.1 496.3,1314.2 495.6,1313.2 495,1312.2 494.3,1311.3 493.7,1310.3 493.1,1309.3 492.4,1308.3 491.8,1307.3 491.2,1306.4 490.5,1305.5 489.9,1304.6 489.3,1303.8 488.6,1302.9 487.9,1302.2 487.2,1301.5 486.4,1300.9 485.7,1300.3 484.8,1299.8 484,1299.4 483.1,1299.1 482.1,1298.9 481.1,1298.7 480.1,1298.7 479,1298.8 477.9,1298.9 476.8,1299.2 475.8,1299.6 474.8,1300.1 473.9,1300.6 473.1,1301.2 472.4,1302 471.9,1302.8 471.6,1303.7 471.3,1304.6 471.2,1305.6 471.2,1306.7 471.3,1307.7 471.4,1308.9 471.5,1310 471.6,1311.1 471.6,1312.2 471.6,1313.4 471.5,1314.4 471.3,1315.5 471,1316.5 470.6,1317.5 470.1,1318.4 469.5,1319.3 468.8,1320.2 468,1321.1 467.3,1322 466.4,1322.8 465.6,1323.7 464.8,1324.5 463.9,1325.3 463.1,1326.1 462.3,1326.9 461.5,1327.5 460.7,1328 460,1328.3 459.3,1328.4 458.6,1328.2 458,1327.8 457.5,1327.1 457,1326.1 456.5,1325 456,1323.7 455.5,1322.5 454.9,1321.3 454.2,1320.3 453.4,1319.5 452.4,1319 451.4,1318.8 450.5,1318.8 449.7,1319.1 449.2,1319.5 449,1320.1 448.9,1320.8 449,1321.7 449.3,1322.6 449.7,1323.7 450.2,1324.7 450.8,1325.8 451.4,1326.9 452,1328 452.7,1329 453.3,1330 453.9,1331 454.5,1331.9 455.1,1332.9 455.6,1333.8 456.2,1334.7 456.7,1335.6 457.1,1336.5 457.5,1337.5 457.9,1338.4 458.2,1339.4 458.5,1340.4 458.7,1341.3 459,1342.3 459.2,1343.3 459.5,1344.3 459.7,1345.4 460,1346.4 460.3,1347.4 460.7,1348.3 461.1,1349.3 461.5,1350.3 462,1351.3 462.4,1352.2 462.9,1353.2 463.3,1354.2 463.6,1355.1 464,1356.1 464.2,1357.1 464.3,1358.1 464.4,1359.1 464.4,1360.1 464.2,1361.1 464,1362.1 463.6,1363.1 463.2,1364.1 462.7,1365.1 462.1,1366 461.5,1366.9 460.8,1367.8 460,1368.6 459.2,1369.4 458.3,1370.1 457.4,1370.8 456.4,1371.4 455.4,1371.9 454.4,1372.3 453.4,1372.7 452.3,1372.9 451.2,1373.1 450.1,1373.2 448.9,1373.1 447.8,1372.9 446.7,1372.7 445.6,1372.3 444.5,1371.8 443.4,1371.4 442.5,1371.2 441.7,1371.1 440.9,1371.4 440.4,1372 439.9,1372.9 439.4,1373.8 438.8,1374.8 438.1,1375.7 437.3,1376.6 436.5,1377.4 435.7,1378.2 435,1379 434.5,1379.9 434.1,1380.9 433.8,1382 433.5,1383 433.2,1384 432.9,1385.1 432.6,1386 432.2,1387 431.6,1387.8 430.9,1388.5 430.2,1389.1 429.3,1389.7 428.3,1390.1 427.3,1390.4 426.2,1390.5 425.2,1390.6 424.1,1390.5 423.1,1390.3 422.2,1389.9 421.2,1389.5 420.4,1388.9 419.6,1388.2 418.9,1387.4 418.3,1386.6 417.8,1385.6 417.4,1384.6 417.1,1383.4 417,1382.3 417,1381.1 417,1379.9 417.2,1378.7 417.5,1377.5 417.9,1376.5 418.4,1375.5 419.1,1374.6 419.8,1373.8 420.6,1373.2 421.5,1372.8 422.5,1372.5 423.5,1372.3 424.5,1372.2 425.4,1372 426.3,1371.7 427.1,1371.3 427.7,1370.7 428.2,1369.9 428.6,1369.1 429,1368.1 429.3,1367 429.5,1365.9 429.7,1364.7 430,1363.6 430.2,1362.4 430.5,1361.3 430.9,1360.2 431.2,1359.2 431.7,1358.3 432.1,1357.3 432.6,1356.4 433.1,1355.5 433.6,1354.7 434.1,1353.8 434.6,1352.9 435.1,1352 435.6,1351.1 436.1,1350.3 436.6,1349.4 437.2,1348.6 437.7,1347.7 438.3,1346.9 439,1346.1 439.6,1345.3 440.4,1344.5 441.1,1343.8 442,1343.1 442.8,1342.5 443.8,1341.8 444.8,1341.2 445.9,1340.7 447.1,1340.2 448.2,1339.7 449.4,1339.2 450.4,1338.7 451.4,1338.2 452.2,1337.6 452.7,1337 453.1,1336.4 453.1,1335.6 452.9,1334.8 452.5,1334 451.9,1333.3 451.1,1332.6 450.3,1332 449.3,1331.6 448.3,1331.4 447.3,1331.4 446.3,1331.6 445.3,1332.1 444.3,1332.7 443.4,1333.3 442.4,1334 441.5,1334.7 440.6,1335.2 439.6,1335.5 438.7,1335.7 437.7,1335.5 436.7,1335 435.8,1334.1 434.9,1333.1 434.1,1332 433.5,1330.8 433.1,1329.7 432.8,1328.5 432.7,1327.5 432.7,1326.4 432.7,1325.4 432.8,1324.4 432.9,1323.5 433.1,1322.6 433.1,1321.7 433.1,1320.9 433,1320.2 432.8,1319.7 432.3,1319.4 431.7,1319.4 431,1319.6 430,1320 429,1320.5 428,1321.1 426.8,1321.8 425.7,1322.4 424.6,1322.9 423.5,1323.4 422.5,1323.7 421.5,1323.8 420.7,1323.6 420,1323.2 419.5,1322.6 419.1,1321.7 418.7,1320.7 418.4,1319.6 418.1,1318.4 417.8,1317.2 417.5,1316 417.2,1314.8 416.8,1313.8 416.3,1312.8 415.8,1311.9 415.3,1311.1 414.7,1310.2 414.2,1309.5 413.7,1308.7 413.3,1307.8 412.9,1307 412.6,1306 412.5,1305.1 412.4,1304 412.4,1302.9 412.4,1301.8 412.5,1300.6 412.6,1299.4 412.7,1298.2 412.8,1297 412.8,1295.9 412.9,1294.7 412.9,1293.6 412.8,1292.5 412.7,1291.5 412.5,1290.5 412.3,1289.5 412,1288.5 411.8,1287.6 411.5,1286.6 411.2,1285.7 410.9,1284.7 410.6,1283.7 410.5,1282.9 410.7,1282.1 411.3,1281.6 412.2,1281.3 413.3,1281 414.5,1280.8 415.8,1280.6 417,1280.3 418.1,1279.9 419,1279.3 419.8,1278.6 420.5,1277.8 421,1276.9 421.3,1276 421.4,1274.9 421.4,1273.9 421.2,1272.8 421.1,1271.8 421.1,1270.8 421.4,1270.1 422.1,1269.5 423.1,1269.1 424.1,1268.7 425.2,1268.3 426.2,1267.7 426.9,1267.1 427.5,1266.3 427.9,1265.4 428.1,1264.5 428.2,1263.5 428.2,1262.4 428.1,1261.3 427.9,1260.2 427.6,1259.1 427.2,1258 426.8,1257 426.2,1256 425.7,1255 425,1254 424.3,1253.1 423.6,1252.2 422.8,1251.5 422,1250.7 421.1,1250.1 420.2,1249.5 419.2,1249 418.2,1248.6 417.2,1248.2 416.1,1248 415.1,1247.7 414,1247.5 413,1247.4 411.9,1247.2 410.8,1247.1 409.8,1246.9 408.7,1246.7 407.7,1246.5 406.7,1246.3 405.7,1246 404.8,1245.6 403.9,1245.2 403,1244.7 402.2,1244.1 401.4,1243.4 400.7,1242.7 399.9,1241.9 399.2,1241.1 398.5,1240.3 397.8,1239.5 397,1238.7 396.3,1237.9 395.5,1237.1 394.6,1236.4 393.8,1235.8 392.9,1235.1 391.9,1234.5 391,1234 390,1233.4 389.1,1232.9 388.1,1232.4 387.2,1231.9 386.2,1231.4 385.3,1230.9 384.4,1230.3 383.5,1229.8 382.5,1229.3 381.6,1228.9 380.7,1228.4 379.8,1228 378.9,1227.6 377.9,1227.3 376.9,1227 375.9,1226.8 374.9,1226.6 373.8,1226.5 372.7,1226.5 371.6,1226.6 370.4,1226.7 369.2,1226.9 368,1227 366.9,1227 365.8,1226.9 364.9,1226.5 364.1,1225.9 363.4,1225 362.8,1224 362.2,1223 361.6,1222.2 360.8,1221.7 359.9,1221.6 358.9,1221.6 357.9,1221.8 356.8,1222.1 355.8,1222.4 354.7,1222.7 353.7,1223 352.7,1223.3 351.7,1223.5 350.7,1223.7 349.8,1223.9 348.8,1224.1 347.7,1224.3 346.7,1224.4 345.7,1224.5 344.7,1224.5 343.7,1224.5 342.6,1224.5 341.6,1224.5 340.5,1224.5 339.5,1224.4 338.4,1224.3 337.4,1224.3 336.3,1224.1 335.2,1224 334.1,1223.9 333.1,1223.7 332,1223.6 330.9,1223.4 329.8,1223.2 328.7,1223 327.7,1222.9 326.6,1222.7 325.5,1222.5 324.4,1222.3 323.3,1222.1 322.2,1221.9 321.2,1221.7 320.1,1221.6 319,1221.4 317.9,1221.2 316.8,1221.1 315.8,1220.9 314.7,1220.7 313.6,1220.5 312.6,1220.3 311.5,1220.1 310.5,1219.9 309.4,1219.6 308.4,1219.4 307.4,1219.1 306.4,1218.8 305.4,1218.4 304.4,1218.1 303.4,1217.7 302.5,1217.3 301.5,1216.8 300.6,1216.3 299.6,1215.8 298.7,1215.2 297.8,1214.6 297,1213.9 296.1,1213.2 295.2,1212.4 294.4,1211.7 293.5,1210.9 292.7,1210.2 291.8,1209.6 291,1209 290.1,1208.5 289.2,1208.1 288.3,1207.9 287.3,1207.8 286.3,1207.8 285.3,1208 284.2,1208.3 283.2,1208.7 282.1,1209 281.1,1209.3 280,1209.4 279.1,1209.5 278.1,1209.3 277.2,1208.8 276.4,1208.1 275.7,1207.2 275.1,1206.1 274.7,1205 274.6,1203.9 274.7,1203 275.1,1202.4 275.7,1201.9 276.6,1201.7 277.7,1201.6 278.9,1201.5 280.1,1201.5 281.4,1201.5 282.7,1201.4 283.9,1201.2 284.9,1200.9 285.8,1200.3 286.6,1199.7 287.3,1198.9 287.9,1198.1 288.5,1197.2 289.1,1196.4 289.7,1195.6 290.5,1195 291.3,1194.5 292.3,1194.2 293.5,1194.1 294.7,1194.1 296.1,1194.3 297.4,1194.5 298.7,1194.7 299.9,1194.8 301,1194.7 301.8,1194.5 302.4,1193.9 302.7,1193.1 302.8,1192.1 302.8,1190.9 302.8,1189.7 302.8,1188.6 303.1,1187.6 303.6,1186.8 304.3,1186.3 305.2,1185.9 306.3,1185.7 307.4,1185.4 308.6,1185.2 309.8,1184.8 310.9,1184.5 312,1184.1 313.1,1183.6 314.2,1183.2 315.2,1182.8 316.3,1182.4 317.3,1182.1 318.3,1181.9 319.3,1181.9 320.3,1181.9 321.3,1182 322.2,1182.3 323.2,1182.7 324.1,1183.1 325,1183.7 325.9,1184.3 326.8,1185 327.6,1185.8 328.5,1186.6 329.2,1187.5 330,1188.4 330.8,1189.3 331.5,1190.2 332.2,1191.2 332.9,1192 333.6,1192.8 334.4,1193.5 335.2,1194 336,1194.3 336.9,1194.5 337.9,1194.4 338.9,1194.2 339.9,1193.8 341,1193.4 342,1192.9 343.1,1192.3 344.1,1191.7 345.1,1191.2 346.2,1190.6 347.2,1190.1 348.2,1189.6 349.2,1189.1 350.1,1188.6 351.1,1188.2 352.1,1187.9 353.1,1187.6 354,1187.3 355,1187.1 356,1187 357,1186.9 358,1186.9 359,1187 360.1,1187 361.1,1187.1 362.3,1187.1 363.5,1187.1 364.7,1187 366,1186.9 367.2,1186.8 368.4,1186.7 369.6,1186.7 370.6,1186.9 371.6,1187.2 372.3,1187.7 372.9,1188.4 373.4,1189.4 373.6,1190.4 373.6,1191.6 373.4,1192.7 373,1193.6 372.4,1194.4 371.6,1195 370.6,1195.4 369.6,1195.7 368.4,1196.1 367.3,1196.4 366.1,1196.8 365,1197.3 363.9,1198 363,1198.9 362.2,1199.8 361.6,1200.7 361.2,1201.7 361,1202.6 361.2,1203.3 361.6,1204 362.3,1204.5 363.2,1204.9 364.2,1205.2 365.4,1205.3 366.7,1205.3 367.9,1205.2 369.2,1205 370.4,1204.6 371.5,1204.1 372.4,1203.6 373.3,1202.9 374,1202.3 374.7,1201.9 375.3,1201.7 376.1,1201.9 376.8,1202.2 377.7,1202.7 378.6,1203.3 379.5,1203.9 380.6,1204.3 381.8,1204.7 383,1204.9 384.3,1205 385.6,1205.1 386.8,1205.1 388,1205.1 389,1205.1 390,1205.1 390.8,1205.2 391.4,1205.4 391.7,1205.7 391.9,1206.2 391.7,1206.7 391.3,1207.5 390.7,1208.3 390,1209.3 389.3,1210.3 388.6,1211.3 387.9,1212.4 387.5,1213.4 387.2,1214.4 387.3,1215.4 387.6,1216.2 388.3,1217 389.1,1217.6 390.2,1218.2 391.3,1218.6 392.6,1219 394,1219.2 395.3,1219.3 396.6,1219.3 397.9,1219.1 399,1218.8 400,1218.3 400.8,1217.7 401.4,1217 401.9,1216.2 402.2,1215.3 402.5,1214.2 402.6,1213.1 402.7,1212 402.8,1210.8 402.9,1209.5 402.9,1208.3 403,1207.1 403.1,1205.8 403.2,1204.6 403.3,1203.4 403.3,1202.3 403.3,1201.1 403.3,1200 403.2,1199 402.9,1198 402.6,1197.1 402.2,1196.2 401.6,1195.4 400.8,1194.7 400,1194 399.1,1193.3 398.1,1192.6 397.2,1192 396.4,1191.2 395.6,1190.4 395,1189.6 394.6,1188.6 394.3,1187.5 394.3,1186.3 394.4,1185.1 394.8,1184 395.2,1183 395.9,1182.2 396.6,1181.6 397.4,1181.3 398.4,1181.1 399.4,1181 400.6,1181.1 401.8,1181.2 403,1181.4 404.4,1181.6 405.7,1181.7 407.1,1181.8 408.5,1181.9 409.9,1181.9 411.2,1181.9 412.4,1181.9 413.4,1181.8 414.4,1181.7 415.1,1181.5 415.7,1181.2 416,1180.9 416.1,1180.6 415.9,1180.1 415.4,1179.6 414.6,1179.1 413.6,1178.5 412.6,1177.8 411.5,1177.1 410.6,1176.4 409.8,1175.6 409.4,1174.8 409.3,1173.9 409.5,1173 409.9,1172.1 410.4,1171.1 411,1170.1 411.5,1169 411.8,1167.9 412.1,1166.7 412.1,1165.6 412,1164.5 411.6,1163.6 411,1162.9 410.2,1162.3 409.2,1161.9 408.2,1161.5 407.2,1161.2 406.2,1160.9 405.5,1160.5 404.9,1160 404.7,1159.4 404.7,1158.7 404.9,1157.9 405.3,1157 405.9,1156 406.5,1155 407.2,1154 407.9,1152.9 408.6,1151.8 409.3,1150.8 409.9,1149.7 410.5,1148.7 411.2,1147.8 411.8,1146.9 412.4,1146.1 413.1,1145.5 413.8,1145 414.6,1144.6 415.4,1144.3 416.3,1144.3 417.3,1144.4 418.4,1144.7 419.5,1145 420.6,1145.5 421.8,1146 423,1146.6 424.2,1147.2 425.4,1147.8 426.6,1148.3 427.7,1148.8 428.8,1149.1 429.9,1149.4 430.9,1149.5 431.8,1149.5 432.7,1149.3 433.4,1148.8 434,1148.1 434.6,1147.3 435.2,1146.5 435.8,1145.6 436.5,1144.9 437.3,1144.3 438.2,1143.9 439.4,1143.8 440.6,1144 441.8,1144.4 442.9,1145 443.8,1145.7 444.4,1146.5 444.6,1147.2 444.5,1148.1 444.2,1148.9 443.6,1149.7 442.9,1150.5 442.2,1151.4 441.4,1152.2 440.6,1153 439.8,1153.9 439,1154.7 438.3,1155.5 437.5,1156.4 436.8,1157.2 436.1,1158.1 435.4,1158.9 434.8,1159.8 434.2,1160.6 433.7,1161.5 433.3,1162.4 432.9,1163.3 432.6,1164.2 432.4,1165.1 432.3,1166.1 432.2,1167 432.3,1168 432.5,1169 432.7,1170 433,1171 433.3,1172.1 433.7,1173.1 434.1,1174.2 434.6,1175.3 435,1176.4 435.4,1177.5 435.8,1178.6 436.2,1179.7 436.5,1180.9 436.8,1182 437.1,1183.2 437.2,1184.4 437.4,1185.5 437.5,1186.6 437.7,1187.6 437.8,1188.5 438.1,1189.3 438.4,1189.9 438.9,1190.3 439.5,1190.5 440.2,1190.5 441.1,1190.3 442.1,1189.9 443.1,1189.4 444.3,1188.7 445.4,1188 446.6,1187.2 447.6,1186.4 448.7,1185.6 449.6,1184.8 450.5,1184.1 451.4,1183.3 452.1,1182.6 452.9,1181.9 453.6,1181.2 454.4,1180.5 455.1,1179.9 455.8,1179.2 456.5,1178.5 457.2,1177.7 458,1177 458.8,1176.3 459.6,1175.6 460.4,1174.9 461.2,1174.2 462.1,1173.5 463,1172.9 463.9,1172.2 464.8,1171.6 465.8,1171.1 466.8,1170.5 467.8,1170.1 468.8,1169.6 469.8,1169.2 470.8,1168.7 471.9,1168.3 472.8,1167.8 473.8,1167.2 474.7,1166.6 475.5,1165.9 476.3,1165.1 477,1164.1 477.5,1163.1 478,1161.9 478.3,1160.8 478.3,1159.8 478.1,1158.9 477.5,1158.3 476.7,1157.9 475.7,1157.6 474.6,1157.4 473.4,1157.2 472.2,1157 471,1156.8 469.8,1156.4 468.6,1156.1 467.5,1155.6 466.6,1155.1 465.7,1154.6 464.9,1154 464.3,1153.3 463.8,1152.6 463.5,1151.8 463.4,1150.9 463.6,1150 463.9,1149 464.4,1148.1 465.1,1147.1 466,1146.3 467,1145.5 468,1144.8 469.2,1144.2 470.3,1143.7 471.5,1143.2 472.6,1142.7 473.7,1142.3 474.6,1141.8 475.4,1141.4 476.1,1140.8 476.6,1140.3 476.8,1139.6 476.8,1138.9 476.5,1138.1 476,1137.2 475.2,1136.4 474.3,1135.7 473.2,1135.2 472,1135 470.8,1135.1 469.6,1135.4 468.3,1135.8 467.1,1136.2 466,1136.5 464.9,1136.6 464,1136.4 463.2,1135.9 462.6,1135.2 462.2,1134.4 462,1133.5 461.9,1132.6 462.2,1131.7 462.6,1130.9 463.4,1130.2 464.4,1129.7 465.5,1129.3 466.7,1128.9 467.9,1128.5 469.1,1128 470.2,1127.5 471,1126.8 471.7,1126 472.2,1125.1 472.5,1124 472.8,1122.9 472.9,1121.8 473,1120.6 473.1,1119.4 473.2,1118.3 473.4,1117.1 473.6,1116.1 473.9,1115.1 474.4,1114.3 474.9,1113.6 475.7,1113 476.6,1112.5 477.5,1112.1 478.6,1111.7 479.7,1111.4 480.8,1111.1 481.9,1110.8 483.1,1110.5 484.2,1110.2 485.2,1109.7 486.2,1109.3 487.1,1108.7 487.9,1108 488.5,1107.1 489,1106.2 489.3,1105.2 489.4,1104.1 489.4,1103.1 489.1,1102 488.7,1100.9 488.1,1099.9 487.4,1098.9 486.7,1098 486,1097 485.5,1096 485.2,1095.1 485.2,1094.1 485.5,1093.1 485.9,1092.2 486.6,1091.3 487.4,1090.6 488.2,1090Z" fill="none" stroke="#000" stroke-width="2.2" stroke-linejoin="round"/>
<path d="M448.5,1196.1 449.3,1194.9 450.1,1193.7 450.9,1192.6 451.7,1191.5 452.6,1190.4 453.5,1189.3 454.4,1188.3 455.4,1187.2 456.3,1186.2 457.3,1185.2 458.3,1184.2 459.3,1183.3 460.4,1182.3 461.5,1181.4 462.6,1180.5 463.7,1179.5 464.8,1178.6 466,1177.7 467.2,1176.8 468.4,1175.9 469.6,1175.1 470.8,1174.2 472.1,1173.3 473.4,1172.4 474.7,1171.5 476,1170.7 477.3,1169.8 478.6,1169 479.9,1168.4 481.1,1167.9 482.2,1167.7 483.3,1167.7 484.2,1168 485,1168.7 485.6,1169.6 486.2,1170.8 486.8,1172.2 487.5,1173.6 488.2,1174.9 489.1,1176.2 490,1177.4 491.1,1178.6 492.2,1179.7 493.2,1180.8 494.3,1181.8 495.3,1182.9 496.2,1183.9 497,1185 497.7,1186.2 498.2,1187.3 498.5,1188.6 498.5,1189.9 498.4,1191.3 498.2,1192.7 497.9,1194.2 497.7,1195.6 497.5,1197.1 497.4,1198.6 497.4,1200.1 497.5,1201.6 497.7,1203.1 498,1204.5 498.3,1205.9 498.8,1207.3 499.4,1208.6 500,1209.9 500.7,1211.2 501.5,1212.4 502.4,1213.5 503.3,1214.5 504.3,1215.5 505.4,1216.4 506.5,1217.3 507.7,1218 509,1218.6 510.3,1219.2 511.6,1219.6 513,1219.9 514.5,1220.2 516,1220.3 517.5,1220.4 519,1220.4 520.5,1220.5 522,1220.6 523.4,1220.7 524.8,1221 526.1,1221.3 527.4,1221.8 528.6,1222.4 529.7,1223.1 530.9,1223.9 532.1,1224.7 533.3,1225.5 534.5,1226.3 535.8,1227.1 537.1,1227.8 538.5,1228.5 539.9,1229.2 541.3,1229.9 542.7,1230.5 544.1,1231.2 545.4,1231.8 546.7,1232.5 547.8,1233.2 548.9,1233.9 549.8,1234.7 550.7,1235.5 551.5,1236.4 552.1,1237.4 552.7,1238.4 553.1,1239.5 553.4,1240.8 553.5,1242.1 553.6,1243.5 553.4,1245.1 553.2,1246.7 552.9,1248.3 552.4,1250 551.9,1251.6 551.3,1253.2 550.6,1254.7 549.9,1256.1 549.1,1257.4 548.3,1258.6 547.4,1259.7 546.5,1260.8 545.5,1261.8 544.5,1262.6 543.4,1263.4 542.3,1264.1 541.1,1264.8 539.9,1265.3 538.7,1265.8 537.5,1266.2 536.2,1266.6 534.9,1266.8 533.5,1267 532.2,1267.2 530.8,1267.2 529.4,1267.2 528,1267.1 526.6,1267 525.2,1266.8 523.8,1266.5 522.4,1266.2 520.9,1265.8 519.5,1265.4 518.1,1264.9 516.7,1264.4 515.2,1263.8 513.8,1263.3 512.5,1262.7 511.1,1262.3 509.7,1262 508.4,1261.8 507.2,1261.8 505.9,1262 504.7,1262.5 503.5,1263.3 502.4,1264.4 501.3,1265.6 500.2,1266.9 499.2,1268.1 498,1269.2 496.9,1270 495.8,1270.7 494.6,1271.3 493.4,1271.9 492.2,1272.4 491,1273 489.8,1273.5 488.6,1274.1 487.4,1274.8 486.2,1275.6 485,1276.4 483.9,1277.2 482.7,1278.1 481.6,1279 480.5,1279.9 479.5,1280.9 478.5,1281.9 477.4,1282.9 476.4,1283.9 475.4,1284.9 474.5,1286 473.5,1287 472.5,1288.1 471.6,1289.1 470.6,1290.1 469.6,1291.2 468.6,1292.2 467.7,1293.2 466.7,1294.2 465.7,1295.2 464.6,1296.1 463.6,1297 462.5,1297.9 461.4,1298.7 460.3,1299.4 459.2,1299.9 458,1300.3 456.7,1300.6 455.5,1300.6 454.1,1300.4 452.7,1299.9 451.3,1299.2 450,1298.3 448.9,1297.2 448,1296 447.6,1294.8 447.6,1293.5 447.8,1292.2 448.3,1290.9 448.7,1289.6 449.1,1288.2 449.4,1286.8 449.5,1285.4 449.6,1283.9 449.5,1282.5 449.3,1281.1 448.9,1279.7 448.5,1278.3 447.8,1277 447.2,1275.7 446.5,1274.4 446,1273.2 445.6,1271.9 445.6,1270.5 445.7,1269.2 446,1267.8 446.4,1266.4 446.8,1265 447.2,1263.6 447.5,1262.2 447.6,1260.8 447.6,1259.4 447.5,1258 447.3,1256.6 447,1255.2 446.6,1253.8 446.2,1252.4 445.8,1251 445.5,1249.5 445.1,1248.1 444.8,1246.7 444.6,1245.3 444.3,1243.8 444.1,1242.4 444,1241 443.9,1239.5 443.9,1238.1 444,1236.6 444.1,1235.2 444.3,1233.8 444.7,1232.5 445.1,1231.1 445.7,1229.8 446.5,1228.6 447.3,1227.4 448,1226.1 448.6,1224.9 449,1223.6 449.2,1222.3 449.2,1221 449,1219.6 448.7,1218.2 448.3,1216.8 447.8,1215.3 447.3,1213.9 446.8,1212.4 446.3,1210.9 445.8,1209.5 445.5,1208.1 445.2,1206.6 445.2,1205.2 445.3,1203.8 445.5,1202.5 445.9,1201.1 446.5,1199.8 447.1,1198.6 447.8,1197.3Z" fill="none" stroke="#000" stroke-width="2.2"/>
<path d="M455,1205.3 455.2,1203.8 455.5,1202.3 456,1200.8 456.5,1199.4 457.2,1198 457.9,1196.7 458.7,1195.3 459.6,1194 460.5,1192.8 461.5,1191.5 462.6,1190.3 463.7,1189.1 464.9,1188 466.1,1186.8 467.3,1185.7 468.5,1184.6 469.7,1183.5 471,1182.5 472.3,1181.5 473.6,1180.7 475,1179.9 476.4,1179.4 477.9,1179 479.5,1178.8 481.1,1178.8 482.7,1179 484.3,1179.3 485.8,1179.8 487.3,1180.5 488.6,1181.3 489.9,1182.2 490.9,1183.3 491.8,1184.6 492.5,1185.9 493,1187.4 493.4,1188.9 493.6,1190.6 493.7,1192.3 493.7,1194 493.7,1195.7 493.7,1197.5 493.7,1199.2 493.8,1200.9 493.9,1202.6 494.2,1204.1 494.6,1205.6 495.1,1207.1 495.7,1208.4 496.4,1209.7 497.3,1210.9 498.2,1212 499.2,1213.1 500.3,1214.1 501.4,1215 502.7,1215.8 504,1216.6 505.4,1217.4 506.8,1218 508.2,1218.6 509.8,1219.2 511.3,1219.7 512.9,1220.2 514.5,1220.6 516.1,1221 517.7,1221.4 519.3,1221.8 521,1222.2 522.6,1222.6 524.2,1223 525.8,1223.4 527.4,1223.9 528.9,1224.4 530.4,1225 531.9,1225.6 533.3,1226.3 534.6,1227 535.9,1227.9 537.1,1228.8 538.3,1229.8 539.4,1230.9 540.4,1232.2 541.3,1233.5 542.1,1234.9 542.8,1236.4 543.5,1237.9 544,1239.5 544.4,1241.2 544.8,1242.8 545.1,1244.5 545.2,1246.1 545.3,1247.8 545.2,1249.4 545,1251 544.8,1252.5 544.4,1254 543.9,1255.4 543.3,1256.8 542.5,1258 541.7,1259.1 540.7,1260.1 539.6,1261 538.4,1261.8 537.1,1262.4 535.6,1262.8 534,1263.1 532.4,1263.2 530.7,1263.2 529,1263 527.3,1262.6 525.7,1262.2 524.1,1261.6 522.6,1260.8 521.3,1260 520,1259 518.8,1258.1 517.6,1257.2 516.3,1256.3 514.9,1255.6 513.4,1255.1 511.8,1254.7 510.1,1254.5 508.5,1254.4 506.8,1254.5 505.2,1254.7 503.6,1255.2 502,1255.8 500.6,1256.6 499.3,1257.5 498.1,1258.6 496.9,1259.7 495.7,1260.8 494.6,1261.9 493.5,1262.8 492.3,1263.5 491.1,1264 489.8,1264.2 488.4,1264.1 487,1264 485.6,1263.8 484.1,1263.6 482.5,1263.6 481,1263.8 479.5,1264.1 478,1264.6 476.6,1265.3 475.3,1266.2 474,1267.2 472.8,1268.4 471.7,1269.7 470.6,1271.1 469.6,1272.5 468.5,1274 467.5,1275.4 466.5,1276.8 465.5,1278.2 464.4,1279.4 463.4,1280.4 462.2,1281.3 461.1,1282 460,1282.3 459,1282.1 458,1281.4 457.2,1280.4 456.5,1279.1 456,1277.6 455.6,1276 455.4,1274.4 455.4,1272.8 455.5,1271.1 455.6,1269.4 455.7,1267.7 455.9,1266.1 456,1264.4 456,1262.7 456,1261.1 456,1259.5 455.9,1257.9 455.9,1256.3 455.8,1254.7 455.7,1253.1 455.5,1251.5 455.4,1250 455.3,1248.4 455.2,1246.8 455.1,1245.3 455,1243.7 454.9,1242.2 454.9,1240.6 454.9,1239.1 454.9,1237.5 455,1235.9 455.1,1234.4 455.3,1232.8 455.5,1231.2 455.6,1229.6 455.8,1228 456,1226.4 456.1,1224.8 456.2,1223.2 456.2,1221.6 456.1,1219.9 456,1218.3 455.8,1216.6 455.6,1215 455.4,1213.3 455.2,1211.7 455,1210 454.9,1208.4 454.9,1206.8Z" fill="none" stroke="#000" stroke-width="2.2"/>
<path d="M462.5,1219.5 463,1218.3 463.4,1217.1 463.8,1215.9 464.1,1214.6 464.5,1213.4 464.8,1212.2 465.2,1210.9 465.6,1209.7 466,1208.6 466.5,1207.4 467.1,1206.4 467.8,1205.3 468.5,1204.4 469.4,1203.4 470.4,1202.6 471.5,1201.9 472.6,1201.2 473.8,1200.7 475,1200.2 476.3,1199.9 477.5,1199.8 478.6,1199.7 479.8,1199.9 480.8,1200.1 481.8,1200.6 482.7,1201.2 483.4,1202 484,1203 484.6,1204.1 485,1205.3 485.5,1206.6 485.8,1207.9 486.1,1209.3 486.5,1210.7 486.8,1212.1 487.1,1213.4 487.4,1214.7 487.8,1216 488.2,1217.1 488.6,1218.3 489,1219.4 489.5,1220.4 490.1,1221.5 490.6,1222.5 491.2,1223.5 491.9,1224.4 492.6,1225.4 493.3,1226.4 494.1,1227.4 495,1228.4 495.9,1229.3 496.8,1230.2 497.8,1231.1 498.8,1231.9 499.8,1232.6 500.9,1233.3 502,1233.8 503.1,1234.3 504.2,1234.6 505.4,1234.9 506.5,1235 507.7,1235 508.9,1234.9 510.1,1234.8 511.3,1234.7 512.5,1234.6 513.7,1234.5 514.8,1234.5 516,1234.5 517.1,1234.7 518.3,1234.9 519.4,1235.3 520.5,1235.7 521.6,1236.2 522.6,1236.8 523.6,1237.5 524.6,1238.3 525.6,1239.1 526.6,1240 527.5,1240.9 528.4,1241.9 529.3,1242.9 530.1,1244 531,1245.1 531.7,1246.3 532.5,1247.4 533.2,1248.7 533.9,1249.9 534.5,1251.1 535,1252.3 535.3,1253.5 535.5,1254.7 535.4,1255.8 535.1,1256.7 534.6,1257.5 533.9,1257.9 533.1,1258 532.1,1257.7 531.2,1257.1 530.1,1256.3 529.1,1255.3 528,1254.4 526.9,1253.6 525.8,1252.8 524.7,1252.1 523.7,1251.5 522.6,1250.9 521.5,1250.4 520.4,1250 519.3,1249.6 518.2,1249.2 517,1249 515.9,1248.7 514.8,1248.5 513.6,1248.4 512.5,1248.3 511.4,1248.3 510.2,1248.3 509,1248.4 507.9,1248.4 506.7,1248.6 505.5,1248.7 504.3,1248.9 503.1,1249.2 501.8,1249.4 500.6,1249.7 499.4,1250 498.1,1250.3 496.9,1250.7 495.6,1251.1 494.3,1251.4 493.1,1251.8 491.8,1252.2 490.5,1252.6 489.2,1252.9 488,1253.3 486.7,1253.7 485.4,1254 484.2,1254.3 482.9,1254.6 481.7,1254.9 480.4,1255.1 479.2,1255.3 478,1255.5 476.8,1255.6 475.6,1255.6 474.4,1255.7 473.2,1255.6 472,1255.5 470.9,1255.4 469.8,1255.2 468.7,1254.9 467.6,1254.5 466.5,1254.1 465.5,1253.6 464.5,1253 463.5,1252.3 462.5,1251.5 461.6,1250.6 460.7,1249.7 459.9,1248.7 459.1,1247.6 458.3,1246.5 457.6,1245.3 457,1244.1 456.5,1242.8 456,1241.6 455.7,1240.3 455.4,1239 455.2,1237.8 455.2,1236.5 455.2,1235.3 455.4,1234.1 455.7,1233 456.1,1231.8 456.5,1230.7 457,1229.6 457.6,1228.5 458.2,1227.4 458.9,1226.3 459.5,1225.2 460.2,1224.1 460.8,1223 461.4,1221.9 462,1220.7Z" fill="none" stroke="#000" stroke-width="2.2"/>
<path d="M469.2,1220 470.2,1219.3 471.3,1218.8 472.3,1218.5 473.4,1218.4 474.5,1218.4 475.6,1218.6 476.7,1219 477.8,1219.4 478.9,1220 480.1,1220.7 481.3,1221.4 482.4,1222.2 483.6,1223.1 484.8,1224 486,1225 487.2,1225.9 488.5,1226.9 489.7,1227.9 490.9,1228.9 492.2,1229.8 493.4,1230.7 494.7,1231.5 495.9,1232.3 497.1,1233 498.3,1233.8 499.3,1234.7 500.2,1235.6 501,1236.7 501.5,1237.9 501.9,1239.1 502,1240.3 501.8,1241.4 501.3,1242.4 500.6,1243.2 499.5,1243.9 498.4,1244.4 497,1245 495.6,1245.4 494.2,1245.9 492.8,1246.4 491.3,1246.9 489.9,1247.3 488.4,1247.8 487,1248.2 485.5,1248.6 484,1249 482.6,1249.4 481.1,1249.7 479.7,1249.9 478.3,1250.2 476.9,1250.3 475.5,1250.4 474.1,1250.4 472.7,1250.4 471.4,1250.3 470,1250.1 468.8,1249.8 467.5,1249.4 466.2,1249 465,1248.4 463.9,1247.7 462.7,1246.9 461.6,1246 460.6,1245 459.6,1243.9 458.7,1242.7 458.1,1241.4 457.6,1240.2 457.4,1238.9 457.5,1237.7 457.8,1236.4 458.3,1235.1 458.9,1233.9 459.7,1232.6 460.5,1231.3 461.5,1230 462.4,1228.6 463.4,1227.2 464.3,1225.8 465.3,1224.4 466.3,1223.1 467.2,1221.9 468.2,1220.9Z" fill="none" stroke="#000" stroke-width="2.2"/>
<ellipse cx="450.8" cy="980.5" rx="5" ry="4" fill="#e3e3e3" stroke="#000" stroke-width="2.2"/>
<ellipse cx="444.2" cy="1020.7" rx="4.5" ry="6" transform="rotate(20 444.2 1020.7)" fill="#e3e3e3" stroke="#000" stroke-width="2.2"/>
<ellipse cx="380.9" cy="986" rx="3" ry="2.5" fill="#e3e3e3" stroke="#000" stroke-width="2.2"/>
<ellipse cx="516.9" cy="950.3" rx="5" ry="8.5" transform="rotate(-40 516.9 950.3)" fill="#e3e3e3" stroke="#000" stroke-width="2.2"/>
<ellipse cx="499.8" cy="1036.7" rx="4.5" ry="4" transform="rotate(20 499.8 1036.7)" fill="#e3e3e3" stroke="#000" stroke-width="2.2"/>
<ellipse cx="503.1" cy="1048.2" rx="3" ry="4" transform="rotate(20 503.1 1048.2)" fill="#e3e3e3" stroke="#000" stroke-width="2.2"/>
<ellipse cx="436.6" cy="1123.7" rx="3" ry="5" transform="rotate(-35 436.6 1123.7)" fill="#e3e3e3" stroke="#000" stroke-width="2.2"/>
<ellipse cx="433.6" cy="1134.1" rx="6" ry="3" transform="rotate(-20 433.6 1134.1)" fill="#e3e3e3" stroke="#000" stroke-width="2.2"/>
<ellipse cx="474.2" cy="1128.2" rx="3" ry="4" fill="#e3e3e3" stroke="#000" stroke-width="2.2"/>
<ellipse cx="484.1" cy="1155.9" rx="5" ry="3" fill="#e3e3e3" stroke="#000" stroke-width="2.2"/>
<ellipse cx="335.9" cy="1206.7" rx="6" ry="4.5" transform="rotate(-10 335.9 1206.7)" fill="#e3e3e3" stroke="#000" stroke-width="2.2"/>
<ellipse cx="552.9" cy="1285.9" rx="3.5" ry="2.5" transform="rotate(20 552.9 1285.9)" fill="#e3e3e3" stroke="#000" stroke-width="2.2"/>
<ellipse cx="508.5" cy="1323.7" rx="3.5" ry="2.5" transform="rotate(20 508.5 1323.7)" fill="#e3e3e3" stroke="#000" stroke-width="2.2"/>
<ellipse cx="402.6" cy="1321.4" rx="5" ry="2.5" transform="rotate(15 402.6 1321.4)" fill="#e3e3e3" stroke="#000" stroke-width="2.2"/>
<ellipse cx="409" cy="1362.4" rx="4.5" ry="3" transform="rotate(40 409 1362.4)" fill="#e3e3e3" stroke="#000" stroke-width="2.2"/>
<ellipse cx="520.5" cy="1193.4" rx="2.8" ry="3.5" fill="#e3e3e3" stroke="#000" stroke-width="2.2"/>
<ellipse cx="538.8" cy="1176.7" rx="4" ry="2.5" transform="rotate(-45 538.8 1176.7)" fill="#e3e3e3" stroke="#000" stroke-width="2.2"/>
<ellipse cx="435.7" cy="1207.8" rx="5" ry="3.5" fill="#e3e3e3" stroke="#000" stroke-width="2.2"/>
<circle cx="445" cy="1127.7" r="2" fill="#000"/>
<circle cx="514.5" cy="1180.5" r="2" fill="#000"/>
<circle cx="532" cy="1170.6" r="1.5" fill="#000"/>
<circle cx="477.9" cy="921.8" r="1.5" fill="#000"/>
<path d="M212.1,1189.1 218.2,1191.8 212.1,1198.4" fill="none" stroke="#000" stroke-width="2.2"/>
<path d="M734,990.5 736.5,994" fill="none" stroke="#000" stroke-width="2.2"/>
<path d="M790.2,1098.1 789.2,1095.9 788.3,1094.2 787.3,1093 786.3,1092.2 785.3,1091.8 784.4,1091.7 783.6,1092 782.9,1092.4 782.2,1093.1 781.7,1093.9 781.3,1094.8 781.1,1095.8 781.1,1096.8 781.2,1097.8 781.5,1098.7 782,1099.7 782.6,1100.6 783.2,1101.5 783.9,1102.4 784.7,1103.2 785.4,1104.1 786.2,1105 786.8,1106 787.4,1106.9 787.9,1107.9 788.2,1108.9 788.4,1109.9 788.4,1110.9 788.2,1112 787.8,1113.1 787.3,1114.2 786.7,1115.2 785.9,1116.1 785.1,1116.9 784.3,1117.6 783.4,1118.2 782.5,1118.5 781.6,1118.7 780.7,1118.6 779.9,1118.3 779.2,1117.7 778.6,1117.1 778.2,1116.4 778,1115.8 778.1,1115.4 778.4,1115.2 778.9,1115.2 779.6,1115.4 780.3,1115.7 781.1,1116.3 781.9,1117 782.7,1117.8 783.5,1118.8 784.1,1119.9 784.8,1120.9 785.5,1121.8 786.3,1122.5 787.1,1123.1 788,1123.4 788.9,1123.7 789.8,1123.8 790.8,1123.8 791.8,1123.8 792.8,1123.7 793.8,1123.6 794.9,1123.6 795.9,1123.6 797,1123.6 798,1123.8" fill="none" stroke="#000" stroke-width="2.2"/>
<ellipse cx="263.1" cy="1444.1" rx="4.8" ry="4.4" fill="#ff0000"/>
<path d="M715.5,1381.5V1457.5" stroke="#000" stroke-width="5.2" stroke-linecap="round"/>
</g>
<rect x="149.9" y="910.8" width="646.2" height="645.6000000000001" fill="none" stroke="#000" stroke-width="2.8"/>
<path stroke="#000" stroke-width="2.2" fill="none" d="M149.9,1556.4V1538.9M149.9,910.8V928.3M311.45,1556.4V1538.9M311.45,910.8V928.3M473,1556.4V1538.9M473,910.8V928.3M634.55,1556.4V1538.9M634.55,910.8V928.3M796.1,1556.4V1538.9M796.1,910.8V928.3M182.21,1556.4V1550.4M182.21,910.8V916.8M214.52,1556.4V1550.4M214.52,910.8V916.8M246.83,1556.4V1550.4M246.83,910.8V916.8M279.14,1556.4V1550.4M279.14,910.8V916.8M343.76,1556.4V1550.4M343.76,910.8V916.8M376.07,1556.4V1550.4M376.07,910.8V916.8M408.38,1556.4V1550.4M408.38,910.8V916.8M440.69,1556.4V1550.4M440.69,910.8V916.8M505.31,1556.4V1550.4M505.31,910.8V916.8M537.62,1556.4V1550.4M537.62,910.8V916.8M569.93,1556.4V1550.4M569.93,910.8V916.8M602.24,1556.4V1550.4M602.24,910.8V916.8M666.86,1556.4V1550.4M666.86,910.8V916.8M699.17,1556.4V1550.4M699.17,910.8V916.8M731.48,1556.4V1550.4M731.48,910.8V916.8M763.79,1556.4V1550.4M763.79,910.8V916.8M149.9,1556.4H167.4M796.1,1556.4H778.6M149.9,1395H167.4M796.1,1395H778.6M149.9,1233.6H167.4M796.1,1233.6H778.6M149.9,1072.2H167.4M796.1,1072.2H778.6M149.9,910.8H167.4M796.1,910.8H778.6M149.9,1524.12H155.9M796.1,1524.12H790.1M149.9,1491.84H155.9M796.1,1491.84H790.1M149.9,1459.56H155.9M796.1,1459.56H790.1M149.9,1427.28H155.9M796.1,1427.28H790.1M149.9,1362.72H155.9M796.1,1362.72H790.1M149.9,1330.44H155.9M796.1,1330.44H790.1M149.9,1298.16H155.9M796.1,1298.16H790.1M149.9,1265.88H155.9M796.1,1265.88H790.1M149.9,1201.32H155.9M796.1,1201.32H790.1M149.9,1169.04H155.9M796.1,1169.04H790.1M149.9,1136.76H155.9M796.1,1136.76H790.1M149.9,1104.48H155.9M796.1,1104.48H790.1M149.9,1039.92H155.9M796.1,1039.92H790.1M149.9,1007.64H155.9M796.1,1007.64H790.1M149.9,975.36H155.9M796.1,975.36H790.1M149.9,943.08H155.9M796.1,943.08H790.1"/>
<rect x="796.1" y="910.8" width="16.5" height="645.6000000000001" fill="url(#cbC)" stroke="#000" stroke-width="2.4"/>
<path stroke="#000" stroke-width="2.2" d="M812.6,1343.97H822.1M812.6,1251.79H822.1M812.6,1181.06H822.1M812.6,1121.43H822.1M812.6,1068.9H822.1M812.6,1021.41H822.1M812.6,977.73H822.1M812.6,937.08H822.1"/>
<text transform="translate(779.0,28.3) scale(1,1.034)" font-family="'Liberation Sans'" font-size="39.3" font-weight="normal" font-style="normal" fill="#000">G201.52-11.08</text>
<text transform="translate(114.3,246.6)" font-family="'DejaVu Sans'" font-size="32" text-anchor="end" font-weight="normal" font-style="normal" fill="#000">10</text>
<text transform="translate(114.3,443.45)" font-family="'DejaVu Sans'" font-size="32" text-anchor="end" font-weight="normal" font-style="normal" fill="#000">0</text>
<text transform="translate(114.3,640.3)" font-family="'DejaVu Sans'" font-size="32" text-anchor="end" font-weight="normal" font-style="normal" fill="#000">-10</text>
<text transform="translate(282.76,824.3)" font-family="'DejaVu Sans'" font-size="32" text-anchor="middle" font-weight="normal" font-style="normal" fill="#000">-10</text>
<text transform="translate(479.7,824.3)" font-family="'DejaVu Sans'" font-size="32" text-anchor="middle" font-weight="normal" font-style="normal" fill="#000">0</text>
<text transform="translate(676.64,824.3)" font-family="'DejaVu Sans'" font-size="32" text-anchor="middle" font-weight="normal" font-style="normal" fill="#000">10</text>
<text transform="translate(874.4,152.3)" font-family="'DejaVu Sans'" font-size="32" font-weight="normal" font-style="normal" fill="#000">20</text>
<text transform="translate(874.4,241.3)" font-family="'DejaVu Sans'" font-size="32" font-weight="normal" font-style="normal" fill="#000">15</text>
<text transform="translate(874.4,347.8)" font-family="'DejaVu Sans'" font-size="32" font-weight="normal" font-style="normal" fill="#000">10</text>
<text transform="translate(874.4,489.5)" font-family="'DejaVu Sans'" font-size="32" font-weight="normal" font-style="normal" fill="#000">5</text>
<text transform="translate(183.9,150.2)" font-family="'DejaVu Sans'" font-size="47.5" font-weight="normal" font-style="normal" fill="#000">(a) 1.3mm Cont (ACA)</text>
<text transform="translate(806.0,691.2) rotate(-90)" font-family="'DejaVu Sans'" font-size="47.4" font-weight="normal" font-style="normal" fill="#000">2000 AU</text>
<text transform="translate(38.7,481.0) rotate(-90)" font-family="'DejaVu Sans'" font-size="32" font-weight="normal" font-style="normal" fill="#000">Δ<tspan font-style="italic">δ</tspan> (")</text>
<text transform="translate(432.4,869.5)" font-family="'DejaVu Sans'" font-size="31.8" font-weight="normal" font-style="normal" fill="#000">Δ<tspan font-style="italic">α</tspan> (")</text>
<text transform="translate(957.8,544.4) rotate(-90)" font-family="'DejaVu Sans'" font-size="32" font-weight="normal" font-style="normal" fill="#000">(mJy beam<tspan font-size="22.4" dy="-11.68">−1</tspan><tspan dy="11.68">)</tspan></text>
<text transform="translate(1074.5,710.99)" font-family="'DejaVu Sans'" font-size="32" text-anchor="end" font-weight="normal" font-style="normal" fill="#000">0</text>
<text transform="translate(1074.5,586.06)" font-family="'DejaVu Sans'" font-size="32" text-anchor="end" font-weight="normal" font-style="normal" fill="#000">5</text>
<text transform="translate(1074.5,461.13)" font-family="'DejaVu Sans'" font-size="32" text-anchor="end" font-weight="normal" font-style="normal" fill="#000">10</text>
<text transform="translate(1074.5,336.2)" font-family="'DejaVu Sans'" font-size="32" text-anchor="end" font-weight="normal" font-style="normal" fill="#000">15</text>
<text transform="translate(1074.5,211.27)" font-family="'DejaVu Sans'" font-size="32" text-anchor="end" font-weight="normal" font-style="normal" fill="#000">20</text>
<text transform="translate(1074.5,86.34)" font-family="'DejaVu Sans'" font-size="32" text-anchor="end" font-weight="normal" font-style="normal" fill="#000">25</text>
<text transform="translate(1080.8,803.5)" font-family="'DejaVu Sans'" font-size="32" text-anchor="middle" font-weight="normal" font-style="normal" fill="#000">−10</text>
<text transform="translate(1260.25,803.5)" font-family="'DejaVu Sans'" font-size="32" text-anchor="middle" font-weight="normal" font-style="normal" fill="#000">0</text>
<text transform="translate(1439.7,803.5)" font-family="'DejaVu Sans'" font-size="32" text-anchor="middle" font-weight="normal" font-style="normal" fill="#000">10</text>
<text transform="translate(1619.15,803.5)" font-family="'DejaVu Sans'" font-size="32" text-anchor="middle" font-weight="normal" font-style="normal" fill="#000">20</text>
<text transform="translate(1798.6,803.5)" font-family="'DejaVu Sans'" font-size="32" text-anchor="middle" font-weight="normal" font-style="normal" fill="#000">30</text>
<text transform="translate(1129.1,110.1)" font-family="'DejaVu Sans'" font-size="33" font-weight="normal" font-style="normal" fill="#000">(b)</text>
<text transform="translate(1690.2,127.6)" font-family="'DejaVu Sans'" font-size="33.3" font-weight="normal" font-style="normal" fill="#000">C<tspan font-size="23.31" dy="-12.15">18</tspan><tspan dy="12.15">O</tspan></text>
<text transform="translate(1019.2,532.1) rotate(-90)" font-family="'DejaVu Sans'" font-size="32.6" font-weight="normal" font-style="normal" fill="#000">Flux (mJy beam<tspan font-size="22.82" dy="-11.9">−1</tspan><tspan dy="11.9">)</tspan></text>
<text transform="translate(1296.7,842.9)" font-family="'DejaVu Sans'" font-size="32.6" font-weight="normal" font-style="normal" fill="#000">Velocity&#160; (km s<tspan font-size="22.82" dy="-11.9">−1</tspan><tspan dy="11.9">)</tspan></text>
<text transform="translate(140.6,1565.4)" font-family="'DejaVu Sans'" font-size="29.6" text-anchor="end" font-weight="normal" font-style="normal" fill="#000">-20</text>
<text transform="translate(140.6,1404.0)" font-family="'DejaVu Sans'" font-size="29.6" text-anchor="end" font-weight="normal" font-style="normal" fill="#000">-10</text>
<text transform="translate(140.6,1242.6)" font-family="'DejaVu Sans'" font-size="29.6" text-anchor="end" font-weight="normal" font-style="normal" fill="#000">0</text>
<text transform="translate(140.6,1081.2)" font-family="'DejaVu Sans'" font-size="29.6" text-anchor="end" font-weight="normal" font-style="normal" fill="#000">10</text>
<text transform="translate(140.6,919.8)" font-family="'DejaVu Sans'" font-size="29.6" text-anchor="end" font-weight="normal" font-style="normal" fill="#000">20</text>
<text transform="translate(149.9,1589.7)" font-family="'DejaVu Sans'" font-size="29.6" text-anchor="middle" font-weight="normal" font-style="normal" fill="#000">-20</text>
<text transform="translate(311.45,1589.7)" font-family="'DejaVu Sans'" font-size="29.6" text-anchor="middle" font-weight="normal" font-style="normal" fill="#000">-10</text>
<text transform="translate(473.0,1589.7)" font-family="'DejaVu Sans'" font-size="29.6" text-anchor="middle" font-weight="normal" font-style="normal" fill="#000">0</text>
<text transform="translate(634.55,1589.7)" font-family="'DejaVu Sans'" font-size="29.6" text-anchor="middle" font-weight="normal" font-style="normal" fill="#000">10</text>
<text transform="translate(796.1,1589.7)" font-family="'DejaVu Sans'" font-size="29.6" text-anchor="middle" font-weight="normal" font-style="normal" fill="#000">20</text>
<text transform="translate(832.5,1355.39)" font-family="'DejaVu Sans'" font-size="29.6" font-weight="normal" font-style="normal" fill="#000">20</text>
<text transform="translate(832.5,1263.21)" font-family="'DejaVu Sans'" font-size="29.6" font-weight="normal" font-style="normal" fill="#000">40</text>
<text transform="translate(832.5,1192.48)" font-family="'DejaVu Sans'" font-size="29.6" font-weight="normal" font-style="normal" fill="#000">60</text>
<text transform="translate(832.5,1132.85)" font-family="'DejaVu Sans'" font-size="29.6" font-weight="normal" font-style="normal" fill="#000">80</text>
<text transform="translate(832.5,1080.32)" font-family="'DejaVu Sans'" font-size="29.6" font-weight="normal" font-style="normal" fill="#000">100</text>
<text transform="translate(832.5,1032.83)" font-family="'DejaVu Sans'" font-size="29.6" font-weight="normal" font-style="normal" fill="#000">120</text>
<text transform="translate(832.5,989.15)" font-family="'DejaVu Sans'" font-size="29.6" font-weight="normal" font-style="normal" fill="#000">140</text>
<text transform="translate(832.5,948.5)" font-family="'DejaVu Sans'" font-size="29.6" font-weight="normal" font-style="normal" fill="#000">160</text>
<text transform="translate(229.9,975.4)" font-family="'DejaVu Sans'" font-size="43.3" font-weight="bold" font-style="normal" fill="#000">(c) CO</text>
<text transform="translate(771.0,1467.35) rotate(-90)" font-family="'DejaVu Sans'" font-size="43.0" font-weight="normal" font-style="normal" fill="#000">2000 AU</text>
<text transform="translate(71.7,1275.5) rotate(-90)" font-family="'DejaVu Sans'" font-size="28.8" font-weight="normal" font-style="normal" fill="#000">Δ<tspan font-style="italic">δ</tspan> (")</text>
<text transform="translate(430.1,1631.3)" font-family="'DejaVu Sans'" font-size="28.8" font-weight="normal" font-style="normal" fill="#000">Δ<tspan font-style="italic">α</tspan> (")</text>
<text transform="translate(928.5,1315.0) rotate(-90)" font-family="'DejaVu Sans'" font-size="30.0" font-weight="normal" font-style="normal" fill="#000">(K km s<tspan font-size="21.0" dy="-10.95">−1</tspan><tspan dy="10.95">)</tspan></text>
<g clip-path="url(#clipC)">
<path d="M181.7,1116.4 184.2,1118.2 186.8,1120 189.3,1121.7 191.8,1123.5 194.4,1125.3 196.9,1127 199.4,1128.8 202,1130.6 204.5,1132.4 207,1134.2 209.6,1136 212.1,1137.8 214.6,1139.6 217.2,1141.4 219.7,1143.2 222.2,1145 224.8,1146.8 227.3,1148.6 229.8,1150.4 232.4,1152.2 234.9,1154 237.5,1155.8 240,1157.6 242.6,1159.4 245.2,1161.1 247.7,1162.9 250.3,1164.7 252.9,1166.5 255.4,1168.2 258,1170 260.6,1171.7 263.2,1173.4 265.8,1175.2 268.4,1176.9 271,1178.6 273.6,1180.3 276.2,1182 278.9,1183.7 281.5,1185.3 284.1,1187 286.8,1188.7 289.4,1190.3 292.1,1191.9 294.8,1193.5 297.4,1195.1 300.1,1196.7 302.8,1198.2 305.5,1199.8 308.2,1201.3 311,1202.8 313.7,1204.3 316.4,1205.8 319.2,1207.3 321.9,1208.7 324.7,1210.1 327.5,1211.5 330.3,1212.9 333.1,1214.3 335.9,1215.6 338.7,1216.9 341.6,1218.2 344.4,1219.5 347.3,1220.7 350.1,1222 353,1223.2 355.9,1224.3 358.8,1225.5 361.8,1226.6 364.7,1227.7 367.7,1228.8 370.6,1229.9 373.6,1230.9 376.6,1231.9 379.6,1232.8 382.6,1233.8 385.7,1234.7 388.7,1235.5 391.8,1236.4 394.9,1237.2 398,1238 401.1,1238.7 404.2,1239.5 407.4,1240.1 410.5,1240.8 413.7,1241.3 416.8,1241.9 420,1242.3 423.1,1242.7 426.3,1243 429.4,1243.2 432.4,1243.3 435.5,1243.3 438.5,1243.2 441.5,1243 444.4,1242.7 447.3,1242.2 450.1,1241.6 452.9,1240.9 455.6,1240 458.3,1238.9 460.9,1237.7 463.4,1236.3 465.8,1234.8 468.1,1233.1 470.4,1231.2 472.6,1229.2 474.6,1227.1 476.6,1224.8 478.5,1222.5 480.2,1220 481.9,1217.5 483.5,1214.9 485,1212.2 486.4,1209.4 487.7,1206.5 489,1203.6 490.1,1200.6 491.2,1197.5 492.2,1194.4 493.1,1191.3 494,1188.1 494.7,1184.9 495.5,1181.6 496.1,1178.3 496.7,1175 497.2,1171.7 497.7,1168.4 498.1,1165.1 498.4,1161.8 498.7,1158.6 498.9,1155.3 499.1,1152.1 499.3,1148.8 499.4,1145.7 499.4,1142.5 499.4,1139.4 499.4,1136.3 499.3,1133.2 499.2,1130.2 499.1,1127.2 498.9,1124.2 498.8,1121.2 498.5,1118.2 498.3,1115.2 498,1112.2 497.7,1109.2 497.4,1106.3 497,1103.3 496.7,1100.3 496.3,1097.3 495.9,1094.2 495.5,1091.2 495,1088.2 494.6,1085.2 494.1,1082.1 493.6,1079.1 493.1,1076 492.6,1073 492.1,1069.9 491.5,1066.8 491,1063.8 490.4,1060.7 489.8,1057.6 489.2,1054.6 488.6,1051.5 488,1048.4 487.3,1045.3 486.7,1042.3 486,1039.2 485.3,1036.1 484.6,1033 483.9,1030 483.2,1026.9 482.5,1023.8 481.7,1020.7 481,1017.7 480.2,1014.6 479.5,1011.5 478.7,1008.5 477.9,1005.4 477.1,1002.4 476.3,999.4 475.5,996.3 474.7,993.3 473.9,990.3 473,987.2 472.2,984.2 471.4,981.2 470.5,978.2 469.7,975.3 468.8,972.3 467.9,969.3 467.1,966.4 466.2,963.4 465.3,960.5 464.5,957.5 463.6,954.6 462.7,951.7 461.8,948.8" fill="none" stroke="#ff0000" stroke-width="4.4"/>
<path d="M449.7,1519.5 449,1516.3 448.3,1513 447.5,1509.8 446.8,1506.6 446.2,1503.4 445.5,1500.2 444.8,1497 444.2,1493.8 443.5,1490.6 442.9,1487.4 442.3,1484.3 441.7,1481.1 441.2,1478 440.6,1474.8 440,1471.7 439.5,1468.5 439,1465.4 438.5,1462.3 438,1459.1 437.5,1456 437,1452.9 436.5,1449.8 436.1,1446.7 435.7,1443.5 435.2,1440.4 434.8,1437.3 434.4,1434.2 434,1431.1 433.7,1427.9 433.3,1424.8 432.9,1421.7 432.6,1418.5 432.3,1415.4 432,1412.3 431.6,1409.1 431.4,1406 431.1,1402.8 430.8,1399.6 430.5,1396.5 430.3,1393.3 430.1,1390.1 429.8,1386.9 429.6,1383.7 429.4,1380.5 429.2,1377.2 429,1374 428.9,1370.7 428.7,1367.5 428.5,1364.2 428.4,1360.9 428.3,1357.6 428.2,1354.3 428.1,1351 428.1,1347.7 428,1344.4 428.1,1341.1 428.1,1337.8 428.2,1334.5 428.3,1331.1 428.4,1327.8 428.6,1324.6 428.8,1321.3 429.1,1318 429.5,1314.7 429.8,1311.5 430.3,1308.2 430.8,1305 431.3,1301.8 431.9,1298.6 432.6,1295.4 433.3,1292.3 434.1,1289.1 435,1286 435.9,1282.9 436.9,1279.9 438,1276.8 439.2,1273.8 440.5,1270.9 441.8,1267.9 443.2,1265 444.8,1262.2 446.3,1259.4 448,1256.7 449.8,1254 451.6,1251.5 453.5,1249 455.5,1246.6 457.6,1244.3 459.8,1242.1 462,1240 464.4,1238 466.8,1236.2 469.3,1234.5 471.9,1232.9 474.5,1231.5 477.3,1230.2 480.1,1229.1 482.9,1228.1 485.8,1227.2 488.8,1226.5 491.8,1225.8 494.8,1225.4 497.9,1225 501,1224.8 504.1,1224.7 507.2,1224.8 510.4,1225 513.5,1225.3 516.7,1225.7 519.8,1226.2 523,1226.8 526.1,1227.5 529.3,1228.3 532.4,1229.2 535.6,1230.2 538.7,1231.2 541.8,1232.4 545,1233.5 548.1,1234.8 551.2,1236 554.3,1237.4 557.3,1238.7 560.4,1240.1 563.4,1241.5 566.4,1243 569.4,1244.4 572.4,1245.9 575.3,1247.4 578.3,1248.9 581.2,1250.4 584.1,1251.9 587,1253.5 589.8,1255.1 592.7,1256.7 595.5,1258.3 598.3,1259.9 601.1,1261.5 603.8,1263.2 606.6,1264.9 609.3,1266.6 612.1,1268.3 614.8,1270 617.5,1271.7 620.1,1273.5 622.8,1275.2 625.4,1277 628.1,1278.8 630.7,1280.6 633.3,1282.5 635.9,1284.3 638.5,1286.1 641,1288 643.6,1289.9 646.1,1291.8 648.7,1293.7 651.2,1295.6 653.7,1297.5 656.2,1299.5 658.7,1301.4 661.2,1303.4 663.7,1305.4 666.1,1307.4 668.6,1309.4 671,1311.4 673.5,1313.4 675.9,1315.5 678.3,1317.5 680.7,1319.6 683.1,1321.7 685.5,1323.7 687.9,1325.8 690.3,1327.9 692.7,1330 695.1,1332.2 697.4,1334.3 699.8,1336.4 702.2,1338.6 704.5,1340.7 706.9,1342.9 709.2,1345.1 711.6,1347.3 713.9,1349.4 716.3,1351.6 718.6,1353.9 721,1356.1 723.3,1358.3 725.6,1360.5 728,1362.8 730.3,1365 732.6,1367.2 735,1369.5 737.3,1371.8 739.6,1374 742,1376.3 744.3,1378.6 746.6,1380.9 749,1383.2 751.3,1385.4 753.6,1387.7" fill="none" stroke="#00ffff" stroke-width="4.4"/>
<path d="M474.15,1222.63 479.67,1228.15 473.52,1234.3 479.67,1240.45 474.15,1245.97 468,1239.82 461.85,1245.97 456.33,1240.45 462.48,1234.3 456.33,1228.15 461.85,1222.63 468,1228.78Z" fill="#ff00ff" stroke="#fff" stroke-width="2.3" stroke-linejoin="miter"/>
</g>
</svg>
</body></html>
